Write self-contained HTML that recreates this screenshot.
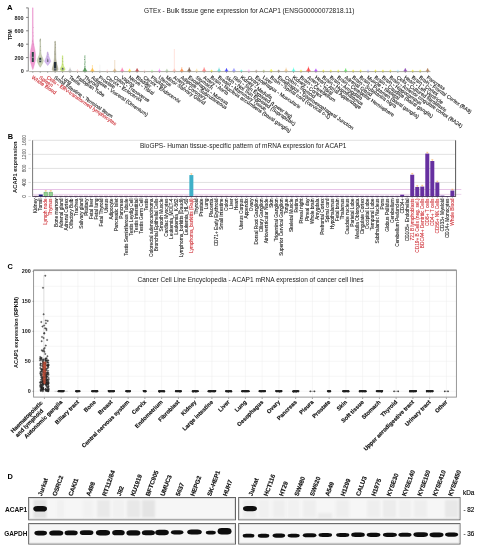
<!DOCTYPE html><html><head><meta charset="utf-8"><title>ACAP1 expression figure</title><style>html,body{margin:0;padding:0;background:#fff;width:479px;height:550px;overflow:hidden}svg{display:block;font-family:"Liberation Sans",Arial,sans-serif;filter:blur(0.3px)}</style></head><body><svg width="479" height="550" viewBox="0 0 479 550" font-family="&quot;Liberation Sans&quot;, Arial, sans-serif"><defs><filter id="b1" x="-20%" y="-60%" width="140%" height="220%"><feGaussianBlur stdDeviation="0.45"/></filter><filter id="b2" x="-20%" y="-20%" width="140%" height="140%"><feGaussianBlur stdDeviation="1.2"/></filter></defs><text x="6.9" y="9.8" font-size="7.8" font-weight="bold" fill="#000" text-anchor="start">A</text>
<text x="144" y="13.3" font-size="6.57" font-weight="normal" fill="#222" text-anchor="start" stroke="none">GTEx - Bulk tissue gene expression for ACAP1 (ENSG00000072818.11)</text>
<line x1="28.3" y1="7.8" x2="28.3" y2="71.3" stroke="#7a7a7a" stroke-width="0.85"/>
<line x1="26.1" y1="7.9" x2="28.3" y2="7.9" stroke="#555" stroke-width="0.75"/>
<line x1="26.1" y1="71" x2="28.3" y2="71" stroke="#555" stroke-width="0.75"/>
<text x="23.7" y="73.4" font-size="5.5" font-weight="bold" fill="#222" text-anchor="end">0</text>
<line x1="26.1" y1="57.6" x2="28.3" y2="57.6" stroke="#555" stroke-width="0.75"/>
<text x="23.7" y="60" font-size="5.5" font-weight="bold" fill="#222" text-anchor="end">200</text>
<line x1="26.1" y1="44.2" x2="28.3" y2="44.2" stroke="#555" stroke-width="0.75"/>
<text x="23.7" y="46.6" font-size="5.5" font-weight="bold" fill="#222" text-anchor="end">40</text>
<line x1="26.1" y1="30.8" x2="28.3" y2="30.8" stroke="#555" stroke-width="0.75"/>
<text x="23.7" y="33.2" font-size="5.5" font-weight="bold" fill="#222" text-anchor="end">600</text>
<line x1="26.1" y1="17.4" x2="28.3" y2="17.4" stroke="#555" stroke-width="0.75"/>
<text x="23.7" y="19.8" font-size="5.5" font-weight="bold" fill="#222" text-anchor="end">800</text>
<text x="11.6" y="34.7" font-size="5" font-weight="bold" fill="#111" text-anchor="middle" transform="rotate(-90 11.6 34.7)">TPM</text>
<line x1="29.3" y1="71.6" x2="430.5" y2="71.6" stroke="#a4a49a" stroke-width="0.9"/>
<line x1="32.8" y1="71.6" x2="32.8" y2="73" stroke="#666" stroke-width="0.5"/>
<line x1="40.25" y1="71.6" x2="40.25" y2="73" stroke="#666" stroke-width="0.5"/>
<line x1="47.7" y1="71.6" x2="47.7" y2="73" stroke="#666" stroke-width="0.5"/>
<line x1="55.15" y1="71.6" x2="55.15" y2="73" stroke="#666" stroke-width="0.5"/>
<line x1="62.6" y1="71.6" x2="62.6" y2="73" stroke="#666" stroke-width="0.5"/>
<line x1="70.05" y1="71.6" x2="70.05" y2="73" stroke="#666" stroke-width="0.5"/>
<line x1="77.5" y1="71.6" x2="77.5" y2="73" stroke="#666" stroke-width="0.5"/>
<line x1="84.95" y1="71.6" x2="84.95" y2="73" stroke="#666" stroke-width="0.5"/>
<line x1="92.4" y1="71.6" x2="92.4" y2="73" stroke="#666" stroke-width="0.5"/>
<line x1="99.85" y1="71.6" x2="99.85" y2="73" stroke="#666" stroke-width="0.5"/>
<line x1="107.3" y1="71.6" x2="107.3" y2="73" stroke="#666" stroke-width="0.5"/>
<line x1="114.75" y1="71.6" x2="114.75" y2="73" stroke="#666" stroke-width="0.5"/>
<line x1="122.2" y1="71.6" x2="122.2" y2="73" stroke="#666" stroke-width="0.5"/>
<line x1="129.65" y1="71.6" x2="129.65" y2="73" stroke="#666" stroke-width="0.5"/>
<line x1="137.1" y1="71.6" x2="137.1" y2="73" stroke="#666" stroke-width="0.5"/>
<line x1="144.55" y1="71.6" x2="144.55" y2="73" stroke="#666" stroke-width="0.5"/>
<line x1="152" y1="71.6" x2="152" y2="73" stroke="#666" stroke-width="0.5"/>
<line x1="159.45" y1="71.6" x2="159.45" y2="73" stroke="#666" stroke-width="0.5"/>
<line x1="166.9" y1="71.6" x2="166.9" y2="73" stroke="#666" stroke-width="0.5"/>
<line x1="174.35" y1="71.6" x2="174.35" y2="73" stroke="#666" stroke-width="0.5"/>
<line x1="181.8" y1="71.6" x2="181.8" y2="73" stroke="#666" stroke-width="0.5"/>
<line x1="189.25" y1="71.6" x2="189.25" y2="73" stroke="#666" stroke-width="0.5"/>
<line x1="196.7" y1="71.6" x2="196.7" y2="73" stroke="#666" stroke-width="0.5"/>
<line x1="204.15" y1="71.6" x2="204.15" y2="73" stroke="#666" stroke-width="0.5"/>
<line x1="211.6" y1="71.6" x2="211.6" y2="73" stroke="#666" stroke-width="0.5"/>
<line x1="219.05" y1="71.6" x2="219.05" y2="73" stroke="#666" stroke-width="0.5"/>
<line x1="226.5" y1="71.6" x2="226.5" y2="73" stroke="#666" stroke-width="0.5"/>
<line x1="233.95" y1="71.6" x2="233.95" y2="73" stroke="#666" stroke-width="0.5"/>
<line x1="241.4" y1="71.6" x2="241.4" y2="73" stroke="#666" stroke-width="0.5"/>
<line x1="248.85" y1="71.6" x2="248.85" y2="73" stroke="#666" stroke-width="0.5"/>
<line x1="256.3" y1="71.6" x2="256.3" y2="73" stroke="#666" stroke-width="0.5"/>
<line x1="263.75" y1="71.6" x2="263.75" y2="73" stroke="#666" stroke-width="0.5"/>
<line x1="271.2" y1="71.6" x2="271.2" y2="73" stroke="#666" stroke-width="0.5"/>
<line x1="278.65" y1="71.6" x2="278.65" y2="73" stroke="#666" stroke-width="0.5"/>
<line x1="286.1" y1="71.6" x2="286.1" y2="73" stroke="#666" stroke-width="0.5"/>
<line x1="293.55" y1="71.6" x2="293.55" y2="73" stroke="#666" stroke-width="0.5"/>
<line x1="301" y1="71.6" x2="301" y2="73" stroke="#666" stroke-width="0.5"/>
<line x1="308.45" y1="71.6" x2="308.45" y2="73" stroke="#666" stroke-width="0.5"/>
<line x1="315.9" y1="71.6" x2="315.9" y2="73" stroke="#666" stroke-width="0.5"/>
<line x1="323.35" y1="71.6" x2="323.35" y2="73" stroke="#666" stroke-width="0.5"/>
<line x1="330.8" y1="71.6" x2="330.8" y2="73" stroke="#666" stroke-width="0.5"/>
<line x1="338.25" y1="71.6" x2="338.25" y2="73" stroke="#666" stroke-width="0.5"/>
<line x1="345.7" y1="71.6" x2="345.7" y2="73" stroke="#666" stroke-width="0.5"/>
<line x1="353.15" y1="71.6" x2="353.15" y2="73" stroke="#666" stroke-width="0.5"/>
<line x1="360.6" y1="71.6" x2="360.6" y2="73" stroke="#666" stroke-width="0.5"/>
<line x1="368.05" y1="71.6" x2="368.05" y2="73" stroke="#666" stroke-width="0.5"/>
<line x1="375.5" y1="71.6" x2="375.5" y2="73" stroke="#666" stroke-width="0.5"/>
<line x1="382.95" y1="71.6" x2="382.95" y2="73" stroke="#666" stroke-width="0.5"/>
<line x1="390.4" y1="71.6" x2="390.4" y2="73" stroke="#666" stroke-width="0.5"/>
<line x1="397.85" y1="71.6" x2="397.85" y2="73" stroke="#666" stroke-width="0.5"/>
<line x1="405.3" y1="71.6" x2="405.3" y2="73" stroke="#666" stroke-width="0.5"/>
<line x1="412.75" y1="71.6" x2="412.75" y2="73" stroke="#666" stroke-width="0.5"/>
<line x1="420.2" y1="71.6" x2="420.2" y2="73" stroke="#666" stroke-width="0.5"/>
<line x1="427.65" y1="71.6" x2="427.65" y2="73" stroke="#666" stroke-width="0.5"/>
<polygon points="32.5,7.8 32.48,20 32.4,38 32.05,43 31.3,47 30.5,51 30,55 29.95,58.5 30.5,62 31.6,66 32.3,68.5 32.7,69.6 32.9,69.6 33.3,68.5 34,66 35.1,62 35.65,58.5 35.6,55 35.1,51 34.3,47 33.55,43 33.2,38 33.12,20 33.1,7.8" fill="#ee9ad0" stroke="#e482c4" stroke-width="0.35"/>
<rect x="31.8" y="52" width="2" height="10" fill="#2a4444"/>
<line x1="31.8" y1="57.3" x2="33.8" y2="57.3" stroke="#e8e8e8" stroke-width="0.6"/>
<polygon points="40,38.8 39.95,45 39.7,52 39.25,55 37.95,58 37.15,60.5 37.85,63 39.15,65.5 40.15,67.2 40.35,67.2 41.35,65.5 42.65,63 43.35,60.5 42.55,58 41.25,55 40.8,52 40.55,45 40.5,38.8" fill="#c9d1b3" stroke="#9aa283" stroke-width="0.35"/>
<rect x="39.25" y="57.75" width="2" height="4.5" fill="#2a4040"/>
<line x1="39.25" y1="60.3" x2="41.25" y2="60.3" stroke="#e8e8e8" stroke-width="0.6"/>
<polygon points="47.4,51.9 46.9,55 46.1,57.5 44.6,61.2 45.3,62.5 46.5,64 47.6,65.5 47.8,65.5 48.9,64 50.1,62.5 50.8,61.2 49.3,57.5 48.5,55 48,51.9" fill="#d2b8ec" stroke="#b898d8" stroke-width="0.35"/>
<rect x="47.1" y="59.5" width="1.2" height="2.5" fill="#3a3a50"/>
<line x1="47.1" y1="61" x2="48.3" y2="61" stroke="#e8e8e8" stroke-width="0.6"/>
<polygon points="54.85,41.2 54.65,50 54.45,58 53.95,62 52.95,66 52.15,69.3 52.75,70.6 54.65,71.1 55.65,71.1 57.55,70.6 58.15,69.3 57.35,66 56.35,62 55.85,58 55.65,50 55.45,41.2" fill="#b7b7a0" stroke="#8a8a6a" stroke-width="0.35"/>
<rect x="53.95" y="62" width="2.4" height="8.4" fill="#25303a"/>
<line x1="53.95" y1="68.9" x2="56.35" y2="68.9" stroke="#e8e8e8" stroke-width="0.6"/>
<polygon points="62.35,55.7 62.25,63 61.7,66 60.4,68.3 60.1,69.8 61.8,71.1 63.4,71.1 65.1,69.8 64.8,68.3 63.5,66 62.95,63 62.85,55.7" fill="#d4ef8a" stroke="#a8d040" stroke-width="0.35"/>
<rect x="61.8" y="67.8" width="1.6" height="2.4" fill="#304040"/>
<line x1="61.8" y1="69.2" x2="63.4" y2="69.2" stroke="#e8e8e8" stroke-width="0.6"/>
<line x1="70.05" y1="67.5" x2="70.05" y2="71.2" stroke="#AAAAAA" stroke-width="0.45" stroke-opacity="0.75"/>
<polygon points="69.9,68.7 69.07,70.08 68.27,70.9 68.63,71.3 71.47,71.3 71.83,70.9 71.03,70.08 70.2,68.7" fill="#AAAAAA" fill-opacity="0.55" stroke="#AAAAAA" stroke-opacity="0.5" stroke-width="0.3"/>
<line x1="77.5" y1="69" x2="77.5" y2="71.2" stroke="#FFCCCC" stroke-width="0.45" stroke-opacity="0.75"/>
<polygon points="77.35,69.7 76.72,70.53 76.08,70.9 76.36,71.3 78.64,71.3 78.92,70.9 78.28,70.53 77.65,69.7" fill="#FFCCCC" fill-opacity="0.55" stroke="#FFCCCC" stroke-opacity="0.5" stroke-width="0.3"/>
<line x1="84.95" y1="55" x2="84.95" y2="71.2" stroke="#006600" stroke-width="0.45" stroke-opacity="0.75"/>
<polygon points="84.8,67.7 83.78,69.62 82.82,70.9 83.25,71.3 86.65,71.3 87.07,70.9 86.12,69.62 85.1,67.7" fill="#006600" fill-opacity="0.55" stroke="#006600" stroke-opacity="0.5" stroke-width="0.3"/>
<circle cx="84.81" cy="57" r="0.45" fill="#0a5a1a" fill-opacity="0.8"/>
<circle cx="84.67" cy="59.5" r="0.45" fill="#0a5a1a" fill-opacity="0.8"/>
<circle cx="85.07" cy="62" r="0.45" fill="#0a5a1a" fill-opacity="0.8"/>
<circle cx="84.61" cy="64" r="0.45" fill="#0a5a1a" fill-opacity="0.8"/>
<circle cx="84.98" cy="66.5" r="0.45" fill="#0a5a1a" fill-opacity="0.8"/>
<circle cx="84.84" cy="68" r="0.45" fill="#0a5a1a" fill-opacity="0.8"/>
<line x1="92.4" y1="65" x2="92.4" y2="71.2" stroke="#FFAA00" stroke-width="0.45" stroke-opacity="0.75"/>
<polygon points="92.25,68.2 91.33,69.85 90.45,70.9 90.84,71.3 93.96,71.3 94.35,70.9 93.47,69.85 92.55,68.2" fill="#FFAA00" fill-opacity="0.55" stroke="#FFAA00" stroke-opacity="0.5" stroke-width="0.3"/>
<line x1="99.85" y1="64.5" x2="99.85" y2="71.2" stroke="#DDDDDD" stroke-width="0.45" stroke-opacity="0.75"/>
<polygon points="99.7,70 99.12,70.66 98.53,70.9 98.79,71.3 100.91,71.3 101.17,70.9 100.58,70.66 100,70" fill="#DDDDDD" fill-opacity="0.55" stroke="#DDDDDD" stroke-opacity="0.5" stroke-width="0.3"/>
<line x1="107.3" y1="69" x2="107.3" y2="71.2" stroke="#FFCCCC" stroke-width="0.45" stroke-opacity="0.75"/>
<polygon points="107.15,70.2 106.61,70.75 106.05,70.9 106.3,71.3 108.3,71.3 108.55,70.9 107.99,70.75 107.45,70.2" fill="#FFCCCC" fill-opacity="0.55" stroke="#FFCCCC" stroke-opacity="0.5" stroke-width="0.3"/>
<line x1="114.75" y1="60" x2="114.75" y2="71.2" stroke="#CC9955" stroke-width="0.45" stroke-opacity="0.75"/>
<polygon points="114.6,68.7 113.77,70.08 112.97,70.9 113.33,71.3 116.17,71.3 116.53,70.9 115.73,70.08 114.9,68.7" fill="#CC9955" fill-opacity="0.55" stroke="#CC9955" stroke-opacity="0.5" stroke-width="0.3"/>
<line x1="122.2" y1="67.5" x2="122.2" y2="71.2" stroke="#FF5599" stroke-width="0.45" stroke-opacity="0.75"/>
<polygon points="122.05,68.4 121.17,69.94 120.32,70.9 120.7,71.3 123.7,71.3 124.08,70.9 123.23,69.94 122.35,68.4" fill="#FF5599" fill-opacity="0.55" stroke="#FF5599" stroke-opacity="0.5" stroke-width="0.3"/>
<line x1="129.65" y1="68.5" x2="129.65" y2="71.2" stroke="#FFD700" stroke-width="0.45" stroke-opacity="0.75"/>
<polygon points="129.5,69.2 128.77,70.3 128.05,70.9 128.37,71.3 130.93,71.3 131.25,70.9 130.53,70.3 129.8,69.2" fill="#FFD700" fill-opacity="0.55" stroke="#FFD700" stroke-opacity="0.5" stroke-width="0.3"/>
<line x1="137.1" y1="68" x2="137.1" y2="71.2" stroke="#AA0000" stroke-width="0.45" stroke-opacity="0.75"/>
<polygon points="136.95,68.8 136.14,70.12 135.36,70.9 135.71,71.3 138.49,71.3 138.84,70.9 138.06,70.12 137.25,68.8" fill="#AA0000" fill-opacity="0.55" stroke="#AA0000" stroke-opacity="0.5" stroke-width="0.3"/>
<line x1="144.55" y1="69.5" x2="144.55" y2="71.2" stroke="#FFCCCC" stroke-width="0.45" stroke-opacity="0.75"/>
<polygon points="144.4,70.2 143.86,70.75 143.3,70.9 143.55,71.3 145.55,71.3 145.8,70.9 145.24,70.75 144.7,70.2" fill="#FFCCCC" fill-opacity="0.55" stroke="#FFCCCC" stroke-opacity="0.5" stroke-width="0.3"/>
<line x1="152" y1="69.5" x2="152" y2="71.2" stroke="#AAFF99" stroke-width="0.45" stroke-opacity="0.75"/>
<polygon points="151.85,70 151.27,70.66 150.68,70.9 150.94,71.3 153.06,71.3 153.32,70.9 152.73,70.66 152.15,70" fill="#AAFF99" fill-opacity="0.55" stroke="#AAFF99" stroke-opacity="0.5" stroke-width="0.3"/>
<line x1="159.45" y1="68.5" x2="159.45" y2="71.2" stroke="#FF66FF" stroke-width="0.45" stroke-opacity="0.75"/>
<polygon points="159.3,69.7 158.67,70.53 158.02,70.9 158.31,71.3 160.59,71.3 160.88,70.9 160.23,70.53 159.6,69.7" fill="#FF66FF" fill-opacity="0.55" stroke="#FF66FF" stroke-opacity="0.5" stroke-width="0.3"/>
<line x1="166.9" y1="68.8" x2="166.9" y2="71.2" stroke="#99BB88" stroke-width="0.45" stroke-opacity="0.75"/>
<polygon points="166.75,69.4 166.06,70.39 165.37,70.9 165.68,71.3 168.12,71.3 168.43,70.9 167.74,70.39 167.05,69.4" fill="#99BB88" fill-opacity="0.55" stroke="#99BB88" stroke-opacity="0.5" stroke-width="0.3"/>
<line x1="174.35" y1="49" x2="174.35" y2="71.2" stroke="#FFAA99" stroke-width="0.45" stroke-opacity="0.75"/>
<polygon points="174.2,68.7 173.37,70.08 172.58,70.9 172.93,71.3 175.77,71.3 176.13,70.9 175.33,70.08 174.5,68.7" fill="#FFAA99" fill-opacity="0.55" stroke="#FFAA99" stroke-opacity="0.5" stroke-width="0.3"/>
<line x1="181.8" y1="67" x2="181.8" y2="71.2" stroke="#FF6600" stroke-width="0.45" stroke-opacity="0.75"/>
<polygon points="181.65,68.7 180.82,70.08 180.03,70.9 180.38,71.3 183.22,71.3 183.58,70.9 182.78,70.08 181.95,68.7" fill="#FF6600" fill-opacity="0.55" stroke="#FF6600" stroke-opacity="0.5" stroke-width="0.3"/>
<line x1="189.25" y1="67" x2="189.25" y2="71.2" stroke="#552200" stroke-width="0.45" stroke-opacity="0.75"/>
<polygon points="189.1,68.2 188.18,69.85 187.3,70.9 187.69,71.3 190.81,71.3 191.2,70.9 190.32,69.85 189.4,68.2" fill="#552200" fill-opacity="0.55" stroke="#552200" stroke-opacity="0.5" stroke-width="0.3"/>
<line x1="196.7" y1="68.5" x2="196.7" y2="71.2" stroke="#FFDD99" stroke-width="0.45" stroke-opacity="0.75"/>
<polygon points="196.55,69.2 195.82,70.3 195.1,70.9 195.42,71.3 197.98,71.3 198.3,70.9 197.58,70.3 196.85,69.2" fill="#FFDD99" fill-opacity="0.55" stroke="#FFDD99" stroke-opacity="0.5" stroke-width="0.3"/>
<line x1="204.15" y1="67" x2="204.15" y2="71.2" stroke="#FF5555" stroke-width="0.45" stroke-opacity="0.75"/>
<polygon points="204,68.2 203.08,69.85 202.2,70.9 202.59,71.3 205.71,71.3 206.1,70.9 205.22,69.85 204.3,68.2" fill="#FF5555" fill-opacity="0.55" stroke="#FF5555" stroke-opacity="0.5" stroke-width="0.3"/>
<line x1="211.6" y1="69.5" x2="211.6" y2="71.2" stroke="#EEEE00" stroke-width="0.45" stroke-opacity="0.75"/>
<polygon points="211.45,70.2 210.91,70.75 210.35,70.9 210.6,71.3 212.6,71.3 212.85,70.9 212.29,70.75 211.75,70.2" fill="#EEEE00" fill-opacity="0.55" stroke="#EEEE00" stroke-opacity="0.5" stroke-width="0.3"/>
<line x1="219.05" y1="67.5" x2="219.05" y2="71.2" stroke="#33CCCC" stroke-width="0.45" stroke-opacity="0.75"/>
<polygon points="218.9,68.7 218.07,70.08 217.28,70.9 217.63,71.3 220.47,71.3 220.83,70.9 220.03,70.08 219.2,68.7" fill="#33CCCC" fill-opacity="0.55" stroke="#33CCCC" stroke-opacity="0.5" stroke-width="0.3"/>
<line x1="226.5" y1="68" x2="226.5" y2="71.2" stroke="#0000FF" stroke-width="0.45" stroke-opacity="0.75"/>
<polygon points="226.35,68.7 225.52,70.08 224.72,70.9 225.08,71.3 227.92,71.3 228.28,70.9 227.48,70.08 226.65,68.7" fill="#0000FF" fill-opacity="0.55" stroke="#0000FF" stroke-opacity="0.5" stroke-width="0.3"/>
<line x1="233.95" y1="68" x2="233.95" y2="71.2" stroke="#7777FF" stroke-width="0.45" stroke-opacity="0.75"/>
<polygon points="233.8,68.7 232.97,70.08 232.17,70.9 232.53,71.3 235.37,71.3 235.72,70.9 234.93,70.08 234.1,68.7" fill="#7777FF" fill-opacity="0.55" stroke="#7777FF" stroke-opacity="0.5" stroke-width="0.3"/>
<line x1="241.4" y1="69.5" x2="241.4" y2="71.2" stroke="#22FFDD" stroke-width="0.45" stroke-opacity="0.75"/>
<polygon points="241.25,70.2 240.71,70.75 240.15,70.9 240.4,71.3 242.4,71.3 242.65,70.9 242.09,70.75 241.55,70.2" fill="#22FFDD" fill-opacity="0.55" stroke="#22FFDD" stroke-opacity="0.5" stroke-width="0.3"/>
<line x1="248.85" y1="69" x2="248.85" y2="71.2" stroke="#FFAAFF" stroke-width="0.45" stroke-opacity="0.75"/>
<polygon points="248.7,69.7 248.07,70.53 247.43,70.9 247.71,71.3 249.99,71.3 250.28,70.9 249.63,70.53 249,69.7" fill="#FFAAFF" fill-opacity="0.55" stroke="#FFAAFF" stroke-opacity="0.5" stroke-width="0.3"/>
<line x1="256.3" y1="69.5" x2="256.3" y2="71.2" stroke="#BB9988" stroke-width="0.45" stroke-opacity="0.75"/>
<polygon points="256.15,70 255.57,70.66 254.98,70.9 255.24,71.3 257.36,71.3 257.62,70.9 257.03,70.66 256.45,70" fill="#BB9988" fill-opacity="0.55" stroke="#BB9988" stroke-opacity="0.5" stroke-width="0.3"/>
<line x1="263.75" y1="69.5" x2="263.75" y2="71.2" stroke="#AABB66" stroke-width="0.45" stroke-opacity="0.75"/>
<polygon points="263.6,70.2 263.06,70.75 262.5,70.9 262.75,71.3 264.75,71.3 265,70.9 264.44,70.75 263.9,70.2" fill="#AABB66" fill-opacity="0.55" stroke="#AABB66" stroke-opacity="0.5" stroke-width="0.3"/>
<line x1="271.2" y1="69" x2="271.2" y2="71.2" stroke="#EEEE00" stroke-width="0.45" stroke-opacity="0.75"/>
<polygon points="271.05,69.4 270.36,70.39 269.67,70.9 269.98,71.3 272.42,71.3 272.73,70.9 272.04,70.39 271.35,69.4" fill="#EEEE00" fill-opacity="0.55" stroke="#EEEE00" stroke-opacity="0.5" stroke-width="0.3"/>
<line x1="278.65" y1="69.5" x2="278.65" y2="71.2" stroke="#8B7355" stroke-width="0.45" stroke-opacity="0.75"/>
<polygon points="278.5,70 277.92,70.66 277.33,70.9 277.59,71.3 279.71,71.3 279.97,70.9 279.38,70.66 278.8,70" fill="#8B7355" fill-opacity="0.55" stroke="#8B7355" stroke-opacity="0.5" stroke-width="0.3"/>
<line x1="286.1" y1="67.5" x2="286.1" y2="71.2" stroke="#EEBB77" stroke-width="0.45" stroke-opacity="0.75"/>
<polygon points="285.95,68.7 285.12,70.08 284.33,70.9 284.68,71.3 287.52,71.3 287.88,70.9 287.08,70.08 286.25,68.7" fill="#EEBB77" fill-opacity="0.55" stroke="#EEBB77" stroke-opacity="0.5" stroke-width="0.3"/>
<line x1="293.55" y1="67.5" x2="293.55" y2="71.2" stroke="#22FFDD" stroke-width="0.45" stroke-opacity="0.75"/>
<polygon points="293.4,68.7 292.57,70.08 291.78,70.9 292.13,71.3 294.97,71.3 295.32,70.9 294.53,70.08 293.7,68.7" fill="#22FFDD" fill-opacity="0.55" stroke="#22FFDD" stroke-opacity="0.5" stroke-width="0.3"/>
<line x1="301" y1="69.5" x2="301" y2="71.2" stroke="#EEEE00" stroke-width="0.45" stroke-opacity="0.75"/>
<polygon points="300.85,70.2 300.31,70.75 299.75,70.9 300,71.3 302,71.3 302.25,70.9 301.69,70.75 301.15,70.2" fill="#EEEE00" fill-opacity="0.55" stroke="#EEEE00" stroke-opacity="0.5" stroke-width="0.3"/>
<line x1="308.45" y1="66.5" x2="308.45" y2="71.2" stroke="#FF0000" stroke-width="0.45" stroke-opacity="0.75"/>
<polygon points="308.3,67.7 307.28,69.62 306.33,70.9 306.75,71.3 310.15,71.3 310.58,70.9 309.62,69.62 308.6,67.7" fill="#FF0000" fill-opacity="0.55" stroke="#FF0000" stroke-opacity="0.5" stroke-width="0.3"/>
<line x1="315.9" y1="68.5" x2="315.9" y2="71.2" stroke="#9900FF" stroke-width="0.45" stroke-opacity="0.75"/>
<polygon points="315.75,69.2 315.02,70.3 314.3,70.9 314.62,71.3 317.18,71.3 317.5,70.9 316.78,70.3 316.05,69.2" fill="#9900FF" fill-opacity="0.55" stroke="#9900FF" stroke-opacity="0.5" stroke-width="0.3"/>
<line x1="323.35" y1="69.5" x2="323.35" y2="71.2" stroke="#EEEE00" stroke-width="0.45" stroke-opacity="0.75"/>
<polygon points="323.2,70.2 322.66,70.75 322.1,70.9 322.35,71.3 324.35,71.3 324.6,70.9 324.04,70.75 323.5,70.2" fill="#EEEE00" fill-opacity="0.55" stroke="#EEEE00" stroke-opacity="0.5" stroke-width="0.3"/>
<line x1="330.8" y1="69.5" x2="330.8" y2="71.2" stroke="#EEEE00" stroke-width="0.45" stroke-opacity="0.75"/>
<polygon points="330.65,70.2 330.11,70.75 329.55,70.9 329.8,71.3 331.8,71.3 332.05,70.9 331.49,70.75 330.95,70.2" fill="#EEEE00" fill-opacity="0.55" stroke="#EEEE00" stroke-opacity="0.5" stroke-width="0.3"/>
<line x1="338.25" y1="69.5" x2="338.25" y2="71.2" stroke="#EEEE00" stroke-width="0.45" stroke-opacity="0.75"/>
<polygon points="338.1,70.2 337.56,70.75 337,70.9 337.25,71.3 339.25,71.3 339.5,70.9 338.94,70.75 338.4,70.2" fill="#EEEE00" fill-opacity="0.55" stroke="#EEEE00" stroke-opacity="0.5" stroke-width="0.3"/>
<line x1="345.7" y1="68" x2="345.7" y2="71.2" stroke="#33DD33" stroke-width="0.45" stroke-opacity="0.75"/>
<polygon points="345.55,69.2 344.82,70.3 344.1,70.9 344.42,71.3 346.98,71.3 347.3,70.9 346.58,70.3 345.85,69.2" fill="#33DD33" fill-opacity="0.55" stroke="#33DD33" stroke-opacity="0.5" stroke-width="0.3"/>
<line x1="353.15" y1="69.5" x2="353.15" y2="71.2" stroke="#EEEE00" stroke-width="0.45" stroke-opacity="0.75"/>
<polygon points="353,70.2 352.46,70.75 351.9,70.9 352.15,71.3 354.15,71.3 354.4,70.9 353.84,70.75 353.3,70.2" fill="#EEEE00" fill-opacity="0.55" stroke="#EEEE00" stroke-opacity="0.5" stroke-width="0.3"/>
<line x1="360.6" y1="69.5" x2="360.6" y2="71.2" stroke="#EEEE00" stroke-width="0.45" stroke-opacity="0.75"/>
<polygon points="360.45,70.2 359.91,70.75 359.35,70.9 359.6,71.3 361.6,71.3 361.85,70.9 361.29,70.75 360.75,70.2" fill="#EEEE00" fill-opacity="0.55" stroke="#EEEE00" stroke-opacity="0.5" stroke-width="0.3"/>
<line x1="368.05" y1="69.5" x2="368.05" y2="71.2" stroke="#AAAAFF" stroke-width="0.45" stroke-opacity="0.75"/>
<polygon points="367.9,70.2 367.36,70.75 366.8,70.9 367.05,71.3 369.05,71.3 369.3,70.9 368.74,70.75 368.2,70.2" fill="#AAAAFF" fill-opacity="0.55" stroke="#AAAAFF" stroke-opacity="0.5" stroke-width="0.3"/>
<line x1="375.5" y1="69.5" x2="375.5" y2="71.2" stroke="#EEEE00" stroke-width="0.45" stroke-opacity="0.75"/>
<polygon points="375.35,70.2 374.81,70.75 374.25,70.9 374.5,71.3 376.5,71.3 376.75,70.9 376.19,70.75 375.65,70.2" fill="#EEEE00" fill-opacity="0.55" stroke="#EEEE00" stroke-opacity="0.5" stroke-width="0.3"/>
<line x1="382.95" y1="69.5" x2="382.95" y2="71.2" stroke="#EEEE00" stroke-width="0.45" stroke-opacity="0.75"/>
<polygon points="382.8,70.2 382.26,70.75 381.7,70.9 381.95,71.3 383.95,71.3 384.2,70.9 383.64,70.75 383.1,70.2" fill="#EEEE00" fill-opacity="0.55" stroke="#EEEE00" stroke-opacity="0.5" stroke-width="0.3"/>
<line x1="390.4" y1="69.5" x2="390.4" y2="71.2" stroke="#EEEE00" stroke-width="0.45" stroke-opacity="0.75"/>
<polygon points="390.25,70.2 389.71,70.75 389.15,70.9 389.4,71.3 391.4,71.3 391.65,70.9 391.09,70.75 390.55,70.2" fill="#EEEE00" fill-opacity="0.55" stroke="#EEEE00" stroke-opacity="0.5" stroke-width="0.3"/>
<line x1="397.85" y1="69.5" x2="397.85" y2="71.2" stroke="#AAEEFF" stroke-width="0.45" stroke-opacity="0.75"/>
<polygon points="397.7,70 397.12,70.66 396.53,70.9 396.79,71.3 398.91,71.3 399.17,70.9 398.58,70.66 398,70" fill="#AAEEFF" fill-opacity="0.55" stroke="#AAEEFF" stroke-opacity="0.5" stroke-width="0.3"/>
<line x1="405.3" y1="68" x2="405.3" y2="71.2" stroke="#660099" stroke-width="0.45" stroke-opacity="0.75"/>
<polygon points="405.15,68.7 404.32,70.08 403.53,70.9 403.88,71.3 406.72,71.3 407.07,70.9 406.28,70.08 405.45,68.7" fill="#660099" fill-opacity="0.55" stroke="#660099" stroke-opacity="0.5" stroke-width="0.3"/>
<line x1="412.75" y1="69.5" x2="412.75" y2="71.2" stroke="#EEEE00" stroke-width="0.45" stroke-opacity="0.75"/>
<polygon points="412.6,70.2 412.06,70.75 411.5,70.9 411.75,71.3 413.75,71.3 414,70.9 413.44,70.75 412.9,70.2" fill="#EEEE00" fill-opacity="0.55" stroke="#EEEE00" stroke-opacity="0.5" stroke-width="0.3"/>
<line x1="420.2" y1="69.5" x2="420.2" y2="71.2" stroke="#EEEE00" stroke-width="0.45" stroke-opacity="0.75"/>
<polygon points="420.05,70.2 419.51,70.75 418.95,70.9 419.2,71.3 421.2,71.3 421.45,70.9 420.89,70.75 420.35,70.2" fill="#EEEE00" fill-opacity="0.55" stroke="#EEEE00" stroke-opacity="0.5" stroke-width="0.3"/>
<line x1="427.65" y1="68" x2="427.65" y2="71.2" stroke="#995522" stroke-width="0.45" stroke-opacity="0.75"/>
<polygon points="427.5,68.7 426.67,70.08 425.88,70.9 426.23,71.3 429.07,71.3 429.43,70.9 428.63,70.08 427.8,68.7" fill="#995522" fill-opacity="0.55" stroke="#995522" stroke-opacity="0.5" stroke-width="0.3"/>
<circle cx="33.3" cy="27.6" r="0.4" fill="#a05080" fill-opacity="0.6"/>
<circle cx="33" cy="32.8" r="0.4" fill="#a05080" fill-opacity="0.6"/>
<circle cx="33.4" cy="35.9" r="0.4" fill="#a05080" fill-opacity="0.6"/>
<circle cx="32.6" cy="41" r="0.4" fill="#a05080" fill-opacity="0.6"/>
<circle cx="33.2" cy="44" r="0.4" fill="#a05080" fill-opacity="0.6"/>
<circle cx="40.26" cy="40.04" r="0.35" fill="#555" fill-opacity="0.6"/>
<circle cx="40.17" cy="39.67" r="0.35" fill="#555" fill-opacity="0.6"/>
<circle cx="39.76" cy="40.26" r="0.35" fill="#555" fill-opacity="0.6"/>
<circle cx="40.64" cy="46.64" r="0.35" fill="#555" fill-opacity="0.6"/>
<circle cx="39.92" cy="41.23" r="0.35" fill="#555" fill-opacity="0.6"/>
<circle cx="40.79" cy="50.29" r="0.35" fill="#555" fill-opacity="0.6"/>
<circle cx="47.58" cy="56.04" r="0.35" fill="#555" fill-opacity="0.6"/>
<circle cx="47.16" cy="58.83" r="0.35" fill="#555" fill-opacity="0.6"/>
<circle cx="47.45" cy="58.01" r="0.35" fill="#555" fill-opacity="0.6"/>
<circle cx="47.24" cy="53.01" r="0.35" fill="#555" fill-opacity="0.6"/>
<circle cx="48.08" cy="54.16" r="0.35" fill="#555" fill-opacity="0.6"/>
<circle cx="55.25" cy="44.61" r="0.35" fill="#555" fill-opacity="0.6"/>
<circle cx="55" cy="53.78" r="0.35" fill="#555" fill-opacity="0.6"/>
<circle cx="54.63" cy="51.95" r="0.35" fill="#555" fill-opacity="0.6"/>
<circle cx="54.8" cy="42.19" r="0.35" fill="#555" fill-opacity="0.6"/>
<circle cx="55.06" cy="54.61" r="0.35" fill="#555" fill-opacity="0.6"/>
<circle cx="55.25" cy="47.28" r="0.35" fill="#555" fill-opacity="0.6"/>
<circle cx="62.36" cy="60.99" r="0.35" fill="#555" fill-opacity="0.6"/>
<circle cx="62.84" cy="64.74" r="0.35" fill="#555" fill-opacity="0.6"/>
<circle cx="62.69" cy="58.69" r="0.35" fill="#555" fill-opacity="0.6"/>
<circle cx="63.05" cy="61.78" r="0.35" fill="#555" fill-opacity="0.6"/>
<text x="31.3" y="78.3" font-size="5.05" font-weight="normal" fill="#d03a40" text-anchor="start" transform="rotate(34.5 31.3 78.3)" stroke="#d03a40" stroke-width="0.14">Whole Blood</text>
<text x="38.75" y="78.3" font-size="5.05" font-weight="normal" fill="#d03a40" text-anchor="start" transform="rotate(34.5 38.75 78.3)" stroke="#d03a40" stroke-width="0.14">Spleen</text>
<text x="46.2" y="78.3" font-size="5.05" font-weight="normal" fill="#d03a40" text-anchor="start" transform="rotate(34.5 46.2 78.3)" stroke="#d03a40" stroke-width="0.14">Cells - EBV-transformed lymphocytes</text>
<text x="53.65" y="78.3" font-size="5.05" font-weight="normal" fill="#2a2a2a" text-anchor="start" transform="rotate(34.5 53.65 78.3)" stroke="#2a2a2a" stroke-width="0.14">Small Intestine - Terminal Ileum</text>
<text x="61.1" y="78.3" font-size="5.05" font-weight="normal" fill="#2a2a2a" text-anchor="start" transform="rotate(34.5 61.1 78.3)" stroke="#2a2a2a" stroke-width="0.14">Lung</text>
<text x="68.55" y="78.3" font-size="5.05" font-weight="normal" fill="#2a2a2a" text-anchor="start" transform="rotate(34.5 68.55 78.3)" stroke="#2a2a2a" stroke-width="0.14">Testis</text>
<text x="76" y="78.3" font-size="5.05" font-weight="normal" fill="#2a2a2a" text-anchor="start" transform="rotate(34.5 76 78.3)" stroke="#2a2a2a" stroke-width="0.14">Fallopian Tube</text>
<text x="83.45" y="78.3" font-size="5.05" font-weight="normal" fill="#2a2a2a" text-anchor="start" transform="rotate(34.5 83.45 78.3)" stroke="#2a2a2a" stroke-width="0.14">Thyroid</text>
<text x="90.9" y="78.3" font-size="5.05" font-weight="normal" fill="#2a2a2a" text-anchor="start" transform="rotate(34.5 90.9 78.3)" stroke="#2a2a2a" stroke-width="0.14">Adipose - Visceral (Omentum)</text>
<text x="98.35" y="78.3" font-size="5.05" font-weight="normal" fill="#2a2a2a" text-anchor="start" transform="rotate(34.5 98.35 78.3)" stroke="#2a2a2a" stroke-width="0.14">Prostate</text>
<text x="105.8" y="78.3" font-size="5.05" font-weight="normal" fill="#2a2a2a" text-anchor="start" transform="rotate(34.5 105.8 78.3)" stroke="#2a2a2a" stroke-width="0.14">Cervix - Ectocervix</text>
<text x="113.25" y="78.3" font-size="5.05" font-weight="normal" fill="#2a2a2a" text-anchor="start" transform="rotate(34.5 113.25 78.3)" stroke="#2a2a2a" stroke-width="0.14">Colon - Transverse</text>
<text x="120.7" y="78.3" font-size="5.05" font-weight="normal" fill="#2a2a2a" text-anchor="start" transform="rotate(34.5 120.7 78.3)" stroke="#2a2a2a" stroke-width="0.14">Vagina</text>
<text x="128.15" y="78.3" font-size="5.05" font-weight="normal" fill="#2a2a2a" text-anchor="start" transform="rotate(34.5 128.15 78.3)" stroke="#2a2a2a" stroke-width="0.14">Nerve - Tibial</text>
<text x="135.6" y="78.3" font-size="5.05" font-weight="normal" fill="#2a2a2a" text-anchor="start" transform="rotate(34.5 135.6 78.3)" stroke="#2a2a2a" stroke-width="0.14">Bladder</text>
<text x="143.05" y="78.3" font-size="5.05" font-weight="normal" fill="#2a2a2a" text-anchor="start" transform="rotate(34.5 143.05 78.3)" stroke="#2a2a2a" stroke-width="0.14">Cervix - Endocervix</text>
<text x="150.5" y="78.3" font-size="5.05" font-weight="normal" fill="#2a2a2a" text-anchor="start" transform="rotate(34.5 150.5 78.3)" stroke="#2a2a2a" stroke-width="0.14">Pituitary</text>
<text x="157.95" y="78.3" font-size="5.05" font-weight="normal" fill="#2a2a2a" text-anchor="start" transform="rotate(34.5 157.95 78.3)" stroke="#2a2a2a" stroke-width="0.14">Uterus</text>
<text x="165.4" y="78.3" font-size="5.05" font-weight="normal" fill="#2a2a2a" text-anchor="start" transform="rotate(34.5 165.4 78.3)" stroke="#2a2a2a" stroke-width="0.14">Minor Salivary Gland</text>
<text x="172.85" y="78.3" font-size="5.05" font-weight="normal" fill="#2a2a2a" text-anchor="start" transform="rotate(34.5 172.85 78.3)" stroke="#2a2a2a" stroke-width="0.14">Artery - Coronary</text>
<text x="180.3" y="78.3" font-size="5.05" font-weight="normal" fill="#2a2a2a" text-anchor="start" transform="rotate(34.5 180.3 78.3)" stroke="#2a2a2a" stroke-width="0.14">Adipose - Subcutaneous</text>
<text x="187.75" y="78.3" font-size="5.05" font-weight="normal" fill="#2a2a2a" text-anchor="start" transform="rotate(34.5 187.75 78.3)" stroke="#2a2a2a" stroke-width="0.14">Esophagus - Mucosa</text>
<text x="195.2" y="78.3" font-size="5.05" font-weight="normal" fill="#2a2a2a" text-anchor="start" transform="rotate(34.5 195.2 78.3)" stroke="#2a2a2a" stroke-width="0.14">Stomach</text>
<text x="202.65" y="78.3" font-size="5.05" font-weight="normal" fill="#2a2a2a" text-anchor="start" transform="rotate(34.5 202.65 78.3)" stroke="#2a2a2a" stroke-width="0.14">Artery - Aorta</text>
<text x="210.1" y="78.3" font-size="5.05" font-weight="normal" fill="#2a2a2a" text-anchor="start" transform="rotate(34.5 210.1 78.3)" stroke="#2a2a2a" stroke-width="0.14">Brain - Nucleus accumbens (basal ganglia)</text>
<text x="217.55" y="78.3" font-size="5.05" font-weight="normal" fill="#2a2a2a" text-anchor="start" transform="rotate(34.5 217.55 78.3)" stroke="#2a2a2a" stroke-width="0.14">Breast - Mammary Tissue</text>
<text x="225" y="78.3" font-size="5.05" font-weight="normal" fill="#2a2a2a" text-anchor="start" transform="rotate(34.5 225 78.3)" stroke="#2a2a2a" stroke-width="0.14">Skin - Not Sun Exposed (Suprapubic)</text>
<text x="232.45" y="78.3" font-size="5.05" font-weight="normal" fill="#2a2a2a" text-anchor="start" transform="rotate(34.5 232.45 78.3)" stroke="#2a2a2a" stroke-width="0.14">Skin - Sun Exposed (Lower leg)</text>
<text x="239.9" y="78.3" font-size="5.05" font-weight="normal" fill="#2a2a2a" text-anchor="start" transform="rotate(34.5 239.9 78.3)" stroke="#2a2a2a" stroke-width="0.14">Kidney - Medulla</text>
<text x="247.35" y="78.3" font-size="5.05" font-weight="normal" fill="#2a2a2a" text-anchor="start" transform="rotate(34.5 247.35 78.3)" stroke="#2a2a2a" stroke-width="0.14">Ovary</text>
<text x="254.8" y="78.3" font-size="5.05" font-weight="normal" fill="#2a2a2a" text-anchor="start" transform="rotate(34.5 254.8 78.3)" stroke="#2a2a2a" stroke-width="0.14">Esophagus - Muscularis</text>
<text x="262.25" y="78.3" font-size="5.05" font-weight="normal" fill="#2a2a2a" text-anchor="start" transform="rotate(34.5 262.25 78.3)" stroke="#2a2a2a" stroke-width="0.14">Liver</text>
<text x="269.7" y="78.3" font-size="5.05" font-weight="normal" fill="#2a2a2a" text-anchor="start" transform="rotate(34.5 269.7 78.3)" stroke="#2a2a2a" stroke-width="0.14">Brain - Spinal cord (cervical c-1)</text>
<text x="277.15" y="78.3" font-size="5.05" font-weight="normal" fill="#2a2a2a" text-anchor="start" transform="rotate(34.5 277.15 78.3)" stroke="#2a2a2a" stroke-width="0.14">Esophagus - Gastroesophageal Junction</text>
<text x="284.6" y="78.3" font-size="5.05" font-weight="normal" fill="#2a2a2a" text-anchor="start" transform="rotate(34.5 284.6 78.3)" stroke="#2a2a2a" stroke-width="0.14">Colon - Sigmoid</text>
<text x="292.05" y="78.3" font-size="5.05" font-weight="normal" fill="#2a2a2a" text-anchor="start" transform="rotate(34.5 292.05 78.3)" stroke="#2a2a2a" stroke-width="0.14">Kidney - Cortex</text>
<text x="299.5" y="78.3" font-size="5.05" font-weight="normal" fill="#2a2a2a" text-anchor="start" transform="rotate(34.5 299.5 78.3)" stroke="#2a2a2a" stroke-width="0.14">Brain - Cerebellum</text>
<text x="306.95" y="78.3" font-size="5.05" font-weight="normal" fill="#2a2a2a" text-anchor="start" transform="rotate(34.5 306.95 78.3)" stroke="#2a2a2a" stroke-width="0.14">Artery - Tibial</text>
<text x="314.4" y="78.3" font-size="5.05" font-weight="normal" fill="#2a2a2a" text-anchor="start" transform="rotate(34.5 314.4 78.3)" stroke="#2a2a2a" stroke-width="0.14">Heart - Atrial Appendage</text>
<text x="321.85" y="78.3" font-size="5.05" font-weight="normal" fill="#2a2a2a" text-anchor="start" transform="rotate(34.5 321.85 78.3)" stroke="#2a2a2a" stroke-width="0.14">Brain - Hypothalamus</text>
<text x="329.3" y="78.3" font-size="5.05" font-weight="normal" fill="#2a2a2a" text-anchor="start" transform="rotate(34.5 329.3 78.3)" stroke="#2a2a2a" stroke-width="0.14">Brain - Amygdala</text>
<text x="336.75" y="78.3" font-size="5.05" font-weight="normal" fill="#2a2a2a" text-anchor="start" transform="rotate(34.5 336.75 78.3)" stroke="#2a2a2a" stroke-width="0.14">Brain - Cerebellar Hemisphere</text>
<text x="344.2" y="78.3" font-size="5.05" font-weight="normal" fill="#2a2a2a" text-anchor="start" transform="rotate(34.5 344.2 78.3)" stroke="#2a2a2a" stroke-width="0.14">Adrenal Gland</text>
<text x="351.65" y="78.3" font-size="5.05" font-weight="normal" fill="#2a2a2a" text-anchor="start" transform="rotate(34.5 351.65 78.3)" stroke="#2a2a2a" stroke-width="0.14">Brain - Substantia nigra</text>
<text x="359.1" y="78.3" font-size="5.05" font-weight="normal" fill="#2a2a2a" text-anchor="start" transform="rotate(34.5 359.1 78.3)" stroke="#2a2a2a" stroke-width="0.14">Brain - Putamen (basal ganglia)</text>
<text x="366.55" y="78.3" font-size="5.05" font-weight="normal" fill="#2a2a2a" text-anchor="start" transform="rotate(34.5 366.55 78.3)" stroke="#2a2a2a" stroke-width="0.14">Muscle - Skeletal</text>
<text x="374" y="78.3" font-size="5.05" font-weight="normal" fill="#2a2a2a" text-anchor="start" transform="rotate(34.5 374 78.3)" stroke="#2a2a2a" stroke-width="0.14">Brain - Caudate (basal ganglia)</text>
<text x="381.45" y="78.3" font-size="5.05" font-weight="normal" fill="#2a2a2a" text-anchor="start" transform="rotate(34.5 381.45 78.3)" stroke="#2a2a2a" stroke-width="0.14">Brain - Hippocampus</text>
<text x="388.9" y="78.3" font-size="5.05" font-weight="normal" fill="#2a2a2a" text-anchor="start" transform="rotate(34.5 388.9 78.3)" stroke="#2a2a2a" stroke-width="0.14">Brain - Anterior cingulate cortex (BA24)</text>
<text x="396.35" y="78.3" font-size="5.05" font-weight="normal" fill="#2a2a2a" text-anchor="start" transform="rotate(34.5 396.35 78.3)" stroke="#2a2a2a" stroke-width="0.14">Cells - Cultured fibroblasts</text>
<text x="403.8" y="78.3" font-size="5.05" font-weight="normal" fill="#2a2a2a" text-anchor="start" transform="rotate(34.5 403.8 78.3)" stroke="#2a2a2a" stroke-width="0.14">Heart - Left Ventricle</text>
<text x="411.25" y="78.3" font-size="5.05" font-weight="normal" fill="#2a2a2a" text-anchor="start" transform="rotate(34.5 411.25 78.3)" stroke="#2a2a2a" stroke-width="0.14">Brain - Cortex</text>
<text x="418.7" y="78.3" font-size="5.05" font-weight="normal" fill="#2a2a2a" text-anchor="start" transform="rotate(34.5 418.7 78.3)" stroke="#2a2a2a" stroke-width="0.14">Brain - Frontal Cortex (BA9)</text>
<text x="426.15" y="78.3" font-size="5.05" font-weight="normal" fill="#2a2a2a" text-anchor="start" transform="rotate(34.5 426.15 78.3)" stroke="#2a2a2a" stroke-width="0.14">Pancreas</text>
<text x="7.7" y="138.7" font-size="7.4" font-weight="bold" fill="#000" text-anchor="start">B</text>
<text x="140" y="148.2" font-size="6.52" font-weight="normal" fill="#222" text-anchor="start" stroke="none">BioGPS- Human tissue-specific pattern of mRNA expression for ACAP1</text>
<line x1="32.6" y1="182.45" x2="455.6" y2="182.45" stroke="#d4d4d4" stroke-width="0.7"/>
<line x1="32.6" y1="168.4" x2="455.6" y2="168.4" stroke="#d4d4d4" stroke-width="0.7"/>
<line x1="32.6" y1="154.35" x2="455.6" y2="154.35" stroke="#d4d4d4" stroke-width="0.7"/>
<line x1="32.6" y1="140.3" x2="455.6" y2="140.3" stroke="#d4d4d4" stroke-width="0.7"/>
<text x="26.3" y="196.5" font-size="4.6" font-weight="normal" fill="#444" text-anchor="middle" transform="rotate(-90 26.3 196.5)" stroke="#777" stroke-width="0.12">0</text>
<line x1="28.4" y1="196.5" x2="30.8" y2="196.5" stroke="#aaa" stroke-width="0.5"/>
<text x="26.3" y="182.45" font-size="4.6" font-weight="normal" fill="#444" text-anchor="middle" transform="rotate(-90 26.3 182.45)" stroke="#777" stroke-width="0.12">400</text>
<line x1="28.4" y1="182.45" x2="30.8" y2="182.45" stroke="#aaa" stroke-width="0.5"/>
<text x="26.3" y="168.4" font-size="4.6" font-weight="normal" fill="#666" text-anchor="middle" transform="rotate(-90 26.3 168.4)" stroke="#777" stroke-width="0.12">800</text>
<line x1="28.4" y1="168.4" x2="30.8" y2="168.4" stroke="#aaa" stroke-width="0.5"/>
<text x="26.3" y="154.35" font-size="4.6" font-weight="normal" fill="#666" text-anchor="middle" transform="rotate(-90 26.3 154.35)" stroke="#777" stroke-width="0.12">1200</text>
<line x1="28.4" y1="154.35" x2="30.8" y2="154.35" stroke="#aaa" stroke-width="0.5"/>
<text x="26.3" y="140.3" font-size="4.6" font-weight="normal" fill="#666" text-anchor="middle" transform="rotate(-90 26.3 140.3)" stroke="#777" stroke-width="0.12">1600</text>
<line x1="28.4" y1="140.3" x2="30.8" y2="140.3" stroke="#aaa" stroke-width="0.5"/>
<text x="17.2" y="167.2" font-size="5.75" font-weight="bold" fill="#111" text-anchor="middle" transform="rotate(-90 17.2 167.2)">ACAP1 expression</text>
<rect x="33.73" y="195.8" width="4" height="0.7" fill="#8a3a6a" fill-opacity="0.8"/>
<line x1="35.73" y1="196.5" x2="35.73" y2="197.8" stroke="#555" stroke-width="0.45"/>
<line x1="40.75" y1="196.5" x2="40.75" y2="197.8" stroke="#555" stroke-width="0.45"/>
<line x1="45.77" y1="196.5" x2="45.77" y2="197.8" stroke="#555" stroke-width="0.45"/>
<line x1="50.79" y1="196.5" x2="50.79" y2="197.8" stroke="#555" stroke-width="0.45"/>
<rect x="53.81" y="195.8" width="4" height="0.7" fill="#8a3a6a" fill-opacity="0.8"/>
<line x1="55.81" y1="196.5" x2="55.81" y2="197.8" stroke="#555" stroke-width="0.45"/>
<rect x="58.83" y="195.8" width="4" height="0.7" fill="#8a3a6a" fill-opacity="0.8"/>
<line x1="60.83" y1="196.5" x2="60.83" y2="197.8" stroke="#555" stroke-width="0.45"/>
<rect x="63.85" y="195.8" width="4" height="0.7" fill="#8a3a6a" fill-opacity="0.8"/>
<line x1="65.85" y1="196.5" x2="65.85" y2="197.8" stroke="#555" stroke-width="0.45"/>
<rect x="68.87" y="195.8" width="4" height="0.7" fill="#8a3a6a" fill-opacity="0.8"/>
<line x1="70.87" y1="196.5" x2="70.87" y2="197.8" stroke="#555" stroke-width="0.45"/>
<rect x="73.89" y="195.8" width="4" height="0.7" fill="#8a3a6a" fill-opacity="0.8"/>
<line x1="75.89" y1="196.5" x2="75.89" y2="197.8" stroke="#555" stroke-width="0.45"/>
<rect x="78.91" y="195.8" width="4" height="0.7" fill="#8a3a6a" fill-opacity="0.8"/>
<line x1="80.91" y1="196.5" x2="80.91" y2="197.8" stroke="#555" stroke-width="0.45"/>
<rect x="83.93" y="195.8" width="4" height="0.7" fill="#8a3a6a" fill-opacity="0.8"/>
<line x1="85.93" y1="196.5" x2="85.93" y2="197.8" stroke="#555" stroke-width="0.45"/>
<rect x="88.95" y="195.8" width="4" height="0.7" fill="#8a3a6a" fill-opacity="0.8"/>
<line x1="90.95" y1="196.5" x2="90.95" y2="197.8" stroke="#555" stroke-width="0.45"/>
<rect x="93.97" y="195.8" width="4" height="0.7" fill="#8a3a6a" fill-opacity="0.8"/>
<line x1="95.97" y1="196.5" x2="95.97" y2="197.8" stroke="#555" stroke-width="0.45"/>
<rect x="98.99" y="195.8" width="4" height="0.7" fill="#8a3a6a" fill-opacity="0.8"/>
<line x1="100.99" y1="196.5" x2="100.99" y2="197.8" stroke="#555" stroke-width="0.45"/>
<rect x="104.01" y="195.8" width="4" height="0.7" fill="#8a3a6a" fill-opacity="0.8"/>
<line x1="106.01" y1="196.5" x2="106.01" y2="197.8" stroke="#555" stroke-width="0.45"/>
<rect x="109.03" y="195.8" width="4" height="0.7" fill="#8a3a6a" fill-opacity="0.8"/>
<line x1="111.03" y1="196.5" x2="111.03" y2="197.8" stroke="#555" stroke-width="0.45"/>
<rect x="114.05" y="195.8" width="4" height="0.7" fill="#8a3a6a" fill-opacity="0.8"/>
<line x1="116.05" y1="196.5" x2="116.05" y2="197.8" stroke="#555" stroke-width="0.45"/>
<rect x="119.07" y="195.8" width="4" height="0.7" fill="#8a3a6a" fill-opacity="0.8"/>
<line x1="121.07" y1="196.5" x2="121.07" y2="197.8" stroke="#555" stroke-width="0.45"/>
<rect x="124.09" y="195.8" width="4" height="0.7" fill="#8a3a6a" fill-opacity="0.8"/>
<line x1="126.09" y1="196.5" x2="126.09" y2="197.8" stroke="#555" stroke-width="0.45"/>
<rect x="129.11" y="195.8" width="4" height="0.7" fill="#8a3a6a" fill-opacity="0.8"/>
<line x1="131.11" y1="196.5" x2="131.11" y2="197.8" stroke="#555" stroke-width="0.45"/>
<rect x="134.13" y="195.8" width="4" height="0.7" fill="#8a3a6a" fill-opacity="0.8"/>
<line x1="136.13" y1="196.5" x2="136.13" y2="197.8" stroke="#555" stroke-width="0.45"/>
<rect x="139.15" y="195.8" width="4" height="0.7" fill="#8a3a6a" fill-opacity="0.8"/>
<line x1="141.15" y1="196.5" x2="141.15" y2="197.8" stroke="#555" stroke-width="0.45"/>
<rect x="144.17" y="195.8" width="4" height="0.7" fill="#8a3a6a" fill-opacity="0.8"/>
<line x1="146.17" y1="196.5" x2="146.17" y2="197.8" stroke="#555" stroke-width="0.45"/>
<rect x="149.19" y="195.8" width="4" height="0.7" fill="#8a3a6a" fill-opacity="0.8"/>
<line x1="151.19" y1="196.5" x2="151.19" y2="197.8" stroke="#555" stroke-width="0.45"/>
<rect x="154.21" y="195.8" width="4" height="0.7" fill="#8a3a6a" fill-opacity="0.8"/>
<line x1="156.21" y1="196.5" x2="156.21" y2="197.8" stroke="#555" stroke-width="0.45"/>
<rect x="159.23" y="195.8" width="4" height="0.7" fill="#8a3a6a" fill-opacity="0.8"/>
<line x1="161.23" y1="196.5" x2="161.23" y2="197.8" stroke="#555" stroke-width="0.45"/>
<rect x="164.25" y="195.8" width="4" height="0.7" fill="#8a3a6a" fill-opacity="0.8"/>
<line x1="166.25" y1="196.5" x2="166.25" y2="197.8" stroke="#555" stroke-width="0.45"/>
<rect x="169.27" y="195.8" width="4" height="0.7" fill="#8a3a6a" fill-opacity="0.8"/>
<line x1="171.27" y1="196.5" x2="171.27" y2="197.8" stroke="#555" stroke-width="0.45"/>
<rect x="174.29" y="195.8" width="4" height="0.7" fill="#8a3a6a" fill-opacity="0.8"/>
<line x1="176.29" y1="196.5" x2="176.29" y2="197.8" stroke="#555" stroke-width="0.45"/>
<rect x="179.31" y="195.8" width="4" height="0.7" fill="#8a3a6a" fill-opacity="0.8"/>
<line x1="181.31" y1="196.5" x2="181.31" y2="197.8" stroke="#555" stroke-width="0.45"/>
<rect x="184.33" y="195.8" width="4" height="0.7" fill="#8a3a6a" fill-opacity="0.8"/>
<line x1="186.33" y1="196.5" x2="186.33" y2="197.8" stroke="#555" stroke-width="0.45"/>
<line x1="191.35" y1="196.5" x2="191.35" y2="197.8" stroke="#555" stroke-width="0.45"/>
<rect x="194.37" y="195.8" width="4" height="0.7" fill="#8a3a6a" fill-opacity="0.8"/>
<line x1="196.37" y1="196.5" x2="196.37" y2="197.8" stroke="#555" stroke-width="0.45"/>
<rect x="199.39" y="195.8" width="4" height="0.7" fill="#8a3a6a" fill-opacity="0.8"/>
<line x1="201.39" y1="196.5" x2="201.39" y2="197.8" stroke="#555" stroke-width="0.45"/>
<rect x="204.41" y="195.8" width="4" height="0.7" fill="#8a3a6a" fill-opacity="0.8"/>
<line x1="206.41" y1="196.5" x2="206.41" y2="197.8" stroke="#555" stroke-width="0.45"/>
<rect x="209.43" y="195.8" width="4" height="0.7" fill="#8a3a6a" fill-opacity="0.8"/>
<line x1="211.43" y1="196.5" x2="211.43" y2="197.8" stroke="#555" stroke-width="0.45"/>
<rect x="214.45" y="195.8" width="4" height="0.7" fill="#8a3a6a" fill-opacity="0.8"/>
<line x1="216.45" y1="196.5" x2="216.45" y2="197.8" stroke="#555" stroke-width="0.45"/>
<rect x="219.47" y="195.8" width="4" height="0.7" fill="#8a3a6a" fill-opacity="0.8"/>
<line x1="221.47" y1="196.5" x2="221.47" y2="197.8" stroke="#555" stroke-width="0.45"/>
<rect x="224.49" y="195.8" width="4" height="0.7" fill="#8a3a6a" fill-opacity="0.8"/>
<line x1="226.49" y1="196.5" x2="226.49" y2="197.8" stroke="#555" stroke-width="0.45"/>
<rect x="229.51" y="195.8" width="4" height="0.7" fill="#8a3a6a" fill-opacity="0.8"/>
<line x1="231.51" y1="196.5" x2="231.51" y2="197.8" stroke="#555" stroke-width="0.45"/>
<rect x="234.53" y="195.8" width="4" height="0.7" fill="#8a3a6a" fill-opacity="0.8"/>
<line x1="236.53" y1="196.5" x2="236.53" y2="197.8" stroke="#555" stroke-width="0.45"/>
<rect x="239.55" y="195.8" width="4" height="0.7" fill="#6a3a8a" fill-opacity="0.8"/>
<line x1="241.55" y1="196.5" x2="241.55" y2="197.8" stroke="#555" stroke-width="0.45"/>
<rect x="244.57" y="195.8" width="4" height="0.7" fill="#6a3a8a" fill-opacity="0.8"/>
<line x1="246.57" y1="196.5" x2="246.57" y2="197.8" stroke="#555" stroke-width="0.45"/>
<rect x="249.59" y="195.8" width="4" height="0.7" fill="#6a3a8a" fill-opacity="0.8"/>
<line x1="251.59" y1="196.5" x2="251.59" y2="197.8" stroke="#555" stroke-width="0.45"/>
<rect x="254.61" y="195.8" width="4" height="0.7" fill="#6a3a8a" fill-opacity="0.8"/>
<line x1="256.61" y1="196.5" x2="256.61" y2="197.8" stroke="#555" stroke-width="0.45"/>
<rect x="259.63" y="195.8" width="4" height="0.7" fill="#6a3a8a" fill-opacity="0.8"/>
<line x1="261.63" y1="196.5" x2="261.63" y2="197.8" stroke="#555" stroke-width="0.45"/>
<rect x="264.65" y="195.8" width="4" height="0.7" fill="#6a3a8a" fill-opacity="0.8"/>
<line x1="266.65" y1="196.5" x2="266.65" y2="197.8" stroke="#555" stroke-width="0.45"/>
<rect x="269.67" y="195.8" width="4" height="0.7" fill="#6a3a8a" fill-opacity="0.8"/>
<line x1="271.67" y1="196.5" x2="271.67" y2="197.8" stroke="#555" stroke-width="0.45"/>
<rect x="274.69" y="195.8" width="4" height="0.7" fill="#6a3a8a" fill-opacity="0.8"/>
<line x1="276.69" y1="196.5" x2="276.69" y2="197.8" stroke="#555" stroke-width="0.45"/>
<rect x="279.71" y="195.8" width="4" height="0.7" fill="#6a3a8a" fill-opacity="0.8"/>
<line x1="281.71" y1="196.5" x2="281.71" y2="197.8" stroke="#555" stroke-width="0.45"/>
<rect x="284.73" y="195.8" width="4" height="0.7" fill="#6a3a8a" fill-opacity="0.8"/>
<line x1="286.73" y1="196.5" x2="286.73" y2="197.8" stroke="#555" stroke-width="0.45"/>
<rect x="289.75" y="195.8" width="4" height="0.7" fill="#6a3a8a" fill-opacity="0.8"/>
<line x1="291.75" y1="196.5" x2="291.75" y2="197.8" stroke="#555" stroke-width="0.45"/>
<rect x="294.77" y="195.8" width="4" height="0.7" fill="#6a3a8a" fill-opacity="0.8"/>
<line x1="296.77" y1="196.5" x2="296.77" y2="197.8" stroke="#555" stroke-width="0.45"/>
<rect x="299.79" y="195.8" width="4" height="0.7" fill="#6a3a8a" fill-opacity="0.8"/>
<line x1="301.79" y1="196.5" x2="301.79" y2="197.8" stroke="#555" stroke-width="0.45"/>
<rect x="304.81" y="195.8" width="4" height="0.7" fill="#6a3a8a" fill-opacity="0.8"/>
<line x1="306.81" y1="196.5" x2="306.81" y2="197.8" stroke="#555" stroke-width="0.45"/>
<rect x="309.83" y="195.8" width="4" height="0.7" fill="#6a3a8a" fill-opacity="0.8"/>
<line x1="311.83" y1="196.5" x2="311.83" y2="197.8" stroke="#555" stroke-width="0.45"/>
<rect x="314.85" y="195.8" width="4" height="0.7" fill="#6a3a8a" fill-opacity="0.8"/>
<line x1="316.85" y1="196.5" x2="316.85" y2="197.8" stroke="#555" stroke-width="0.45"/>
<rect x="319.87" y="195.8" width="4" height="0.7" fill="#6a3a8a" fill-opacity="0.8"/>
<line x1="321.87" y1="196.5" x2="321.87" y2="197.8" stroke="#555" stroke-width="0.45"/>
<rect x="324.89" y="195.8" width="4" height="0.7" fill="#6a3a8a" fill-opacity="0.8"/>
<line x1="326.89" y1="196.5" x2="326.89" y2="197.8" stroke="#555" stroke-width="0.45"/>
<rect x="329.91" y="195.8" width="4" height="0.7" fill="#6a3a8a" fill-opacity="0.8"/>
<line x1="331.91" y1="196.5" x2="331.91" y2="197.8" stroke="#555" stroke-width="0.45"/>
<rect x="334.93" y="195.8" width="4" height="0.7" fill="#6a3a8a" fill-opacity="0.8"/>
<line x1="336.93" y1="196.5" x2="336.93" y2="197.8" stroke="#555" stroke-width="0.45"/>
<rect x="339.95" y="195.8" width="4" height="0.7" fill="#6a3a8a" fill-opacity="0.8"/>
<line x1="341.95" y1="196.5" x2="341.95" y2="197.8" stroke="#555" stroke-width="0.45"/>
<rect x="344.97" y="195.8" width="4" height="0.7" fill="#6a3a8a" fill-opacity="0.8"/>
<line x1="346.97" y1="196.5" x2="346.97" y2="197.8" stroke="#555" stroke-width="0.45"/>
<rect x="349.99" y="195.8" width="4" height="0.7" fill="#6a3a8a" fill-opacity="0.8"/>
<line x1="351.99" y1="196.5" x2="351.99" y2="197.8" stroke="#555" stroke-width="0.45"/>
<rect x="355.01" y="195.8" width="4" height="0.7" fill="#6a3a8a" fill-opacity="0.8"/>
<line x1="357.01" y1="196.5" x2="357.01" y2="197.8" stroke="#555" stroke-width="0.45"/>
<rect x="360.03" y="195.8" width="4" height="0.7" fill="#6a3a8a" fill-opacity="0.8"/>
<line x1="362.03" y1="196.5" x2="362.03" y2="197.8" stroke="#555" stroke-width="0.45"/>
<rect x="365.05" y="195.8" width="4" height="0.7" fill="#6a3a8a" fill-opacity="0.8"/>
<line x1="367.05" y1="196.5" x2="367.05" y2="197.8" stroke="#555" stroke-width="0.45"/>
<rect x="370.07" y="195.8" width="4" height="0.7" fill="#6a3a8a" fill-opacity="0.8"/>
<line x1="372.07" y1="196.5" x2="372.07" y2="197.8" stroke="#555" stroke-width="0.45"/>
<rect x="375.09" y="195.8" width="4" height="0.7" fill="#6a3a8a" fill-opacity="0.8"/>
<line x1="377.09" y1="196.5" x2="377.09" y2="197.8" stroke="#555" stroke-width="0.45"/>
<rect x="380.11" y="195.8" width="4" height="0.7" fill="#6a3a8a" fill-opacity="0.8"/>
<line x1="382.11" y1="196.5" x2="382.11" y2="197.8" stroke="#555" stroke-width="0.45"/>
<rect x="385.13" y="195.8" width="4" height="0.7" fill="#6a3a8a" fill-opacity="0.8"/>
<line x1="387.13" y1="196.5" x2="387.13" y2="197.8" stroke="#555" stroke-width="0.45"/>
<rect x="390.15" y="195.8" width="4" height="0.7" fill="#6a3a8a" fill-opacity="0.8"/>
<line x1="392.15" y1="196.5" x2="392.15" y2="197.8" stroke="#555" stroke-width="0.45"/>
<rect x="395.17" y="195.8" width="4" height="0.7" fill="#6a3a8a" fill-opacity="0.8"/>
<line x1="397.17" y1="196.5" x2="397.17" y2="197.8" stroke="#555" stroke-width="0.45"/>
<line x1="402.19" y1="196.5" x2="402.19" y2="197.8" stroke="#555" stroke-width="0.45"/>
<rect x="405.21" y="195.8" width="4" height="0.7" fill="#6a3a8a" fill-opacity="0.8"/>
<line x1="407.21" y1="196.5" x2="407.21" y2="197.8" stroke="#555" stroke-width="0.45"/>
<line x1="412.23" y1="196.5" x2="412.23" y2="197.8" stroke="#555" stroke-width="0.45"/>
<line x1="417.25" y1="196.5" x2="417.25" y2="197.8" stroke="#555" stroke-width="0.45"/>
<line x1="422.27" y1="196.5" x2="422.27" y2="197.8" stroke="#555" stroke-width="0.45"/>
<line x1="427.29" y1="196.5" x2="427.29" y2="197.8" stroke="#555" stroke-width="0.45"/>
<line x1="432.31" y1="196.5" x2="432.31" y2="197.8" stroke="#555" stroke-width="0.45"/>
<line x1="437.33" y1="196.5" x2="437.33" y2="197.8" stroke="#555" stroke-width="0.45"/>
<line x1="442.35" y1="196.5" x2="442.35" y2="197.8" stroke="#555" stroke-width="0.45"/>
<line x1="447.37" y1="196.5" x2="447.37" y2="197.8" stroke="#555" stroke-width="0.45"/>
<line x1="452.39" y1="196.5" x2="452.39" y2="197.8" stroke="#555" stroke-width="0.45"/>
<line x1="32.6" y1="189.5" x2="461.3" y2="189.5" stroke="#cf86cf" stroke-width="0.5"/>
<line x1="32.6" y1="194.4" x2="461.3" y2="194.4" stroke="#d8a4d8" stroke-width="0.45"/>
<rect x="38.75" y="194.57" width="4" height="1.93" fill="#1c1c80"/>
<rect x="43.97" y="192.13" width="3.6" height="4.37" fill="#92d092" stroke="#5c9e5c" stroke-width="0.45"/>
<line x1="45.77" y1="190.63" x2="45.77" y2="191.93" stroke="#f0a040" stroke-width="0.5"/>
<line x1="44.77" y1="190.63" x2="46.77" y2="190.63" stroke="#f0a040" stroke-width="0.5"/>
<rect x="48.99" y="192.13" width="3.6" height="4.37" fill="#92d092" stroke="#5c9e5c" stroke-width="0.45"/>
<line x1="50.79" y1="190.63" x2="50.79" y2="191.93" stroke="#f0a040" stroke-width="0.5"/>
<line x1="49.79" y1="190.63" x2="51.79" y2="190.63" stroke="#f0a040" stroke-width="0.5"/>
<rect x="189.35" y="175.07" width="4" height="21.43" fill="#3fb0c8"/>
<line x1="191.35" y1="173.77" x2="191.35" y2="175.07" stroke="#f0a040" stroke-width="0.5"/>
<line x1="190.35" y1="173.77" x2="192.35" y2="173.77" stroke="#f0a040" stroke-width="0.5"/>
<rect x="400.19" y="194.74" width="4" height="1.76" fill="#6630a0"/>
<rect x="410.23" y="174.72" width="4" height="21.78" fill="#6630a0"/>
<line x1="412.23" y1="173.42" x2="412.23" y2="174.72" stroke="#f0a040" stroke-width="0.5"/>
<line x1="411.23" y1="173.42" x2="413.23" y2="173.42" stroke="#f0a040" stroke-width="0.5"/>
<rect x="415.25" y="186.95" width="4" height="9.55" fill="#6630a0"/>
<line x1="417.25" y1="185.65" x2="417.25" y2="186.95" stroke="#f0a040" stroke-width="0.5"/>
<line x1="416.25" y1="185.65" x2="418.25" y2="185.65" stroke="#f0a040" stroke-width="0.5"/>
<rect x="420.27" y="186.59" width="4" height="9.91" fill="#6630a0"/>
<line x1="422.27" y1="185.29" x2="422.27" y2="186.59" stroke="#f0a040" stroke-width="0.5"/>
<line x1="421.27" y1="185.29" x2="423.27" y2="185.29" stroke="#f0a040" stroke-width="0.5"/>
<rect x="425.29" y="153.58" width="4" height="42.92" fill="#6630a0"/>
<line x1="427.29" y1="152.28" x2="427.29" y2="153.58" stroke="#f0a040" stroke-width="0.5"/>
<line x1="426.29" y1="152.28" x2="428.29" y2="152.28" stroke="#f0a040" stroke-width="0.5"/>
<rect x="430.31" y="161.02" width="4" height="35.48" fill="#6630a0"/>
<line x1="432.31" y1="159.72" x2="432.31" y2="161.02" stroke="#f0a040" stroke-width="0.5"/>
<line x1="431.31" y1="159.72" x2="433.31" y2="159.72" stroke="#f0a040" stroke-width="0.5"/>
<rect x="435.33" y="182.45" width="4" height="14.05" fill="#6630a0"/>
<line x1="437.33" y1="181.15" x2="437.33" y2="182.45" stroke="#f0a040" stroke-width="0.5"/>
<line x1="436.33" y1="181.15" x2="438.33" y2="181.15" stroke="#f0a040" stroke-width="0.5"/>
<rect x="440.35" y="195.62" width="4" height="0.88" fill="#6630a0"/>
<rect x="445.37" y="196.08" width="4" height="0.42" fill="#6630a0"/>
<rect x="450.39" y="190.53" width="4" height="5.97" fill="#6630a0"/>
<line x1="452.39" y1="189.23" x2="452.39" y2="190.53" stroke="#f0a040" stroke-width="0.5"/>
<line x1="451.39" y1="189.23" x2="453.39" y2="189.23" stroke="#f0a040" stroke-width="0.5"/>
<line x1="32.6" y1="196.5" x2="455.6" y2="196.5" stroke="#3a2a4a" stroke-width="0.8"/>
<line x1="32.6" y1="140.3" x2="32.6" y2="196.8" stroke="#555" stroke-width="0.8"/>
<line x1="455.6" y1="140.3" x2="455.6" y2="196.8" stroke="#444" stroke-width="0.9"/>
<text x="37.43" y="198.5" font-size="4.8" font-weight="normal" fill="#2a2a2a" text-anchor="end" transform="rotate(-90 37.43 198.5)" stroke="#2a2a2a" stroke-width="0.12">Kidney</text>
<text x="42.45" y="198.5" font-size="4.8" font-weight="normal" fill="#2a2a2a" text-anchor="end" transform="rotate(-90 42.45 198.5)" stroke="#2a2a2a" stroke-width="0.12">Tonsil</text>
<text x="47.47" y="198.5" font-size="4.8" font-weight="normal" fill="#d03a40" text-anchor="end" transform="rotate(-90 47.47 198.5)" stroke="#d03a40" stroke-width="0.12">Lymph node</text>
<text x="52.49" y="198.5" font-size="4.8" font-weight="normal" fill="#d03a40" text-anchor="end" transform="rotate(-90 52.49 198.5)" stroke="#d03a40" stroke-width="0.12">Thymus</text>
<text x="57.51" y="198.5" font-size="4.8" font-weight="normal" fill="#2a2a2a" text-anchor="end" transform="rotate(-90 57.51 198.5)" stroke="#2a2a2a" stroke-width="0.12">Bone marrow</text>
<text x="62.53" y="198.5" font-size="4.8" font-weight="normal" fill="#2a2a2a" text-anchor="end" transform="rotate(-90 62.53 198.5)" stroke="#2a2a2a" stroke-width="0.12">Adrenal gland</text>
<text x="67.55" y="198.5" font-size="4.8" font-weight="normal" fill="#2a2a2a" text-anchor="end" transform="rotate(-90 67.55 198.5)" stroke="#2a2a2a" stroke-width="0.12">Adrenal Cortex</text>
<text x="72.57" y="198.5" font-size="4.8" font-weight="normal" fill="#2a2a2a" text-anchor="end" transform="rotate(-90 72.57 198.5)" stroke="#2a2a2a" stroke-width="0.12">Olfactory Bulb</text>
<text x="77.59" y="198.5" font-size="4.8" font-weight="normal" fill="#2a2a2a" text-anchor="end" transform="rotate(-90 77.59 198.5)" stroke="#2a2a2a" stroke-width="0.12">Trachea</text>
<text x="82.61" y="198.5" font-size="4.8" font-weight="normal" fill="#2a2a2a" text-anchor="end" transform="rotate(-90 82.61 198.5)" stroke="#2a2a2a" stroke-width="0.12">Salivary gland</text>
<text x="87.63" y="198.5" font-size="4.8" font-weight="normal" fill="#2a2a2a" text-anchor="end" transform="rotate(-90 87.63 198.5)" stroke="#2a2a2a" stroke-width="0.12">Pituitary</text>
<text x="92.65" y="198.5" font-size="4.8" font-weight="normal" fill="#2a2a2a" text-anchor="end" transform="rotate(-90 92.65 198.5)" stroke="#2a2a2a" stroke-width="0.12">Fetal liver</text>
<text x="97.67" y="198.5" font-size="4.8" font-weight="normal" fill="#2a2a2a" text-anchor="end" transform="rotate(-90 97.67 198.5)" stroke="#2a2a2a" stroke-width="0.12">Fetal lung</text>
<text x="102.69" y="198.5" font-size="4.8" font-weight="normal" fill="#2a2a2a" text-anchor="end" transform="rotate(-90 102.69 198.5)" stroke="#2a2a2a" stroke-width="0.12">Fetal Thyroid</text>
<text x="107.71" y="198.5" font-size="4.8" font-weight="normal" fill="#2a2a2a" text-anchor="end" transform="rotate(-90 107.71 198.5)" stroke="#2a2a2a" stroke-width="0.12">Uterus</text>
<text x="112.73" y="198.5" font-size="4.8" font-weight="normal" fill="#2a2a2a" text-anchor="end" transform="rotate(-90 112.73 198.5)" stroke="#2a2a2a" stroke-width="0.12">Adipocyte</text>
<text x="117.75" y="198.5" font-size="4.8" font-weight="normal" fill="#2a2a2a" text-anchor="end" transform="rotate(-90 117.75 198.5)" stroke="#2a2a2a" stroke-width="0.12">Pancreatic Islet</text>
<text x="122.77" y="198.5" font-size="4.8" font-weight="normal" fill="#2a2a2a" text-anchor="end" transform="rotate(-90 122.77 198.5)" stroke="#2a2a2a" stroke-width="0.12">Pancreas</text>
<text x="127.79" y="198.5" font-size="4.8" font-weight="normal" fill="#2a2a2a" text-anchor="end" transform="rotate(-90 127.79 198.5)" stroke="#2a2a2a" stroke-width="0.12">Testis Seminiferous Tubule</text>
<text x="132.81" y="198.5" font-size="4.8" font-weight="normal" fill="#2a2a2a" text-anchor="end" transform="rotate(-90 132.81 198.5)" stroke="#2a2a2a" stroke-width="0.12">Testis Leydig Cell</text>
<text x="137.83" y="198.5" font-size="4.8" font-weight="normal" fill="#2a2a2a" text-anchor="end" transform="rotate(-90 137.83 198.5)" stroke="#2a2a2a" stroke-width="0.12">Testis Interstitial</text>
<text x="142.85" y="198.5" font-size="4.8" font-weight="normal" fill="#2a2a2a" text-anchor="end" transform="rotate(-90 142.85 198.5)" stroke="#2a2a2a" stroke-width="0.12">Testis Germ Cell</text>
<text x="147.87" y="198.5" font-size="4.8" font-weight="normal" fill="#2a2a2a" text-anchor="end" transform="rotate(-90 147.87 198.5)" stroke="#2a2a2a" stroke-width="0.12">Testis</text>
<text x="152.89" y="198.5" font-size="4.8" font-weight="normal" fill="#2a2a2a" text-anchor="end" transform="rotate(-90 152.89 198.5)" stroke="#2a2a2a" stroke-width="0.12">Colorectal adenocarcinoma</text>
<text x="157.91" y="198.5" font-size="4.8" font-weight="normal" fill="#2a2a2a" text-anchor="end" transform="rotate(-90 157.91 198.5)" stroke="#2a2a2a" stroke-width="0.12">Bronchial Epithelial Cells</text>
<text x="162.93" y="198.5" font-size="4.8" font-weight="normal" fill="#2a2a2a" text-anchor="end" transform="rotate(-90 162.93 198.5)" stroke="#2a2a2a" stroke-width="0.12">Smooth Muscle</text>
<text x="167.95" y="198.5" font-size="4.8" font-weight="normal" fill="#2a2a2a" text-anchor="end" transform="rotate(-90 167.95 198.5)" stroke="#2a2a2a" stroke-width="0.12">Cardiac Myocytes</text>
<text x="172.97" y="198.5" font-size="4.8" font-weight="normal" fill="#2a2a2a" text-anchor="end" transform="rotate(-90 172.97 198.5)" stroke="#2a2a2a" stroke-width="0.12">Leukemia_MOLT-4</text>
<text x="177.99" y="198.5" font-size="4.8" font-weight="normal" fill="#2a2a2a" text-anchor="end" transform="rotate(-90 177.99 198.5)" stroke="#2a2a2a" stroke-width="0.12">Leukemia_K-562</text>
<text x="183.01" y="198.5" font-size="4.8" font-weight="normal" fill="#2a2a2a" text-anchor="end" transform="rotate(-90 183.01 198.5)" stroke="#2a2a2a" stroke-width="0.12">Lymphoma_burkitts (Daudi)</text>
<text x="188.03" y="198.5" font-size="4.8" font-weight="normal" fill="#2a2a2a" text-anchor="end" transform="rotate(-90 188.03 198.5)" stroke="#2a2a2a" stroke-width="0.12">Leukemia_HL-60</text>
<text x="193.05" y="198.5" font-size="4.8" font-weight="normal" fill="#d03a40" text-anchor="end" transform="rotate(-90 193.05 198.5)" stroke="#d03a40" stroke-width="0.12">Lymphoma_burkitts (Raji)</text>
<text x="198.07" y="198.5" font-size="4.8" font-weight="normal" fill="#2a2a2a" text-anchor="end" transform="rotate(-90 198.07 198.5)" stroke="#2a2a2a" stroke-width="0.12">Thyroid</text>
<text x="203.09" y="198.5" font-size="4.8" font-weight="normal" fill="#2a2a2a" text-anchor="end" transform="rotate(-90 203.09 198.5)" stroke="#2a2a2a" stroke-width="0.12">Prostate</text>
<text x="208.11" y="198.5" font-size="4.8" font-weight="normal" fill="#2a2a2a" text-anchor="end" transform="rotate(-90 208.11 198.5)" stroke="#2a2a2a" stroke-width="0.12">Lung</text>
<text x="213.13" y="198.5" font-size="4.8" font-weight="normal" fill="#2a2a2a" text-anchor="end" transform="rotate(-90 213.13 198.5)" stroke="#2a2a2a" stroke-width="0.12">Placenta</text>
<text x="218.15" y="198.5" font-size="4.8" font-weight="normal" fill="#2a2a2a" text-anchor="end" transform="rotate(-90 218.15 198.5)" stroke="#2a2a2a" stroke-width="0.12">CD71+ Early Erythroid</text>
<text x="223.17" y="198.5" font-size="4.8" font-weight="normal" fill="#2a2a2a" text-anchor="end" transform="rotate(-90 223.17 198.5)" stroke="#2a2a2a" stroke-width="0.12">Small intestine</text>
<text x="228.19" y="198.5" font-size="4.8" font-weight="normal" fill="#2a2a2a" text-anchor="end" transform="rotate(-90 228.19 198.5)" stroke="#2a2a2a" stroke-width="0.12">Colon</text>
<text x="233.21" y="198.5" font-size="4.8" font-weight="normal" fill="#2a2a2a" text-anchor="end" transform="rotate(-90 233.21 198.5)" stroke="#2a2a2a" stroke-width="0.12">Liver</text>
<text x="238.23" y="198.5" font-size="4.8" font-weight="normal" fill="#2a2a2a" text-anchor="end" transform="rotate(-90 238.23 198.5)" stroke="#2a2a2a" stroke-width="0.12">Heart</text>
<text x="243.25" y="198.5" font-size="4.8" font-weight="normal" fill="#2a2a2a" text-anchor="end" transform="rotate(-90 243.25 198.5)" stroke="#2a2a2a" stroke-width="0.12">Uterus Corpus</text>
<text x="248.27" y="198.5" font-size="4.8" font-weight="normal" fill="#2a2a2a" text-anchor="end" transform="rotate(-90 248.27 198.5)" stroke="#2a2a2a" stroke-width="0.12">Appendix</text>
<text x="253.29" y="198.5" font-size="4.8" font-weight="normal" fill="#2a2a2a" text-anchor="end" transform="rotate(-90 253.29 198.5)" stroke="#2a2a2a" stroke-width="0.12">Ovary</text>
<text x="258.31" y="198.5" font-size="4.8" font-weight="normal" fill="#2a2a2a" text-anchor="end" transform="rotate(-90 258.31 198.5)" stroke="#2a2a2a" stroke-width="0.12">Dorsal Root Ganglion</text>
<text x="263.33" y="198.5" font-size="4.8" font-weight="normal" fill="#2a2a2a" text-anchor="end" transform="rotate(-90 263.33 198.5)" stroke="#2a2a2a" stroke-width="0.12">Ciliary Ganglion</text>
<text x="268.35" y="198.5" font-size="4.8" font-weight="normal" fill="#2a2a2a" text-anchor="end" transform="rotate(-90 268.35 198.5)" stroke="#2a2a2a" stroke-width="0.12">Atrioventricular Node</text>
<text x="273.37" y="198.5" font-size="4.8" font-weight="normal" fill="#2a2a2a" text-anchor="end" transform="rotate(-90 273.37 198.5)" stroke="#2a2a2a" stroke-width="0.12">Skin</text>
<text x="278.39" y="198.5" font-size="4.8" font-weight="normal" fill="#2a2a2a" text-anchor="end" transform="rotate(-90 278.39 198.5)" stroke="#2a2a2a" stroke-width="0.12">Trigeminal Ganglion</text>
<text x="283.41" y="198.5" font-size="4.8" font-weight="normal" fill="#2a2a2a" text-anchor="end" transform="rotate(-90 283.41 198.5)" stroke="#2a2a2a" stroke-width="0.12">Superior Cervical Ganglion</text>
<text x="288.43" y="198.5" font-size="4.8" font-weight="normal" fill="#2a2a2a" text-anchor="end" transform="rotate(-90 288.43 198.5)" stroke="#2a2a2a" stroke-width="0.12">Tongue</text>
<text x="293.45" y="198.5" font-size="4.8" font-weight="normal" fill="#2a2a2a" text-anchor="end" transform="rotate(-90 293.45 198.5)" stroke="#2a2a2a" stroke-width="0.12">Skeletal Muscle</text>
<text x="298.47" y="198.5" font-size="4.8" font-weight="normal" fill="#2a2a2a" text-anchor="end" transform="rotate(-90 298.47 198.5)" stroke="#2a2a2a" stroke-width="0.12">Retina</text>
<text x="303.49" y="198.5" font-size="4.8" font-weight="normal" fill="#2a2a2a" text-anchor="end" transform="rotate(-90 303.49 198.5)" stroke="#2a2a2a" stroke-width="0.12">Pineal night</text>
<text x="308.51" y="198.5" font-size="4.8" font-weight="normal" fill="#2a2a2a" text-anchor="end" transform="rotate(-90 308.51 198.5)" stroke="#2a2a2a" stroke-width="0.12">Pineal day</text>
<text x="313.53" y="198.5" font-size="4.8" font-weight="normal" fill="#2a2a2a" text-anchor="end" transform="rotate(-90 313.53 198.5)" stroke="#2a2a2a" stroke-width="0.12">Whole brain</text>
<text x="318.55" y="198.5" font-size="4.8" font-weight="normal" fill="#2a2a2a" text-anchor="end" transform="rotate(-90 318.55 198.5)" stroke="#2a2a2a" stroke-width="0.12">Amygdala</text>
<text x="323.57" y="198.5" font-size="4.8" font-weight="normal" fill="#2a2a2a" text-anchor="end" transform="rotate(-90 323.57 198.5)" stroke="#2a2a2a" stroke-width="0.12">Prefrontal Cortex</text>
<text x="328.59" y="198.5" font-size="4.8" font-weight="normal" fill="#2a2a2a" text-anchor="end" transform="rotate(-90 328.59 198.5)" stroke="#2a2a2a" stroke-width="0.12">Spinal cord</text>
<text x="333.61" y="198.5" font-size="4.8" font-weight="normal" fill="#2a2a2a" text-anchor="end" transform="rotate(-90 333.61 198.5)" stroke="#2a2a2a" stroke-width="0.12">Hypothalamus</text>
<text x="338.63" y="198.5" font-size="4.8" font-weight="normal" fill="#2a2a2a" text-anchor="end" transform="rotate(-90 338.63 198.5)" stroke="#2a2a2a" stroke-width="0.12">Fetal brain</text>
<text x="343.65" y="198.5" font-size="4.8" font-weight="normal" fill="#2a2a2a" text-anchor="end" transform="rotate(-90 343.65 198.5)" stroke="#2a2a2a" stroke-width="0.12">Thalamus</text>
<text x="348.67" y="198.5" font-size="4.8" font-weight="normal" fill="#2a2a2a" text-anchor="end" transform="rotate(-90 348.67 198.5)" stroke="#2a2a2a" stroke-width="0.12">Caudate nucleus</text>
<text x="353.69" y="198.5" font-size="4.8" font-weight="normal" fill="#2a2a2a" text-anchor="end" transform="rotate(-90 353.69 198.5)" stroke="#2a2a2a" stroke-width="0.12">Parietal Lobe</text>
<text x="358.71" y="198.5" font-size="4.8" font-weight="normal" fill="#2a2a2a" text-anchor="end" transform="rotate(-90 358.71 198.5)" stroke="#2a2a2a" stroke-width="0.12">Medulla Oblongata</text>
<text x="363.73" y="198.5" font-size="4.8" font-weight="normal" fill="#2a2a2a" text-anchor="end" transform="rotate(-90 363.73 198.5)" stroke="#2a2a2a" stroke-width="0.12">Cingulate Cortex</text>
<text x="368.75" y="198.5" font-size="4.8" font-weight="normal" fill="#2a2a2a" text-anchor="end" transform="rotate(-90 368.75 198.5)" stroke="#2a2a2a" stroke-width="0.12">Occipital Lobe</text>
<text x="373.77" y="198.5" font-size="4.8" font-weight="normal" fill="#2a2a2a" text-anchor="end" transform="rotate(-90 373.77 198.5)" stroke="#2a2a2a" stroke-width="0.12">Temporal Lobe</text>
<text x="378.79" y="198.5" font-size="4.8" font-weight="normal" fill="#2a2a2a" text-anchor="end" transform="rotate(-90 378.79 198.5)" stroke="#2a2a2a" stroke-width="0.12">Subthalamic Nucleus</text>
<text x="383.81" y="198.5" font-size="4.8" font-weight="normal" fill="#2a2a2a" text-anchor="end" transform="rotate(-90 383.81 198.5)" stroke="#2a2a2a" stroke-width="0.12">Pons</text>
<text x="388.83" y="198.5" font-size="4.8" font-weight="normal" fill="#2a2a2a" text-anchor="end" transform="rotate(-90 388.83 198.5)" stroke="#2a2a2a" stroke-width="0.12">Globus Pallidus</text>
<text x="393.85" y="198.5" font-size="4.8" font-weight="normal" fill="#2a2a2a" text-anchor="end" transform="rotate(-90 393.85 198.5)" stroke="#2a2a2a" stroke-width="0.12">Cerebellum</text>
<text x="398.87" y="198.5" font-size="4.8" font-weight="normal" fill="#2a2a2a" text-anchor="end" transform="rotate(-90 398.87 198.5)" stroke="#2a2a2a" stroke-width="0.12">Cerebellum Peduncles</text>
<text x="403.89" y="198.5" font-size="4.8" font-weight="normal" fill="#2a2a2a" text-anchor="end" transform="rotate(-90 403.89 198.5)" stroke="#2a2a2a" stroke-width="0.12">CD34+</text>
<text x="408.91" y="198.5" font-size="4.8" font-weight="normal" fill="#2a2a2a" text-anchor="end" transform="rotate(-90 408.91 198.5)" stroke="#2a2a2a" stroke-width="0.12">CD105+ Endothelial</text>
<text x="413.93" y="198.5" font-size="4.8" font-weight="normal" fill="#d03a40" text-anchor="end" transform="rotate(-90 413.93 198.5)" stroke="#d03a40" stroke-width="0.12">721 B lymphoblasts</text>
<text x="418.95" y="198.5" font-size="4.8" font-weight="normal" fill="#d03a40" text-anchor="end" transform="rotate(-90 418.95 198.5)" stroke="#d03a40" stroke-width="0.12">CD19+ B Cells (neg. sel.)</text>
<text x="423.97" y="198.5" font-size="4.8" font-weight="normal" fill="#d03a40" text-anchor="end" transform="rotate(-90 423.97 198.5)" stroke="#d03a40" stroke-width="0.12">BDCA4+ Dentritic Cells</text>
<text x="428.99" y="198.5" font-size="4.8" font-weight="normal" fill="#d03a40" text-anchor="end" transform="rotate(-90 428.99 198.5)" stroke="#d03a40" stroke-width="0.12">CD8+ T cells</text>
<text x="434.01" y="198.5" font-size="4.8" font-weight="normal" fill="#d03a40" text-anchor="end" transform="rotate(-90 434.01 198.5)" stroke="#d03a40" stroke-width="0.12">CD4+ T cells</text>
<text x="439.03" y="198.5" font-size="4.8" font-weight="normal" fill="#d03a40" text-anchor="end" transform="rotate(-90 439.03 198.5)" stroke="#d03a40" stroke-width="0.12">CD56+ NK Cells</text>
<text x="444.05" y="198.5" font-size="4.8" font-weight="normal" fill="#2a2a2a" text-anchor="end" transform="rotate(-90 444.05 198.5)" stroke="#2a2a2a" stroke-width="0.12">CD33+ Myeloid</text>
<text x="449.07" y="198.5" font-size="4.8" font-weight="normal" fill="#2a2a2a" text-anchor="end" transform="rotate(-90 449.07 198.5)" stroke="#2a2a2a" stroke-width="0.12">CD14+ Monocytes</text>
<text x="454.09" y="198.5" font-size="4.8" font-weight="normal" fill="#d03a40" text-anchor="end" transform="rotate(-90 454.09 198.5)" stroke="#d03a40" stroke-width="0.12">Whole Blood</text>
<text x="7.5" y="269.4" font-size="7.4" font-weight="bold" fill="#000" text-anchor="start">C</text>
<line x1="33.6" y1="391.3" x2="456.4" y2="391.3" stroke="#ececec" stroke-width="0.5"/>
<line x1="33.6" y1="376.3" x2="456.4" y2="376.3" stroke="#ececec" stroke-width="0.5"/>
<line x1="33.6" y1="361.3" x2="456.4" y2="361.3" stroke="#ececec" stroke-width="0.5"/>
<line x1="33.6" y1="346.3" x2="456.4" y2="346.3" stroke="#ececec" stroke-width="0.5"/>
<line x1="33.6" y1="331.3" x2="456.4" y2="331.3" stroke="#ececec" stroke-width="0.5"/>
<line x1="33.6" y1="316.3" x2="456.4" y2="316.3" stroke="#ececec" stroke-width="0.5"/>
<line x1="33.6" y1="301.3" x2="456.4" y2="301.3" stroke="#ececec" stroke-width="0.5"/>
<line x1="33.6" y1="286.3" x2="456.4" y2="286.3" stroke="#ececec" stroke-width="0.5"/>
<line x1="33.6" y1="271.3" x2="456.4" y2="271.3" stroke="#ececec" stroke-width="0.5"/>
<line x1="44.4" y1="270.2" x2="44.4" y2="397.1" stroke="#ececec" stroke-width="0.5"/>
<line x1="61.15" y1="270.2" x2="61.15" y2="397.1" stroke="#ececec" stroke-width="0.5"/>
<line x1="77.9" y1="270.2" x2="77.9" y2="397.1" stroke="#ececec" stroke-width="0.5"/>
<line x1="94.65" y1="270.2" x2="94.65" y2="397.1" stroke="#ececec" stroke-width="0.5"/>
<line x1="111.4" y1="270.2" x2="111.4" y2="397.1" stroke="#ececec" stroke-width="0.5"/>
<line x1="128.15" y1="270.2" x2="128.15" y2="397.1" stroke="#ececec" stroke-width="0.5"/>
<line x1="144.9" y1="270.2" x2="144.9" y2="397.1" stroke="#ececec" stroke-width="0.5"/>
<line x1="161.65" y1="270.2" x2="161.65" y2="397.1" stroke="#ececec" stroke-width="0.5"/>
<line x1="178.4" y1="270.2" x2="178.4" y2="397.1" stroke="#ececec" stroke-width="0.5"/>
<line x1="195.15" y1="270.2" x2="195.15" y2="397.1" stroke="#ececec" stroke-width="0.5"/>
<line x1="211.9" y1="270.2" x2="211.9" y2="397.1" stroke="#ececec" stroke-width="0.5"/>
<line x1="228.65" y1="270.2" x2="228.65" y2="397.1" stroke="#ececec" stroke-width="0.5"/>
<line x1="245.4" y1="270.2" x2="245.4" y2="397.1" stroke="#ececec" stroke-width="0.5"/>
<line x1="262.15" y1="270.2" x2="262.15" y2="397.1" stroke="#ececec" stroke-width="0.5"/>
<line x1="278.9" y1="270.2" x2="278.9" y2="397.1" stroke="#ececec" stroke-width="0.5"/>
<line x1="295.65" y1="270.2" x2="295.65" y2="397.1" stroke="#ececec" stroke-width="0.5"/>
<line x1="312.4" y1="270.2" x2="312.4" y2="397.1" stroke="#ececec" stroke-width="0.5"/>
<line x1="329.15" y1="270.2" x2="329.15" y2="397.1" stroke="#ececec" stroke-width="0.5"/>
<line x1="345.9" y1="270.2" x2="345.9" y2="397.1" stroke="#ececec" stroke-width="0.5"/>
<line x1="362.65" y1="270.2" x2="362.65" y2="397.1" stroke="#ececec" stroke-width="0.5"/>
<line x1="379.4" y1="270.2" x2="379.4" y2="397.1" stroke="#ececec" stroke-width="0.5"/>
<line x1="396.15" y1="270.2" x2="396.15" y2="397.1" stroke="#ececec" stroke-width="0.5"/>
<line x1="412.9" y1="270.2" x2="412.9" y2="397.1" stroke="#ececec" stroke-width="0.5"/>
<line x1="429.65" y1="270.2" x2="429.65" y2="397.1" stroke="#ececec" stroke-width="0.5"/>
<line x1="446.4" y1="270.2" x2="446.4" y2="397.1" stroke="#ececec" stroke-width="0.5"/>
<rect x="33.6" y="270.2" width="422.8" height="126.9" fill="none" stroke="#8c8c8c" stroke-width="0.9"/>
<line x1="33.6" y1="270.2" x2="456.4" y2="270.2" stroke="#9a9a9a" stroke-width="1.4"/>
<text x="137.5" y="281.9" font-size="6.55" font-weight="normal" fill="#222" text-anchor="start" stroke="none">Cancer Cell Line Encyclopedia - ACAP1 mRNA expression of cancer cell lines</text>
<text x="30.8" y="393.25" font-size="5.45" font-weight="bold" fill="#222" text-anchor="end">0</text>
<line x1="32.4" y1="391.3" x2="33.6" y2="391.3" stroke="#555" stroke-width="0.5"/>
<text x="30.8" y="363.25" font-size="5.45" font-weight="bold" fill="#222" text-anchor="end">50</text>
<line x1="32.4" y1="361.3" x2="33.6" y2="361.3" stroke="#555" stroke-width="0.5"/>
<text x="30.8" y="333.25" font-size="5.45" font-weight="bold" fill="#222" text-anchor="end">100</text>
<line x1="32.4" y1="331.3" x2="33.6" y2="331.3" stroke="#555" stroke-width="0.5"/>
<text x="30.8" y="303.25" font-size="5.45" font-weight="bold" fill="#222" text-anchor="end">150</text>
<line x1="32.4" y1="301.3" x2="33.6" y2="301.3" stroke="#555" stroke-width="0.5"/>
<text x="30.8" y="273.25" font-size="5.45" font-weight="bold" fill="#222" text-anchor="end">200</text>
<line x1="32.4" y1="271.3" x2="33.6" y2="271.3" stroke="#555" stroke-width="0.5"/>
<text x="17.5" y="332.5" font-size="5.55" font-weight="bold" fill="#111" text-anchor="middle" transform="rotate(-90 17.5 332.5)">ACAP1 expression (RPKM)</text>
<line x1="43.7" y1="275.3" x2="43.7" y2="392" stroke="#c8c8c8" stroke-width="0.5"/>
<rect x="42.4" y="361.5" width="4" height="22.8" fill="#c0503a"/>
<circle cx="43.19" cy="381.28" r="0.75" fill="#444" fill-opacity="0.8" stroke="#111" stroke-width="0.25"/>
<circle cx="40.33" cy="364.95" r="0.75" fill="#444" fill-opacity="0.8" stroke="#111" stroke-width="0.25"/>
<circle cx="40.92" cy="357.82" r="0.75" fill="#444" fill-opacity="0.8" stroke="#111" stroke-width="0.25"/>
<circle cx="46.39" cy="360.83" r="0.75" fill="#444" fill-opacity="0.8" stroke="#111" stroke-width="0.25"/>
<circle cx="45.44" cy="374.02" r="0.75" fill="#444" fill-opacity="0.8" stroke="#111" stroke-width="0.25"/>
<circle cx="43.39" cy="381.91" r="0.75" fill="#444" fill-opacity="0.8" stroke="#111" stroke-width="0.25"/>
<circle cx="46.2" cy="368.78" r="0.75" fill="#444" fill-opacity="0.8" stroke="#111" stroke-width="0.25"/>
<circle cx="40.31" cy="368.03" r="0.75" fill="#444" fill-opacity="0.8" stroke="#111" stroke-width="0.25"/>
<circle cx="45.41" cy="370.04" r="0.75" fill="#444" fill-opacity="0.8" stroke="#111" stroke-width="0.25"/>
<circle cx="42.21" cy="389.75" r="0.75" fill="#444" fill-opacity="0.8" stroke="#111" stroke-width="0.25"/>
<circle cx="42.03" cy="385.34" r="0.75" fill="#444" fill-opacity="0.8" stroke="#111" stroke-width="0.25"/>
<circle cx="48.22" cy="360.56" r="0.75" fill="#444" fill-opacity="0.8" stroke="#111" stroke-width="0.25"/>
<circle cx="47.59" cy="376.85" r="0.75" fill="#444" fill-opacity="0.8" stroke="#111" stroke-width="0.25"/>
<circle cx="42.98" cy="383.27" r="0.75" fill="#444" fill-opacity="0.8" stroke="#111" stroke-width="0.25"/>
<circle cx="48.11" cy="383.18" r="0.75" fill="#444" fill-opacity="0.8" stroke="#111" stroke-width="0.25"/>
<circle cx="42.13" cy="381.49" r="0.75" fill="#444" fill-opacity="0.8" stroke="#111" stroke-width="0.25"/>
<circle cx="41.18" cy="371.59" r="0.75" fill="#444" fill-opacity="0.8" stroke="#111" stroke-width="0.25"/>
<circle cx="42" cy="369.81" r="0.75" fill="#444" fill-opacity="0.8" stroke="#111" stroke-width="0.25"/>
<circle cx="46.59" cy="379.88" r="0.75" fill="#444" fill-opacity="0.8" stroke="#111" stroke-width="0.25"/>
<circle cx="45.42" cy="374.54" r="0.75" fill="#444" fill-opacity="0.8" stroke="#111" stroke-width="0.25"/>
<circle cx="43.22" cy="384.04" r="0.75" fill="#444" fill-opacity="0.8" stroke="#111" stroke-width="0.25"/>
<circle cx="41.72" cy="387.74" r="0.75" fill="#444" fill-opacity="0.8" stroke="#111" stroke-width="0.25"/>
<circle cx="40.54" cy="383.94" r="0.75" fill="#444" fill-opacity="0.8" stroke="#111" stroke-width="0.25"/>
<circle cx="48.54" cy="386.13" r="0.75" fill="#444" fill-opacity="0.8" stroke="#111" stroke-width="0.25"/>
<circle cx="40.63" cy="374.8" r="0.75" fill="#444" fill-opacity="0.8" stroke="#111" stroke-width="0.25"/>
<circle cx="46.29" cy="385.71" r="0.75" fill="#444" fill-opacity="0.8" stroke="#111" stroke-width="0.25"/>
<circle cx="46.88" cy="365.21" r="0.75" fill="#444" fill-opacity="0.8" stroke="#111" stroke-width="0.25"/>
<circle cx="40.27" cy="373.33" r="0.75" fill="#444" fill-opacity="0.8" stroke="#111" stroke-width="0.25"/>
<circle cx="40.95" cy="386.2" r="0.75" fill="#444" fill-opacity="0.8" stroke="#111" stroke-width="0.25"/>
<circle cx="41.16" cy="368.93" r="0.75" fill="#444" fill-opacity="0.8" stroke="#111" stroke-width="0.25"/>
<circle cx="42.36" cy="378.54" r="0.75" fill="#444" fill-opacity="0.8" stroke="#111" stroke-width="0.25"/>
<circle cx="47.43" cy="372.45" r="0.75" fill="#444" fill-opacity="0.8" stroke="#111" stroke-width="0.25"/>
<circle cx="40.78" cy="363.86" r="0.75" fill="#444" fill-opacity="0.8" stroke="#111" stroke-width="0.25"/>
<circle cx="42.9" cy="382.42" r="0.75" fill="#444" fill-opacity="0.8" stroke="#111" stroke-width="0.25"/>
<circle cx="40.83" cy="365.86" r="0.75" fill="#444" fill-opacity="0.8" stroke="#111" stroke-width="0.25"/>
<circle cx="46.77" cy="384.56" r="0.75" fill="#444" fill-opacity="0.8" stroke="#111" stroke-width="0.25"/>
<circle cx="45.48" cy="379.44" r="0.75" fill="#444" fill-opacity="0.8" stroke="#111" stroke-width="0.25"/>
<circle cx="45.92" cy="374.94" r="0.75" fill="#444" fill-opacity="0.8" stroke="#111" stroke-width="0.25"/>
<circle cx="41.92" cy="359.97" r="0.75" fill="#444" fill-opacity="0.8" stroke="#111" stroke-width="0.25"/>
<circle cx="40.68" cy="363.47" r="0.75" fill="#444" fill-opacity="0.8" stroke="#111" stroke-width="0.25"/>
<circle cx="41.93" cy="377.78" r="0.75" fill="#444" fill-opacity="0.8" stroke="#111" stroke-width="0.25"/>
<circle cx="45.5" cy="363.84" r="0.75" fill="#444" fill-opacity="0.8" stroke="#111" stroke-width="0.25"/>
<circle cx="46.6" cy="382.64" r="0.75" fill="#444" fill-opacity="0.8" stroke="#111" stroke-width="0.25"/>
<circle cx="40.12" cy="382.6" r="0.75" fill="#444" fill-opacity="0.8" stroke="#111" stroke-width="0.25"/>
<circle cx="48.02" cy="370.74" r="0.75" fill="#444" fill-opacity="0.8" stroke="#111" stroke-width="0.25"/>
<circle cx="47.5" cy="362.54" r="0.75" fill="#444" fill-opacity="0.8" stroke="#111" stroke-width="0.25"/>
<circle cx="43.53" cy="372.21" r="0.75" fill="#444" fill-opacity="0.8" stroke="#111" stroke-width="0.25"/>
<circle cx="41.76" cy="382.58" r="0.75" fill="#444" fill-opacity="0.8" stroke="#111" stroke-width="0.25"/>
<circle cx="40.71" cy="386.09" r="0.75" fill="#444" fill-opacity="0.8" stroke="#111" stroke-width="0.25"/>
<circle cx="46.95" cy="382.54" r="0.75" fill="#444" fill-opacity="0.8" stroke="#111" stroke-width="0.25"/>
<circle cx="48.12" cy="387.39" r="0.75" fill="#444" fill-opacity="0.8" stroke="#111" stroke-width="0.25"/>
<circle cx="47.52" cy="365.55" r="0.75" fill="#444" fill-opacity="0.8" stroke="#111" stroke-width="0.25"/>
<circle cx="41.74" cy="385.1" r="0.75" fill="#444" fill-opacity="0.8" stroke="#111" stroke-width="0.25"/>
<circle cx="47.92" cy="390.65" r="0.75" fill="#444" fill-opacity="0.8" stroke="#111" stroke-width="0.25"/>
<circle cx="43" cy="364.29" r="0.75" fill="#444" fill-opacity="0.8" stroke="#111" stroke-width="0.25"/>
<circle cx="42.46" cy="366.06" r="0.75" fill="#444" fill-opacity="0.8" stroke="#111" stroke-width="0.25"/>
<circle cx="40.51" cy="371.97" r="0.75" fill="#444" fill-opacity="0.8" stroke="#111" stroke-width="0.25"/>
<circle cx="40.9" cy="384.64" r="0.75" fill="#444" fill-opacity="0.8" stroke="#111" stroke-width="0.25"/>
<circle cx="42.05" cy="371.75" r="0.75" fill="#444" fill-opacity="0.8" stroke="#111" stroke-width="0.25"/>
<circle cx="41.18" cy="373.71" r="0.75" fill="#444" fill-opacity="0.8" stroke="#111" stroke-width="0.25"/>
<circle cx="46.98" cy="372.74" r="0.75" fill="#444" fill-opacity="0.8" stroke="#111" stroke-width="0.25"/>
<circle cx="48.43" cy="373.09" r="0.75" fill="#444" fill-opacity="0.8" stroke="#111" stroke-width="0.25"/>
<circle cx="45.68" cy="388.87" r="0.75" fill="#444" fill-opacity="0.8" stroke="#111" stroke-width="0.25"/>
<circle cx="41.25" cy="375.91" r="0.75" fill="#444" fill-opacity="0.8" stroke="#111" stroke-width="0.25"/>
<circle cx="47.94" cy="383.9" r="0.75" fill="#444" fill-opacity="0.8" stroke="#111" stroke-width="0.25"/>
<circle cx="45.7" cy="389.45" r="0.75" fill="#444" fill-opacity="0.8" stroke="#111" stroke-width="0.25"/>
<circle cx="40.99" cy="379.69" r="0.75" fill="#444" fill-opacity="0.8" stroke="#111" stroke-width="0.25"/>
<circle cx="40.14" cy="360.5" r="0.75" fill="#444" fill-opacity="0.8" stroke="#111" stroke-width="0.25"/>
<circle cx="48.68" cy="389.36" r="0.75" fill="#444" fill-opacity="0.8" stroke="#111" stroke-width="0.25"/>
<circle cx="46.31" cy="376.64" r="0.75" fill="#444" fill-opacity="0.8" stroke="#111" stroke-width="0.25"/>
<circle cx="46.74" cy="390.62" r="0.75" fill="#444" fill-opacity="0.8" stroke="#111" stroke-width="0.25"/>
<circle cx="46.99" cy="379.76" r="0.75" fill="#444" fill-opacity="0.8" stroke="#111" stroke-width="0.25"/>
<circle cx="40.2" cy="357.02" r="0.75" fill="#444" fill-opacity="0.8" stroke="#111" stroke-width="0.25"/>
<circle cx="40.43" cy="382.06" r="0.75" fill="#444" fill-opacity="0.8" stroke="#111" stroke-width="0.25"/>
<circle cx="48.17" cy="365" r="0.75" fill="#444" fill-opacity="0.8" stroke="#111" stroke-width="0.25"/>
<circle cx="45.72" cy="358.38" r="0.75" fill="#444" fill-opacity="0.8" stroke="#111" stroke-width="0.25"/>
<circle cx="45.51" cy="384.45" r="0.75" fill="#444" fill-opacity="0.8" stroke="#111" stroke-width="0.25"/>
<circle cx="48.33" cy="367.35" r="0.75" fill="#444" fill-opacity="0.8" stroke="#111" stroke-width="0.25"/>
<circle cx="40.79" cy="390.71" r="0.75" fill="#444" fill-opacity="0.8" stroke="#111" stroke-width="0.25"/>
<circle cx="42.67" cy="361.5" r="0.75" fill="#444" fill-opacity="0.8" stroke="#111" stroke-width="0.25"/>
<circle cx="48.44" cy="390.9" r="0.75" fill="#444" fill-opacity="0.8" stroke="#111" stroke-width="0.25"/>
<circle cx="40.32" cy="386.8" r="0.75" fill="#444" fill-opacity="0.8" stroke="#111" stroke-width="0.25"/>
<circle cx="42.89" cy="388.16" r="0.75" fill="#444" fill-opacity="0.8" stroke="#111" stroke-width="0.25"/>
<circle cx="42.59" cy="380.69" r="0.75" fill="#444" fill-opacity="0.8" stroke="#111" stroke-width="0.25"/>
<circle cx="48.01" cy="385.11" r="0.75" fill="#444" fill-opacity="0.8" stroke="#111" stroke-width="0.25"/>
<circle cx="41.03" cy="390.86" r="0.75" fill="#444" fill-opacity="0.8" stroke="#111" stroke-width="0.25"/>
<circle cx="46.06" cy="384.71" r="0.75" fill="#444" fill-opacity="0.8" stroke="#111" stroke-width="0.25"/>
<circle cx="47.5" cy="368.39" r="0.75" fill="#444" fill-opacity="0.8" stroke="#111" stroke-width="0.25"/>
<circle cx="47.61" cy="360.37" r="0.75" fill="#444" fill-opacity="0.8" stroke="#111" stroke-width="0.25"/>
<circle cx="42.18" cy="387.19" r="0.75" fill="#444" fill-opacity="0.8" stroke="#111" stroke-width="0.25"/>
<circle cx="43.55" cy="389.41" r="0.75" fill="#444" fill-opacity="0.8" stroke="#111" stroke-width="0.25"/>
<circle cx="45.77" cy="360.68" r="0.75" fill="#444" fill-opacity="0.8" stroke="#111" stroke-width="0.25"/>
<circle cx="47.3" cy="362.02" r="0.75" fill="#444" fill-opacity="0.8" stroke="#111" stroke-width="0.25"/>
<circle cx="43.05" cy="389.73" r="0.75" fill="#444" fill-opacity="0.8" stroke="#111" stroke-width="0.25"/>
<circle cx="48.6" cy="382.14" r="0.75" fill="#444" fill-opacity="0.8" stroke="#111" stroke-width="0.25"/>
<circle cx="45.96" cy="382.79" r="0.75" fill="#444" fill-opacity="0.8" stroke="#111" stroke-width="0.25"/>
<circle cx="41.94" cy="379.63" r="0.75" fill="#444" fill-opacity="0.8" stroke="#111" stroke-width="0.25"/>
<circle cx="43.28" cy="384.31" r="0.75" fill="#444" fill-opacity="0.8" stroke="#111" stroke-width="0.25"/>
<circle cx="42.22" cy="389.57" r="0.75" fill="#444" fill-opacity="0.8" stroke="#111" stroke-width="0.25"/>
<circle cx="41.55" cy="369.39" r="0.75" fill="#444" fill-opacity="0.8" stroke="#111" stroke-width="0.25"/>
<circle cx="47.88" cy="365.18" r="0.75" fill="#444" fill-opacity="0.8" stroke="#111" stroke-width="0.25"/>
<circle cx="47.73" cy="374.1" r="0.75" fill="#444" fill-opacity="0.8" stroke="#111" stroke-width="0.25"/>
<circle cx="47.77" cy="389.78" r="0.75" fill="#444" fill-opacity="0.8" stroke="#111" stroke-width="0.25"/>
<circle cx="40.71" cy="389.63" r="0.75" fill="#444" fill-opacity="0.8" stroke="#111" stroke-width="0.25"/>
<circle cx="43.3" cy="360.23" r="0.75" fill="#444" fill-opacity="0.8" stroke="#111" stroke-width="0.25"/>
<circle cx="42.28" cy="369.13" r="0.75" fill="#444" fill-opacity="0.8" stroke="#111" stroke-width="0.25"/>
<circle cx="41.41" cy="389.53" r="0.75" fill="#444" fill-opacity="0.8" stroke="#111" stroke-width="0.25"/>
<circle cx="42" cy="374.27" r="0.75" fill="#444" fill-opacity="0.8" stroke="#111" stroke-width="0.25"/>
<circle cx="41.29" cy="358.85" r="0.75" fill="#444" fill-opacity="0.8" stroke="#111" stroke-width="0.25"/>
<circle cx="48.03" cy="365.66" r="0.75" fill="#444" fill-opacity="0.8" stroke="#111" stroke-width="0.25"/>
<circle cx="42.79" cy="388.48" r="0.75" fill="#444" fill-opacity="0.8" stroke="#111" stroke-width="0.25"/>
<circle cx="45.47" cy="375.28" r="0.75" fill="#444" fill-opacity="0.8" stroke="#111" stroke-width="0.25"/>
<circle cx="41.44" cy="387.85" r="0.75" fill="#444" fill-opacity="0.8" stroke="#111" stroke-width="0.25"/>
<circle cx="42.44" cy="388.6" r="0.75" fill="#444" fill-opacity="0.8" stroke="#111" stroke-width="0.25"/>
<circle cx="43.56" cy="367.19" r="0.75" fill="#444" fill-opacity="0.8" stroke="#111" stroke-width="0.25"/>
<circle cx="41.18" cy="381.95" r="0.75" fill="#444" fill-opacity="0.8" stroke="#111" stroke-width="0.25"/>
<circle cx="46.83" cy="381.18" r="0.75" fill="#444" fill-opacity="0.8" stroke="#111" stroke-width="0.25"/>
<circle cx="42.51" cy="387.18" r="0.75" fill="#444" fill-opacity="0.8" stroke="#111" stroke-width="0.25"/>
<circle cx="46.81" cy="374.84" r="0.75" fill="#444" fill-opacity="0.8" stroke="#111" stroke-width="0.25"/>
<circle cx="48.68" cy="379.68" r="0.75" fill="#444" fill-opacity="0.8" stroke="#111" stroke-width="0.25"/>
<circle cx="43.34" cy="359.4" r="0.75" fill="#444" fill-opacity="0.8" stroke="#111" stroke-width="0.25"/>
<circle cx="48.53" cy="365.29" r="0.75" fill="#444" fill-opacity="0.8" stroke="#111" stroke-width="0.25"/>
<circle cx="48.3" cy="362.76" r="0.75" fill="#444" fill-opacity="0.8" stroke="#111" stroke-width="0.25"/>
<circle cx="46.58" cy="383.25" r="0.75" fill="#444" fill-opacity="0.8" stroke="#111" stroke-width="0.25"/>
<circle cx="46.62" cy="358.24" r="0.75" fill="#444" fill-opacity="0.8" stroke="#111" stroke-width="0.25"/>
<circle cx="46.31" cy="376.82" r="0.75" fill="#444" fill-opacity="0.8" stroke="#111" stroke-width="0.25"/>
<circle cx="48.14" cy="391.28" r="0.75" fill="#444" fill-opacity="0.8" stroke="#111" stroke-width="0.25"/>
<circle cx="40.44" cy="359.06" r="0.75" fill="#444" fill-opacity="0.8" stroke="#111" stroke-width="0.25"/>
<circle cx="46.57" cy="378.35" r="0.75" fill="#444" fill-opacity="0.8" stroke="#111" stroke-width="0.25"/>
<circle cx="47.84" cy="390.38" r="0.75" fill="#444" fill-opacity="0.8" stroke="#111" stroke-width="0.25"/>
<circle cx="40.68" cy="387.93" r="0.75" fill="#444" fill-opacity="0.8" stroke="#111" stroke-width="0.25"/>
<circle cx="40.2" cy="358.74" r="0.75" fill="#444" fill-opacity="0.8" stroke="#111" stroke-width="0.25"/>
<circle cx="47.95" cy="380.32" r="0.75" fill="#444" fill-opacity="0.8" stroke="#111" stroke-width="0.25"/>
<circle cx="48.4" cy="390.29" r="0.75" fill="#444" fill-opacity="0.8" stroke="#111" stroke-width="0.25"/>
<circle cx="43.43" cy="384.71" r="0.75" fill="#444" fill-opacity="0.8" stroke="#111" stroke-width="0.25"/>
<circle cx="41.34" cy="375.61" r="0.75" fill="#444" fill-opacity="0.8" stroke="#111" stroke-width="0.25"/>
<circle cx="43" cy="389.6" r="0.75" fill="#444" fill-opacity="0.8" stroke="#111" stroke-width="0.25"/>
<circle cx="47.79" cy="381.5" r="0.75" fill="#444" fill-opacity="0.8" stroke="#111" stroke-width="0.25"/>
<circle cx="42.55" cy="388.18" r="0.75" fill="#444" fill-opacity="0.8" stroke="#111" stroke-width="0.25"/>
<circle cx="41.35" cy="377.58" r="0.75" fill="#444" fill-opacity="0.8" stroke="#111" stroke-width="0.25"/>
<circle cx="47.13" cy="373.88" r="0.75" fill="#444" fill-opacity="0.8" stroke="#111" stroke-width="0.25"/>
<circle cx="46.7" cy="379.72" r="0.75" fill="#444" fill-opacity="0.8" stroke="#111" stroke-width="0.25"/>
<circle cx="42.4" cy="382.81" r="0.75" fill="#444" fill-opacity="0.8" stroke="#111" stroke-width="0.25"/>
<circle cx="48.03" cy="382.98" r="0.75" fill="#444" fill-opacity="0.8" stroke="#111" stroke-width="0.25"/>
<circle cx="46.54" cy="390.6" r="0.75" fill="#444" fill-opacity="0.8" stroke="#111" stroke-width="0.25"/>
<circle cx="46.38" cy="383.99" r="0.75" fill="#444" fill-opacity="0.8" stroke="#111" stroke-width="0.25"/>
<circle cx="45.64" cy="381.64" r="0.75" fill="#444" fill-opacity="0.8" stroke="#111" stroke-width="0.25"/>
<circle cx="43.28" cy="369.39" r="0.75" fill="#444" fill-opacity="0.8" stroke="#111" stroke-width="0.25"/>
<circle cx="46.71" cy="386.69" r="0.75" fill="#444" fill-opacity="0.8" stroke="#111" stroke-width="0.25"/>
<circle cx="43.15" cy="362.96" r="0.75" fill="#444" fill-opacity="0.8" stroke="#111" stroke-width="0.25"/>
<circle cx="48.59" cy="364.72" r="0.75" fill="#444" fill-opacity="0.8" stroke="#111" stroke-width="0.25"/>
<circle cx="48.6" cy="388.75" r="0.75" fill="#444" fill-opacity="0.8" stroke="#111" stroke-width="0.25"/>
<circle cx="43.07" cy="387.51" r="0.75" fill="#444" fill-opacity="0.8" stroke="#111" stroke-width="0.25"/>
<circle cx="45.5" cy="389.99" r="0.75" fill="#444" fill-opacity="0.8" stroke="#111" stroke-width="0.25"/>
<circle cx="42.79" cy="391.28" r="0.75" fill="#444" fill-opacity="0.8" stroke="#111" stroke-width="0.25"/>
<circle cx="48.57" cy="383.55" r="0.75" fill="#444" fill-opacity="0.8" stroke="#111" stroke-width="0.25"/>
<circle cx="47.65" cy="372.92" r="0.75" fill="#444" fill-opacity="0.8" stroke="#111" stroke-width="0.25"/>
<circle cx="42.24" cy="388.85" r="0.75" fill="#444" fill-opacity="0.8" stroke="#111" stroke-width="0.25"/>
<circle cx="41.72" cy="370.38" r="0.75" fill="#444" fill-opacity="0.8" stroke="#111" stroke-width="0.25"/>
<circle cx="47.46" cy="387.96" r="0.75" fill="#444" fill-opacity="0.8" stroke="#111" stroke-width="0.25"/>
<circle cx="41.69" cy="385.6" r="0.75" fill="#444" fill-opacity="0.8" stroke="#111" stroke-width="0.25"/>
<circle cx="45.39" cy="376.97" r="0.75" fill="#444" fill-opacity="0.8" stroke="#111" stroke-width="0.25"/>
<circle cx="45.48" cy="360.51" r="0.75" fill="#444" fill-opacity="0.8" stroke="#111" stroke-width="0.25"/>
<circle cx="45.99" cy="376.53" r="0.75" fill="#444" fill-opacity="0.8" stroke="#111" stroke-width="0.25"/>
<circle cx="46.47" cy="379.54" r="0.75" fill="#444" fill-opacity="0.8" stroke="#111" stroke-width="0.25"/>
<circle cx="47.79" cy="391.06" r="0.75" fill="#444" fill-opacity="0.8" stroke="#111" stroke-width="0.25"/>
<circle cx="42.51" cy="384.16" r="0.75" fill="#444" fill-opacity="0.8" stroke="#111" stroke-width="0.25"/>
<circle cx="42.67" cy="388.53" r="0.75" fill="#444" fill-opacity="0.8" stroke="#111" stroke-width="0.25"/>
<circle cx="47.34" cy="389.99" r="0.75" fill="#444" fill-opacity="0.8" stroke="#111" stroke-width="0.25"/>
<circle cx="40.28" cy="385.48" r="0.75" fill="#444" fill-opacity="0.8" stroke="#111" stroke-width="0.25"/>
<circle cx="43.52" cy="377.61" r="0.75" fill="#444" fill-opacity="0.8" stroke="#111" stroke-width="0.25"/>
<circle cx="42.96" cy="376.84" r="0.75" fill="#444" fill-opacity="0.8" stroke="#111" stroke-width="0.25"/>
<circle cx="47.76" cy="366.52" r="0.75" fill="#444" fill-opacity="0.8" stroke="#111" stroke-width="0.25"/>
<circle cx="45.87" cy="380.12" r="0.75" fill="#444" fill-opacity="0.8" stroke="#111" stroke-width="0.25"/>
<circle cx="45.31" cy="373.04" r="0.75" fill="#444" fill-opacity="0.8" stroke="#111" stroke-width="0.25"/>
<circle cx="48.65" cy="378.12" r="0.75" fill="#444" fill-opacity="0.8" stroke="#111" stroke-width="0.25"/>
<circle cx="42.62" cy="387.51" r="0.75" fill="#444" fill-opacity="0.8" stroke="#111" stroke-width="0.25"/>
<circle cx="41.64" cy="358.05" r="0.75" fill="#444" fill-opacity="0.8" stroke="#111" stroke-width="0.25"/>
<circle cx="48.08" cy="386.74" r="0.75" fill="#444" fill-opacity="0.8" stroke="#111" stroke-width="0.25"/>
<circle cx="45.89" cy="389.59" r="0.75" fill="#444" fill-opacity="0.8" stroke="#111" stroke-width="0.25"/>
<circle cx="46.47" cy="375.77" r="0.75" fill="#444" fill-opacity="0.8" stroke="#111" stroke-width="0.25"/>
<circle cx="46.07" cy="390.94" r="0.75" fill="#444" fill-opacity="0.8" stroke="#111" stroke-width="0.25"/>
<circle cx="45.32" cy="377.21" r="0.75" fill="#444" fill-opacity="0.8" stroke="#111" stroke-width="0.25"/>
<circle cx="45.88" cy="359.28" r="0.75" fill="#444" fill-opacity="0.8" stroke="#111" stroke-width="0.25"/>
<circle cx="46.15" cy="370.22" r="0.75" fill="#444" fill-opacity="0.8" stroke="#111" stroke-width="0.25"/>
<circle cx="47.81" cy="383.9" r="0.75" fill="#444" fill-opacity="0.8" stroke="#111" stroke-width="0.25"/>
<circle cx="45.21" cy="359.14" r="0.75" fill="#444" fill-opacity="0.8" stroke="#111" stroke-width="0.25"/>
<circle cx="43.52" cy="380.3" r="0.75" fill="#444" fill-opacity="0.8" stroke="#111" stroke-width="0.25"/>
<circle cx="48.54" cy="374.76" r="0.75" fill="#444" fill-opacity="0.8" stroke="#111" stroke-width="0.25"/>
<circle cx="48.05" cy="382.56" r="0.75" fill="#444" fill-opacity="0.8" stroke="#111" stroke-width="0.25"/>
<circle cx="44.38" cy="351.72" r="0.75" fill="#444" fill-opacity="0.8" stroke="#111" stroke-width="0.25"/>
<circle cx="47.42" cy="356.19" r="0.75" fill="#444" fill-opacity="0.8" stroke="#111" stroke-width="0.25"/>
<circle cx="45.74" cy="345.58" r="0.75" fill="#444" fill-opacity="0.8" stroke="#111" stroke-width="0.25"/>
<circle cx="42.55" cy="351.05" r="0.75" fill="#444" fill-opacity="0.8" stroke="#111" stroke-width="0.25"/>
<circle cx="44.13" cy="325.5" r="0.75" fill="#444" fill-opacity="0.8" stroke="#111" stroke-width="0.25"/>
<circle cx="45.07" cy="328.28" r="0.75" fill="#444" fill-opacity="0.8" stroke="#111" stroke-width="0.25"/>
<circle cx="43.64" cy="338.07" r="0.75" fill="#444" fill-opacity="0.8" stroke="#111" stroke-width="0.25"/>
<circle cx="43.75" cy="350.74" r="0.75" fill="#444" fill-opacity="0.8" stroke="#111" stroke-width="0.25"/>
<circle cx="44.27" cy="333.12" r="0.75" fill="#444" fill-opacity="0.8" stroke="#111" stroke-width="0.25"/>
<circle cx="42.02" cy="336.89" r="0.75" fill="#444" fill-opacity="0.8" stroke="#111" stroke-width="0.25"/>
<circle cx="41.64" cy="341.14" r="0.75" fill="#444" fill-opacity="0.8" stroke="#111" stroke-width="0.25"/>
<circle cx="45.27" cy="353.9" r="0.75" fill="#444" fill-opacity="0.8" stroke="#111" stroke-width="0.25"/>
<circle cx="43.85" cy="349" r="0.75" fill="#444" fill-opacity="0.8" stroke="#111" stroke-width="0.25"/>
<circle cx="47.7" cy="320.92" r="0.75" fill="#444" fill-opacity="0.8" stroke="#111" stroke-width="0.25"/>
<circle cx="41.83" cy="350.27" r="0.75" fill="#444" fill-opacity="0.8" stroke="#111" stroke-width="0.25"/>
<circle cx="47.14" cy="339.91" r="0.75" fill="#444" fill-opacity="0.8" stroke="#111" stroke-width="0.25"/>
<circle cx="44.67" cy="348.04" r="0.75" fill="#444" fill-opacity="0.8" stroke="#111" stroke-width="0.25"/>
<circle cx="46.22" cy="328.64" r="0.75" fill="#444" fill-opacity="0.8" stroke="#111" stroke-width="0.25"/>
<circle cx="45.3" cy="275.7" r="0.75" fill="#444" fill-opacity="0.8" stroke="#111" stroke-width="0.25"/>
<circle cx="43" cy="287.8" r="0.75" fill="#444" fill-opacity="0.8" stroke="#111" stroke-width="0.25"/>
<circle cx="43.6" cy="314.3" r="0.75" fill="#444" fill-opacity="0.8" stroke="#111" stroke-width="0.25"/>
<circle cx="41.3" cy="322" r="0.75" fill="#444" fill-opacity="0.8" stroke="#111" stroke-width="0.25"/>
<circle cx="45.9" cy="320.5" r="0.75" fill="#444" fill-opacity="0.8" stroke="#111" stroke-width="0.25"/>
<circle cx="45.9" cy="323.3" r="0.75" fill="#444" fill-opacity="0.8" stroke="#111" stroke-width="0.25"/>
<circle cx="42.5" cy="326.5" r="0.75" fill="#444" fill-opacity="0.8" stroke="#111" stroke-width="0.25"/>
<circle cx="46.5" cy="330" r="0.75" fill="#444" fill-opacity="0.8" stroke="#111" stroke-width="0.25"/>
<circle cx="44.2" cy="333.5" r="0.75" fill="#444" fill-opacity="0.8" stroke="#111" stroke-width="0.25"/>
<rect x="42.9" y="362.5" width="3" height="21" fill="#c0503a" fill-opacity="0.6"/>
<line x1="44.4" y1="397.6" x2="44.4" y2="399" stroke="#444" stroke-width="0.5"/>
<line x1="61.15" y1="397.6" x2="61.15" y2="399" stroke="#444" stroke-width="0.5"/>
<line x1="77.9" y1="397.6" x2="77.9" y2="399" stroke="#444" stroke-width="0.5"/>
<line x1="94.65" y1="397.6" x2="94.65" y2="399" stroke="#444" stroke-width="0.5"/>
<line x1="111.4" y1="397.6" x2="111.4" y2="399" stroke="#444" stroke-width="0.5"/>
<line x1="128.15" y1="397.6" x2="128.15" y2="399" stroke="#444" stroke-width="0.5"/>
<line x1="144.9" y1="397.6" x2="144.9" y2="399" stroke="#444" stroke-width="0.5"/>
<line x1="161.65" y1="397.6" x2="161.65" y2="399" stroke="#444" stroke-width="0.5"/>
<line x1="178.4" y1="397.6" x2="178.4" y2="399" stroke="#444" stroke-width="0.5"/>
<line x1="195.15" y1="397.6" x2="195.15" y2="399" stroke="#444" stroke-width="0.5"/>
<line x1="211.9" y1="397.6" x2="211.9" y2="399" stroke="#444" stroke-width="0.5"/>
<line x1="228.65" y1="397.6" x2="228.65" y2="399" stroke="#444" stroke-width="0.5"/>
<line x1="245.4" y1="397.6" x2="245.4" y2="399" stroke="#444" stroke-width="0.5"/>
<line x1="262.15" y1="397.6" x2="262.15" y2="399" stroke="#444" stroke-width="0.5"/>
<line x1="278.9" y1="397.6" x2="278.9" y2="399" stroke="#444" stroke-width="0.5"/>
<line x1="295.65" y1="397.6" x2="295.65" y2="399" stroke="#444" stroke-width="0.5"/>
<line x1="312.4" y1="397.6" x2="312.4" y2="399" stroke="#444" stroke-width="0.5"/>
<line x1="329.15" y1="397.6" x2="329.15" y2="399" stroke="#444" stroke-width="0.5"/>
<line x1="345.9" y1="397.6" x2="345.9" y2="399" stroke="#444" stroke-width="0.5"/>
<line x1="362.65" y1="397.6" x2="362.65" y2="399" stroke="#444" stroke-width="0.5"/>
<line x1="379.4" y1="397.6" x2="379.4" y2="399" stroke="#444" stroke-width="0.5"/>
<line x1="396.15" y1="397.6" x2="396.15" y2="399" stroke="#444" stroke-width="0.5"/>
<line x1="412.9" y1="397.6" x2="412.9" y2="399" stroke="#444" stroke-width="0.5"/>
<line x1="429.65" y1="397.6" x2="429.65" y2="399" stroke="#444" stroke-width="0.5"/>
<line x1="446.4" y1="397.6" x2="446.4" y2="399" stroke="#444" stroke-width="0.5"/>
<line x1="54.5" y1="391.3" x2="67.8" y2="391.3" stroke="#999" stroke-width="0.4"/>
<rect x="57.8" y="390.2" width="6.7" height="2" rx="0.9" fill="#111"/>
<circle cx="62.86" cy="390.92" r="0.7" fill="#222" fill-opacity="0.8"/>
<circle cx="59.8" cy="390.89" r="0.7" fill="#222" fill-opacity="0.8"/>
<circle cx="59.65" cy="390.89" r="0.7" fill="#222" fill-opacity="0.8"/>
<circle cx="60.78" cy="390.8" r="0.7" fill="#222" fill-opacity="0.8"/>
<circle cx="59.54" cy="390.91" r="0.7" fill="#222" fill-opacity="0.8"/>
<circle cx="63.64" cy="390.81" r="0.7" fill="#222" fill-opacity="0.8"/>
<circle cx="58.5" cy="390.88" r="0.7" fill="#222" fill-opacity="0.8"/>
<circle cx="59.6" cy="391.18" r="0.7" fill="#222" fill-opacity="0.8"/>
<circle cx="62.06" cy="390.71" r="0.7" fill="#222" fill-opacity="0.8"/>
<circle cx="60.93" cy="390.64" r="0.7" fill="#222" fill-opacity="0.8"/>
<circle cx="58.13" cy="391.57" r="0.7" fill="#222" fill-opacity="0.8"/>
<circle cx="59.51" cy="391.09" r="0.7" fill="#222" fill-opacity="0.8"/>
<circle cx="60.38" cy="391.56" r="0.7" fill="#222" fill-opacity="0.8"/>
<circle cx="59.52" cy="390.66" r="0.7" fill="#222" fill-opacity="0.8"/>
<circle cx="61.76" cy="391.51" r="0.7" fill="#222" fill-opacity="0.8"/>
<circle cx="59.28" cy="390.68" r="0.7" fill="#222" fill-opacity="0.8"/>
<circle cx="61.23" cy="390.8" r="0.7" fill="#222" fill-opacity="0.8"/>
<circle cx="61.78" cy="391.45" r="0.7" fill="#222" fill-opacity="0.8"/>
<circle cx="62.16" cy="390.61" r="0.7" fill="#222" fill-opacity="0.8"/>
<circle cx="61.99" cy="391.38" r="0.7" fill="#222" fill-opacity="0.8"/>
<circle cx="60.23" cy="390.64" r="0.7" fill="#222" fill-opacity="0.8"/>
<circle cx="60.17" cy="390.65" r="0.7" fill="#222" fill-opacity="0.8"/>
<circle cx="64.2" cy="390.64" r="0.7" fill="#222" fill-opacity="0.8"/>
<circle cx="62.57" cy="391.61" r="0.7" fill="#222" fill-opacity="0.8"/>
<circle cx="63.07" cy="391.5" r="0.7" fill="#222" fill-opacity="0.8"/>
<circle cx="60.59" cy="391.01" r="0.7" fill="#222" fill-opacity="0.8"/>
<circle cx="61.89" cy="390.69" r="0.7" fill="#222" fill-opacity="0.8"/>
<circle cx="58.29" cy="391.15" r="0.7" fill="#222" fill-opacity="0.8"/>
<circle cx="61.05" cy="391.05" r="0.7" fill="#222" fill-opacity="0.8"/>
<rect x="75.5" y="390.2" width="4.8" height="2" rx="0.9" fill="#111"/>
<circle cx="79.14" cy="391.33" r="0.7" fill="#222" fill-opacity="0.8"/>
<circle cx="76.45" cy="391.19" r="0.7" fill="#222" fill-opacity="0.8"/>
<circle cx="78.54" cy="391.04" r="0.7" fill="#222" fill-opacity="0.8"/>
<circle cx="76.94" cy="391.69" r="0.7" fill="#222" fill-opacity="0.8"/>
<circle cx="78.6" cy="391.06" r="0.7" fill="#222" fill-opacity="0.8"/>
<circle cx="76.02" cy="391.42" r="0.7" fill="#222" fill-opacity="0.8"/>
<circle cx="79.51" cy="391.06" r="0.7" fill="#222" fill-opacity="0.8"/>
<circle cx="75.88" cy="391.44" r="0.7" fill="#222" fill-opacity="0.8"/>
<circle cx="79.17" cy="391.31" r="0.7" fill="#222" fill-opacity="0.8"/>
<circle cx="77.44" cy="391.05" r="0.7" fill="#222" fill-opacity="0.8"/>
<circle cx="79.76" cy="391.08" r="0.7" fill="#222" fill-opacity="0.8"/>
<circle cx="76.46" cy="390.72" r="0.7" fill="#222" fill-opacity="0.8"/>
<circle cx="76.18" cy="391.24" r="0.7" fill="#222" fill-opacity="0.8"/>
<circle cx="77.33" cy="391.45" r="0.7" fill="#222" fill-opacity="0.8"/>
<circle cx="76.35" cy="390.66" r="0.7" fill="#222" fill-opacity="0.8"/>
<circle cx="76.4" cy="391.49" r="0.7" fill="#222" fill-opacity="0.8"/>
<circle cx="77.47" cy="391.23" r="0.7" fill="#222" fill-opacity="0.8"/>
<circle cx="79.69" cy="391.41" r="0.7" fill="#222" fill-opacity="0.8"/>
<circle cx="76.52" cy="390.98" r="0.7" fill="#222" fill-opacity="0.8"/>
<circle cx="76.48" cy="390.79" r="0.7" fill="#222" fill-opacity="0.8"/>
<circle cx="76.08" cy="391.02" r="0.7" fill="#222" fill-opacity="0.8"/>
<rect x="91.15" y="390.2" width="7" height="2" rx="0.9" fill="#111"/>
<circle cx="96.27" cy="391.47" r="0.7" fill="#222" fill-opacity="0.8"/>
<circle cx="96.6" cy="390.93" r="0.7" fill="#222" fill-opacity="0.8"/>
<circle cx="96.81" cy="390.65" r="0.7" fill="#222" fill-opacity="0.8"/>
<circle cx="97.29" cy="390.95" r="0.7" fill="#222" fill-opacity="0.8"/>
<circle cx="95.34" cy="391.3" r="0.7" fill="#222" fill-opacity="0.8"/>
<circle cx="92" cy="391.38" r="0.7" fill="#222" fill-opacity="0.8"/>
<circle cx="95.85" cy="391.58" r="0.7" fill="#222" fill-opacity="0.8"/>
<circle cx="95.55" cy="391.54" r="0.7" fill="#222" fill-opacity="0.8"/>
<circle cx="95.42" cy="391.28" r="0.7" fill="#222" fill-opacity="0.8"/>
<circle cx="92.71" cy="391.12" r="0.7" fill="#222" fill-opacity="0.8"/>
<circle cx="95.07" cy="390.65" r="0.7" fill="#222" fill-opacity="0.8"/>
<circle cx="97.46" cy="390.77" r="0.7" fill="#222" fill-opacity="0.8"/>
<circle cx="93.75" cy="390.76" r="0.7" fill="#222" fill-opacity="0.8"/>
<circle cx="97.66" cy="391.5" r="0.7" fill="#222" fill-opacity="0.8"/>
<circle cx="92.68" cy="391.57" r="0.7" fill="#222" fill-opacity="0.8"/>
<circle cx="96.84" cy="391.34" r="0.7" fill="#222" fill-opacity="0.8"/>
<circle cx="95.72" cy="390.96" r="0.7" fill="#222" fill-opacity="0.8"/>
<circle cx="93.94" cy="391.1" r="0.7" fill="#222" fill-opacity="0.8"/>
<circle cx="96.88" cy="391.46" r="0.7" fill="#222" fill-opacity="0.8"/>
<circle cx="95.6" cy="390.94" r="0.7" fill="#222" fill-opacity="0.8"/>
<circle cx="93.05" cy="391.03" r="0.7" fill="#222" fill-opacity="0.8"/>
<circle cx="93.8" cy="391.15" r="0.7" fill="#222" fill-opacity="0.8"/>
<circle cx="92.59" cy="390.6" r="0.7" fill="#222" fill-opacity="0.8"/>
<circle cx="97.76" cy="391.11" r="0.7" fill="#222" fill-opacity="0.8"/>
<circle cx="94.31" cy="391.28" r="0.7" fill="#222" fill-opacity="0.8"/>
<circle cx="96.69" cy="391.52" r="0.7" fill="#222" fill-opacity="0.8"/>
<circle cx="96.64" cy="391.04" r="0.7" fill="#222" fill-opacity="0.8"/>
<circle cx="91.88" cy="390.99" r="0.7" fill="#222" fill-opacity="0.8"/>
<circle cx="93.79" cy="391.48" r="0.7" fill="#222" fill-opacity="0.8"/>
<circle cx="94.68" cy="391.32" r="0.7" fill="#222" fill-opacity="0.8"/>
<rect x="107.9" y="390.2" width="7" height="2" rx="0.9" fill="#111"/>
<circle cx="108.46" cy="390.74" r="0.7" fill="#222" fill-opacity="0.8"/>
<circle cx="114.1" cy="390.95" r="0.7" fill="#222" fill-opacity="0.8"/>
<circle cx="112.81" cy="390.69" r="0.7" fill="#222" fill-opacity="0.8"/>
<circle cx="113.01" cy="391.58" r="0.7" fill="#222" fill-opacity="0.8"/>
<circle cx="112.38" cy="391.46" r="0.7" fill="#222" fill-opacity="0.8"/>
<circle cx="108.37" cy="390.67" r="0.7" fill="#222" fill-opacity="0.8"/>
<circle cx="112.13" cy="391.36" r="0.7" fill="#222" fill-opacity="0.8"/>
<circle cx="108.9" cy="390.74" r="0.7" fill="#222" fill-opacity="0.8"/>
<circle cx="113.87" cy="390.92" r="0.7" fill="#222" fill-opacity="0.8"/>
<circle cx="113.39" cy="391.47" r="0.7" fill="#222" fill-opacity="0.8"/>
<circle cx="112.59" cy="391.39" r="0.7" fill="#222" fill-opacity="0.8"/>
<circle cx="109.62" cy="391.52" r="0.7" fill="#222" fill-opacity="0.8"/>
<circle cx="112.11" cy="390.88" r="0.7" fill="#222" fill-opacity="0.8"/>
<circle cx="110.27" cy="391.27" r="0.7" fill="#222" fill-opacity="0.8"/>
<circle cx="113.99" cy="391.1" r="0.7" fill="#222" fill-opacity="0.8"/>
<circle cx="109.83" cy="391.66" r="0.7" fill="#222" fill-opacity="0.8"/>
<circle cx="111.27" cy="391.25" r="0.7" fill="#222" fill-opacity="0.8"/>
<circle cx="112.14" cy="390.86" r="0.7" fill="#222" fill-opacity="0.8"/>
<circle cx="110.58" cy="390.82" r="0.7" fill="#222" fill-opacity="0.8"/>
<circle cx="110.78" cy="391.3" r="0.7" fill="#222" fill-opacity="0.8"/>
<circle cx="109.98" cy="390.96" r="0.7" fill="#222" fill-opacity="0.8"/>
<circle cx="110.61" cy="391.47" r="0.7" fill="#222" fill-opacity="0.8"/>
<circle cx="109.89" cy="391.45" r="0.7" fill="#222" fill-opacity="0.8"/>
<circle cx="108.51" cy="391.54" r="0.7" fill="#222" fill-opacity="0.8"/>
<circle cx="114.38" cy="391.1" r="0.7" fill="#222" fill-opacity="0.8"/>
<circle cx="111.54" cy="391.36" r="0.7" fill="#222" fill-opacity="0.8"/>
<circle cx="113.94" cy="390.88" r="0.7" fill="#222" fill-opacity="0.8"/>
<circle cx="111.63" cy="391.54" r="0.7" fill="#222" fill-opacity="0.8"/>
<circle cx="112.92" cy="391.01" r="0.7" fill="#222" fill-opacity="0.8"/>
<circle cx="110.6" cy="391.01" r="0.7" fill="#222" fill-opacity="0.8"/>
<rect x="125.45" y="390.2" width="5.4" height="2" rx="0.9" fill="#111"/>
<circle cx="126.45" cy="390.96" r="0.7" fill="#222" fill-opacity="0.8"/>
<circle cx="126.14" cy="390.85" r="0.7" fill="#222" fill-opacity="0.8"/>
<circle cx="128.7" cy="391.65" r="0.7" fill="#222" fill-opacity="0.8"/>
<circle cx="127.17" cy="391.17" r="0.7" fill="#222" fill-opacity="0.8"/>
<circle cx="127.24" cy="391.66" r="0.7" fill="#222" fill-opacity="0.8"/>
<circle cx="129.93" cy="391.62" r="0.7" fill="#222" fill-opacity="0.8"/>
<circle cx="130.05" cy="391.41" r="0.7" fill="#222" fill-opacity="0.8"/>
<circle cx="129.34" cy="390.84" r="0.7" fill="#222" fill-opacity="0.8"/>
<circle cx="127.15" cy="391.29" r="0.7" fill="#222" fill-opacity="0.8"/>
<circle cx="127.75" cy="391" r="0.7" fill="#222" fill-opacity="0.8"/>
<circle cx="125.98" cy="391.14" r="0.7" fill="#222" fill-opacity="0.8"/>
<circle cx="128.69" cy="390.65" r="0.7" fill="#222" fill-opacity="0.8"/>
<circle cx="126.01" cy="391.22" r="0.7" fill="#222" fill-opacity="0.8"/>
<circle cx="127.21" cy="391.18" r="0.7" fill="#222" fill-opacity="0.8"/>
<circle cx="128.31" cy="391.05" r="0.7" fill="#222" fill-opacity="0.8"/>
<circle cx="127.2" cy="390.75" r="0.7" fill="#222" fill-opacity="0.8"/>
<circle cx="127.51" cy="391.51" r="0.7" fill="#222" fill-opacity="0.8"/>
<circle cx="126.51" cy="390.62" r="0.7" fill="#222" fill-opacity="0.8"/>
<circle cx="129.6" cy="391.38" r="0.7" fill="#222" fill-opacity="0.8"/>
<circle cx="127.91" cy="390.67" r="0.7" fill="#222" fill-opacity="0.8"/>
<circle cx="126.44" cy="391.33" r="0.7" fill="#222" fill-opacity="0.8"/>
<circle cx="127.04" cy="391.49" r="0.7" fill="#222" fill-opacity="0.8"/>
<circle cx="130.39" cy="390.66" r="0.7" fill="#222" fill-opacity="0.8"/>
<circle cx="129.69" cy="391.58" r="0.7" fill="#222" fill-opacity="0.8"/>
<rect x="143" y="390.2" width="3.8" height="2" rx="0.9" fill="#111"/>
<circle cx="145.2" cy="391.24" r="0.7" fill="#222" fill-opacity="0.8"/>
<circle cx="145.23" cy="391.17" r="0.7" fill="#222" fill-opacity="0.8"/>
<circle cx="144.88" cy="390.78" r="0.7" fill="#222" fill-opacity="0.8"/>
<circle cx="143.3" cy="390.67" r="0.7" fill="#222" fill-opacity="0.8"/>
<circle cx="143.38" cy="390.8" r="0.7" fill="#222" fill-opacity="0.8"/>
<circle cx="143.81" cy="391.6" r="0.7" fill="#222" fill-opacity="0.8"/>
<circle cx="143.64" cy="391.27" r="0.7" fill="#222" fill-opacity="0.8"/>
<circle cx="145.4" cy="390.82" r="0.7" fill="#222" fill-opacity="0.8"/>
<circle cx="144.62" cy="391.17" r="0.7" fill="#222" fill-opacity="0.8"/>
<circle cx="145.36" cy="391.31" r="0.7" fill="#222" fill-opacity="0.8"/>
<circle cx="144.63" cy="391.27" r="0.7" fill="#222" fill-opacity="0.8"/>
<circle cx="144.93" cy="390.67" r="0.7" fill="#222" fill-opacity="0.8"/>
<circle cx="145.3" cy="391.69" r="0.7" fill="#222" fill-opacity="0.8"/>
<circle cx="145.62" cy="391.13" r="0.7" fill="#222" fill-opacity="0.8"/>
<circle cx="145.02" cy="391.01" r="0.7" fill="#222" fill-opacity="0.8"/>
<circle cx="144.7" cy="391.6" r="0.7" fill="#222" fill-opacity="0.8"/>
<circle cx="143.56" cy="391.32" r="0.7" fill="#222" fill-opacity="0.8"/>
<rect x="158.3" y="390.2" width="6.7" height="2" rx="0.9" fill="#111"/>
<circle cx="159.67" cy="391.7" r="0.7" fill="#222" fill-opacity="0.8"/>
<circle cx="160.19" cy="391.31" r="0.7" fill="#222" fill-opacity="0.8"/>
<circle cx="159.35" cy="391.58" r="0.7" fill="#222" fill-opacity="0.8"/>
<circle cx="164.24" cy="391.64" r="0.7" fill="#222" fill-opacity="0.8"/>
<circle cx="160.21" cy="390.66" r="0.7" fill="#222" fill-opacity="0.8"/>
<circle cx="162.48" cy="391.35" r="0.7" fill="#222" fill-opacity="0.8"/>
<circle cx="162.78" cy="391.61" r="0.7" fill="#222" fill-opacity="0.8"/>
<circle cx="164.53" cy="390.93" r="0.7" fill="#222" fill-opacity="0.8"/>
<circle cx="164.26" cy="391.58" r="0.7" fill="#222" fill-opacity="0.8"/>
<circle cx="159.12" cy="391.16" r="0.7" fill="#222" fill-opacity="0.8"/>
<circle cx="159.64" cy="391.6" r="0.7" fill="#222" fill-opacity="0.8"/>
<circle cx="163.73" cy="390.82" r="0.7" fill="#222" fill-opacity="0.8"/>
<circle cx="159.57" cy="391.61" r="0.7" fill="#222" fill-opacity="0.8"/>
<circle cx="159.77" cy="391.03" r="0.7" fill="#222" fill-opacity="0.8"/>
<circle cx="162.27" cy="391.02" r="0.7" fill="#222" fill-opacity="0.8"/>
<circle cx="163.8" cy="391.61" r="0.7" fill="#222" fill-opacity="0.8"/>
<circle cx="164.59" cy="391.53" r="0.7" fill="#222" fill-opacity="0.8"/>
<circle cx="161.87" cy="391.12" r="0.7" fill="#222" fill-opacity="0.8"/>
<circle cx="161.84" cy="390.61" r="0.7" fill="#222" fill-opacity="0.8"/>
<circle cx="158.76" cy="391.65" r="0.7" fill="#222" fill-opacity="0.8"/>
<circle cx="160.03" cy="391.57" r="0.7" fill="#222" fill-opacity="0.8"/>
<circle cx="163.41" cy="391.03" r="0.7" fill="#222" fill-opacity="0.8"/>
<circle cx="162.17" cy="391.22" r="0.7" fill="#222" fill-opacity="0.8"/>
<circle cx="159.65" cy="390.64" r="0.7" fill="#222" fill-opacity="0.8"/>
<circle cx="159.28" cy="391.28" r="0.7" fill="#222" fill-opacity="0.8"/>
<circle cx="159.59" cy="391.68" r="0.7" fill="#222" fill-opacity="0.8"/>
<circle cx="162.87" cy="390.63" r="0.7" fill="#222" fill-opacity="0.8"/>
<circle cx="159.44" cy="391.31" r="0.7" fill="#222" fill-opacity="0.8"/>
<circle cx="158.86" cy="390.67" r="0.7" fill="#222" fill-opacity="0.8"/>
<rect x="175.05" y="390.2" width="6.7" height="2" rx="0.9" fill="#111"/>
<circle cx="175.63" cy="391.54" r="0.7" fill="#222" fill-opacity="0.8"/>
<circle cx="180" cy="390.82" r="0.7" fill="#222" fill-opacity="0.8"/>
<circle cx="181.17" cy="391.19" r="0.7" fill="#222" fill-opacity="0.8"/>
<circle cx="179.4" cy="391.57" r="0.7" fill="#222" fill-opacity="0.8"/>
<circle cx="179.96" cy="391.38" r="0.7" fill="#222" fill-opacity="0.8"/>
<circle cx="177.69" cy="390.87" r="0.7" fill="#222" fill-opacity="0.8"/>
<circle cx="176.59" cy="390.64" r="0.7" fill="#222" fill-opacity="0.8"/>
<circle cx="181.14" cy="391.6" r="0.7" fill="#222" fill-opacity="0.8"/>
<circle cx="179.95" cy="390.7" r="0.7" fill="#222" fill-opacity="0.8"/>
<circle cx="179.93" cy="391.3" r="0.7" fill="#222" fill-opacity="0.8"/>
<circle cx="178.26" cy="390.75" r="0.7" fill="#222" fill-opacity="0.8"/>
<circle cx="180.18" cy="391.31" r="0.7" fill="#222" fill-opacity="0.8"/>
<circle cx="177.15" cy="390.97" r="0.7" fill="#222" fill-opacity="0.8"/>
<circle cx="176.94" cy="390.99" r="0.7" fill="#222" fill-opacity="0.8"/>
<circle cx="181.02" cy="390.65" r="0.7" fill="#222" fill-opacity="0.8"/>
<circle cx="179.99" cy="391.6" r="0.7" fill="#222" fill-opacity="0.8"/>
<circle cx="180.04" cy="391.26" r="0.7" fill="#222" fill-opacity="0.8"/>
<circle cx="178.25" cy="390.92" r="0.7" fill="#222" fill-opacity="0.8"/>
<circle cx="179.9" cy="391.47" r="0.7" fill="#222" fill-opacity="0.8"/>
<circle cx="175.54" cy="391.17" r="0.7" fill="#222" fill-opacity="0.8"/>
<circle cx="175.95" cy="391.12" r="0.7" fill="#222" fill-opacity="0.8"/>
<circle cx="175.64" cy="391.22" r="0.7" fill="#222" fill-opacity="0.8"/>
<circle cx="179.71" cy="391.51" r="0.7" fill="#222" fill-opacity="0.8"/>
<circle cx="178.85" cy="390.92" r="0.7" fill="#222" fill-opacity="0.8"/>
<circle cx="178.01" cy="391.18" r="0.7" fill="#222" fill-opacity="0.8"/>
<circle cx="177.11" cy="391.43" r="0.7" fill="#222" fill-opacity="0.8"/>
<circle cx="175.68" cy="390.98" r="0.7" fill="#222" fill-opacity="0.8"/>
<circle cx="175.93" cy="391.36" r="0.7" fill="#222" fill-opacity="0.8"/>
<circle cx="180.38" cy="391.66" r="0.7" fill="#222" fill-opacity="0.8"/>
<rect x="191.8" y="390.2" width="6.7" height="2" rx="0.9" fill="#111"/>
<circle cx="195.71" cy="391.65" r="0.7" fill="#222" fill-opacity="0.8"/>
<circle cx="195.24" cy="391.24" r="0.7" fill="#222" fill-opacity="0.8"/>
<circle cx="193.07" cy="391.5" r="0.7" fill="#222" fill-opacity="0.8"/>
<circle cx="197.82" cy="390.85" r="0.7" fill="#222" fill-opacity="0.8"/>
<circle cx="193.11" cy="391.63" r="0.7" fill="#222" fill-opacity="0.8"/>
<circle cx="196.78" cy="391.14" r="0.7" fill="#222" fill-opacity="0.8"/>
<circle cx="198.15" cy="391.22" r="0.7" fill="#222" fill-opacity="0.8"/>
<circle cx="192.74" cy="390.96" r="0.7" fill="#222" fill-opacity="0.8"/>
<circle cx="192.68" cy="391.62" r="0.7" fill="#222" fill-opacity="0.8"/>
<circle cx="197.54" cy="391.42" r="0.7" fill="#222" fill-opacity="0.8"/>
<circle cx="194.67" cy="391.31" r="0.7" fill="#222" fill-opacity="0.8"/>
<circle cx="194.37" cy="390.93" r="0.7" fill="#222" fill-opacity="0.8"/>
<circle cx="194.71" cy="391.2" r="0.7" fill="#222" fill-opacity="0.8"/>
<circle cx="193.14" cy="391.68" r="0.7" fill="#222" fill-opacity="0.8"/>
<circle cx="195.95" cy="391.64" r="0.7" fill="#222" fill-opacity="0.8"/>
<circle cx="192.87" cy="391.25" r="0.7" fill="#222" fill-opacity="0.8"/>
<circle cx="196.3" cy="391.27" r="0.7" fill="#222" fill-opacity="0.8"/>
<circle cx="192.31" cy="391.24" r="0.7" fill="#222" fill-opacity="0.8"/>
<circle cx="195.28" cy="391.55" r="0.7" fill="#222" fill-opacity="0.8"/>
<circle cx="194.85" cy="391.21" r="0.7" fill="#222" fill-opacity="0.8"/>
<circle cx="194.07" cy="391.11" r="0.7" fill="#222" fill-opacity="0.8"/>
<circle cx="196.3" cy="390.88" r="0.7" fill="#222" fill-opacity="0.8"/>
<circle cx="193.51" cy="390.97" r="0.7" fill="#222" fill-opacity="0.8"/>
<circle cx="196.02" cy="391.37" r="0.7" fill="#222" fill-opacity="0.8"/>
<circle cx="195.2" cy="390.89" r="0.7" fill="#222" fill-opacity="0.8"/>
<circle cx="196.7" cy="391.51" r="0.7" fill="#222" fill-opacity="0.8"/>
<circle cx="195.87" cy="391.4" r="0.7" fill="#222" fill-opacity="0.8"/>
<circle cx="198.05" cy="391.4" r="0.7" fill="#222" fill-opacity="0.8"/>
<circle cx="195.78" cy="390.98" r="0.7" fill="#222" fill-opacity="0.8"/>
<rect x="207.8" y="390.2" width="8.2" height="2" rx="0.9" fill="#111"/>
<circle cx="209.9" cy="391.65" r="0.7" fill="#222" fill-opacity="0.8"/>
<circle cx="210.07" cy="391.65" r="0.7" fill="#222" fill-opacity="0.8"/>
<circle cx="215.66" cy="390.78" r="0.7" fill="#222" fill-opacity="0.8"/>
<circle cx="213.1" cy="390.81" r="0.7" fill="#222" fill-opacity="0.8"/>
<circle cx="209.25" cy="390.76" r="0.7" fill="#222" fill-opacity="0.8"/>
<circle cx="210.4" cy="390.93" r="0.7" fill="#222" fill-opacity="0.8"/>
<circle cx="210.18" cy="390.72" r="0.7" fill="#222" fill-opacity="0.8"/>
<circle cx="215.03" cy="390.91" r="0.7" fill="#222" fill-opacity="0.8"/>
<circle cx="214.83" cy="391.11" r="0.7" fill="#222" fill-opacity="0.8"/>
<circle cx="208.2" cy="391.54" r="0.7" fill="#222" fill-opacity="0.8"/>
<circle cx="211.42" cy="390.84" r="0.7" fill="#222" fill-opacity="0.8"/>
<circle cx="215.55" cy="390.93" r="0.7" fill="#222" fill-opacity="0.8"/>
<circle cx="208.27" cy="390.88" r="0.7" fill="#222" fill-opacity="0.8"/>
<circle cx="213.71" cy="390.61" r="0.7" fill="#222" fill-opacity="0.8"/>
<circle cx="209.94" cy="391.54" r="0.7" fill="#222" fill-opacity="0.8"/>
<circle cx="213.43" cy="391.25" r="0.7" fill="#222" fill-opacity="0.8"/>
<circle cx="213.02" cy="391.53" r="0.7" fill="#222" fill-opacity="0.8"/>
<circle cx="213.18" cy="391.32" r="0.7" fill="#222" fill-opacity="0.8"/>
<circle cx="214.77" cy="391.31" r="0.7" fill="#222" fill-opacity="0.8"/>
<circle cx="212.54" cy="390.85" r="0.7" fill="#222" fill-opacity="0.8"/>
<circle cx="209.48" cy="390.74" r="0.7" fill="#222" fill-opacity="0.8"/>
<circle cx="211.39" cy="390.89" r="0.7" fill="#222" fill-opacity="0.8"/>
<circle cx="213.42" cy="391.58" r="0.7" fill="#222" fill-opacity="0.8"/>
<circle cx="209.94" cy="391.04" r="0.7" fill="#222" fill-opacity="0.8"/>
<circle cx="213.52" cy="390.77" r="0.7" fill="#222" fill-opacity="0.8"/>
<circle cx="214.56" cy="391.13" r="0.7" fill="#222" fill-opacity="0.8"/>
<circle cx="208.25" cy="391.54" r="0.7" fill="#222" fill-opacity="0.8"/>
<circle cx="212.04" cy="391.33" r="0.7" fill="#222" fill-opacity="0.8"/>
<circle cx="214.73" cy="391.58" r="0.7" fill="#222" fill-opacity="0.8"/>
<circle cx="210.59" cy="390.61" r="0.7" fill="#222" fill-opacity="0.8"/>
<circle cx="214.42" cy="391.6" r="0.7" fill="#222" fill-opacity="0.8"/>
<circle cx="208.91" cy="390.88" r="0.7" fill="#222" fill-opacity="0.8"/>
<circle cx="209.76" cy="391.39" r="0.7" fill="#222" fill-opacity="0.8"/>
<circle cx="215.33" cy="390.82" r="0.7" fill="#222" fill-opacity="0.8"/>
<circle cx="210.75" cy="391.53" r="0.7" fill="#222" fill-opacity="0.8"/>
<rect x="225.25" y="390.2" width="6.8" height="2" rx="0.9" fill="#111"/>
<circle cx="228.38" cy="390.83" r="0.7" fill="#222" fill-opacity="0.8"/>
<circle cx="228.5" cy="390.62" r="0.7" fill="#222" fill-opacity="0.8"/>
<circle cx="230.46" cy="391.01" r="0.7" fill="#222" fill-opacity="0.8"/>
<circle cx="227.68" cy="391.42" r="0.7" fill="#222" fill-opacity="0.8"/>
<circle cx="228.38" cy="391.69" r="0.7" fill="#222" fill-opacity="0.8"/>
<circle cx="226.69" cy="391.17" r="0.7" fill="#222" fill-opacity="0.8"/>
<circle cx="231.33" cy="391.4" r="0.7" fill="#222" fill-opacity="0.8"/>
<circle cx="229.36" cy="391.3" r="0.7" fill="#222" fill-opacity="0.8"/>
<circle cx="227.12" cy="391.02" r="0.7" fill="#222" fill-opacity="0.8"/>
<circle cx="225.93" cy="390.68" r="0.7" fill="#222" fill-opacity="0.8"/>
<circle cx="231.23" cy="391.29" r="0.7" fill="#222" fill-opacity="0.8"/>
<circle cx="229.73" cy="391.24" r="0.7" fill="#222" fill-opacity="0.8"/>
<circle cx="226.23" cy="390.93" r="0.7" fill="#222" fill-opacity="0.8"/>
<circle cx="228.03" cy="391.65" r="0.7" fill="#222" fill-opacity="0.8"/>
<circle cx="231.57" cy="391.69" r="0.7" fill="#222" fill-opacity="0.8"/>
<circle cx="231.51" cy="391.11" r="0.7" fill="#222" fill-opacity="0.8"/>
<circle cx="226.57" cy="391.62" r="0.7" fill="#222" fill-opacity="0.8"/>
<circle cx="225.98" cy="391.48" r="0.7" fill="#222" fill-opacity="0.8"/>
<circle cx="226.75" cy="391.31" r="0.7" fill="#222" fill-opacity="0.8"/>
<circle cx="230.02" cy="391.5" r="0.7" fill="#222" fill-opacity="0.8"/>
<circle cx="226.46" cy="391.33" r="0.7" fill="#222" fill-opacity="0.8"/>
<circle cx="230.7" cy="391.47" r="0.7" fill="#222" fill-opacity="0.8"/>
<circle cx="228.11" cy="391.7" r="0.7" fill="#222" fill-opacity="0.8"/>
<circle cx="230.26" cy="391.31" r="0.7" fill="#222" fill-opacity="0.8"/>
<circle cx="230.39" cy="391.12" r="0.7" fill="#222" fill-opacity="0.8"/>
<circle cx="230.41" cy="390.85" r="0.7" fill="#222" fill-opacity="0.8"/>
<circle cx="229.92" cy="391.36" r="0.7" fill="#222" fill-opacity="0.8"/>
<circle cx="231.64" cy="391.35" r="0.7" fill="#222" fill-opacity="0.8"/>
<circle cx="228.54" cy="391.49" r="0.7" fill="#222" fill-opacity="0.8"/>
<rect x="241.2" y="390.2" width="8.4" height="2" rx="0.9" fill="#111"/>
<circle cx="247.73" cy="390.99" r="0.7" fill="#222" fill-opacity="0.8"/>
<circle cx="246.6" cy="390.95" r="0.7" fill="#222" fill-opacity="0.8"/>
<circle cx="245.28" cy="391.29" r="0.7" fill="#222" fill-opacity="0.8"/>
<circle cx="242.17" cy="391.59" r="0.7" fill="#222" fill-opacity="0.8"/>
<circle cx="242.69" cy="390.93" r="0.7" fill="#222" fill-opacity="0.8"/>
<circle cx="244.5" cy="390.69" r="0.7" fill="#222" fill-opacity="0.8"/>
<circle cx="245.9" cy="390.96" r="0.7" fill="#222" fill-opacity="0.8"/>
<circle cx="248.85" cy="391.18" r="0.7" fill="#222" fill-opacity="0.8"/>
<circle cx="244.19" cy="391.24" r="0.7" fill="#222" fill-opacity="0.8"/>
<circle cx="246.63" cy="390.83" r="0.7" fill="#222" fill-opacity="0.8"/>
<circle cx="242.06" cy="390.92" r="0.7" fill="#222" fill-opacity="0.8"/>
<circle cx="246.24" cy="391.24" r="0.7" fill="#222" fill-opacity="0.8"/>
<circle cx="248.16" cy="390.8" r="0.7" fill="#222" fill-opacity="0.8"/>
<circle cx="245.03" cy="391.46" r="0.7" fill="#222" fill-opacity="0.8"/>
<circle cx="243.13" cy="391.04" r="0.7" fill="#222" fill-opacity="0.8"/>
<circle cx="245.67" cy="391.27" r="0.7" fill="#222" fill-opacity="0.8"/>
<circle cx="246.87" cy="391.67" r="0.7" fill="#222" fill-opacity="0.8"/>
<circle cx="242.21" cy="391.59" r="0.7" fill="#222" fill-opacity="0.8"/>
<circle cx="245.78" cy="391.3" r="0.7" fill="#222" fill-opacity="0.8"/>
<circle cx="243.82" cy="391.14" r="0.7" fill="#222" fill-opacity="0.8"/>
<circle cx="243.16" cy="390.69" r="0.7" fill="#222" fill-opacity="0.8"/>
<circle cx="248.05" cy="391.34" r="0.7" fill="#222" fill-opacity="0.8"/>
<circle cx="242.41" cy="390.73" r="0.7" fill="#222" fill-opacity="0.8"/>
<circle cx="244.77" cy="391.51" r="0.7" fill="#222" fill-opacity="0.8"/>
<circle cx="245.19" cy="391.21" r="0.7" fill="#222" fill-opacity="0.8"/>
<circle cx="245.28" cy="391.6" r="0.7" fill="#222" fill-opacity="0.8"/>
<circle cx="246.96" cy="390.87" r="0.7" fill="#222" fill-opacity="0.8"/>
<circle cx="242.78" cy="391.26" r="0.7" fill="#222" fill-opacity="0.8"/>
<circle cx="247.23" cy="390.78" r="0.7" fill="#222" fill-opacity="0.8"/>
<circle cx="244" cy="391.37" r="0.7" fill="#222" fill-opacity="0.8"/>
<circle cx="245.38" cy="390.93" r="0.7" fill="#222" fill-opacity="0.8"/>
<circle cx="245.13" cy="391.07" r="0.7" fill="#222" fill-opacity="0.8"/>
<circle cx="249.3" cy="391.34" r="0.7" fill="#222" fill-opacity="0.8"/>
<circle cx="242.91" cy="391" r="0.7" fill="#222" fill-opacity="0.8"/>
<circle cx="246.54" cy="390.62" r="0.7" fill="#222" fill-opacity="0.8"/>
<circle cx="241.86" cy="391.41" r="0.7" fill="#222" fill-opacity="0.8"/>
<rect x="258.7" y="390.2" width="6.9" height="2" rx="0.9" fill="#111"/>
<circle cx="265.29" cy="391.49" r="0.7" fill="#222" fill-opacity="0.8"/>
<circle cx="259.59" cy="391.13" r="0.7" fill="#222" fill-opacity="0.8"/>
<circle cx="263.77" cy="390.76" r="0.7" fill="#222" fill-opacity="0.8"/>
<circle cx="260.34" cy="391.06" r="0.7" fill="#222" fill-opacity="0.8"/>
<circle cx="259.8" cy="390.7" r="0.7" fill="#222" fill-opacity="0.8"/>
<circle cx="263.15" cy="390.98" r="0.7" fill="#222" fill-opacity="0.8"/>
<circle cx="263.9" cy="391.21" r="0.7" fill="#222" fill-opacity="0.8"/>
<circle cx="264.75" cy="390.91" r="0.7" fill="#222" fill-opacity="0.8"/>
<circle cx="261.15" cy="390.88" r="0.7" fill="#222" fill-opacity="0.8"/>
<circle cx="259.33" cy="390.92" r="0.7" fill="#222" fill-opacity="0.8"/>
<circle cx="261.24" cy="391.14" r="0.7" fill="#222" fill-opacity="0.8"/>
<circle cx="261.1" cy="391.68" r="0.7" fill="#222" fill-opacity="0.8"/>
<circle cx="264.5" cy="390.98" r="0.7" fill="#222" fill-opacity="0.8"/>
<circle cx="260.28" cy="391.14" r="0.7" fill="#222" fill-opacity="0.8"/>
<circle cx="259.74" cy="390.81" r="0.7" fill="#222" fill-opacity="0.8"/>
<circle cx="263.49" cy="390.74" r="0.7" fill="#222" fill-opacity="0.8"/>
<circle cx="265.13" cy="390.7" r="0.7" fill="#222" fill-opacity="0.8"/>
<circle cx="265.28" cy="391.04" r="0.7" fill="#222" fill-opacity="0.8"/>
<circle cx="262.49" cy="391.05" r="0.7" fill="#222" fill-opacity="0.8"/>
<circle cx="262.62" cy="391.04" r="0.7" fill="#222" fill-opacity="0.8"/>
<circle cx="259.68" cy="390.65" r="0.7" fill="#222" fill-opacity="0.8"/>
<circle cx="264.18" cy="391.12" r="0.7" fill="#222" fill-opacity="0.8"/>
<circle cx="263.83" cy="390.67" r="0.7" fill="#222" fill-opacity="0.8"/>
<circle cx="262.16" cy="391.2" r="0.7" fill="#222" fill-opacity="0.8"/>
<circle cx="261.37" cy="390.76" r="0.7" fill="#222" fill-opacity="0.8"/>
<circle cx="263.24" cy="391.36" r="0.7" fill="#222" fill-opacity="0.8"/>
<circle cx="264.52" cy="390.69" r="0.7" fill="#222" fill-opacity="0.8"/>
<circle cx="259.25" cy="391.3" r="0.7" fill="#222" fill-opacity="0.8"/>
<circle cx="262.94" cy="390.79" r="0.7" fill="#222" fill-opacity="0.8"/>
<circle cx="263.18" cy="391.56" r="0.7" fill="#222" fill-opacity="0.8"/>
<rect x="275.45" y="390.2" width="6.9" height="2" rx="0.9" fill="#111"/>
<circle cx="278.41" cy="390.71" r="0.7" fill="#222" fill-opacity="0.8"/>
<circle cx="281.61" cy="390.61" r="0.7" fill="#222" fill-opacity="0.8"/>
<circle cx="281.24" cy="390.75" r="0.7" fill="#222" fill-opacity="0.8"/>
<circle cx="277.7" cy="391.38" r="0.7" fill="#222" fill-opacity="0.8"/>
<circle cx="281.18" cy="390.8" r="0.7" fill="#222" fill-opacity="0.8"/>
<circle cx="275.97" cy="390.62" r="0.7" fill="#222" fill-opacity="0.8"/>
<circle cx="279.32" cy="391.24" r="0.7" fill="#222" fill-opacity="0.8"/>
<circle cx="281.51" cy="391.15" r="0.7" fill="#222" fill-opacity="0.8"/>
<circle cx="279.04" cy="391.51" r="0.7" fill="#222" fill-opacity="0.8"/>
<circle cx="280.62" cy="391.06" r="0.7" fill="#222" fill-opacity="0.8"/>
<circle cx="280.13" cy="391.05" r="0.7" fill="#222" fill-opacity="0.8"/>
<circle cx="276.17" cy="391.35" r="0.7" fill="#222" fill-opacity="0.8"/>
<circle cx="279.49" cy="391.69" r="0.7" fill="#222" fill-opacity="0.8"/>
<circle cx="279.9" cy="390.77" r="0.7" fill="#222" fill-opacity="0.8"/>
<circle cx="280.6" cy="391.2" r="0.7" fill="#222" fill-opacity="0.8"/>
<circle cx="276.27" cy="391.12" r="0.7" fill="#222" fill-opacity="0.8"/>
<circle cx="281.39" cy="391.29" r="0.7" fill="#222" fill-opacity="0.8"/>
<circle cx="278.44" cy="390.61" r="0.7" fill="#222" fill-opacity="0.8"/>
<circle cx="279.97" cy="391.69" r="0.7" fill="#222" fill-opacity="0.8"/>
<circle cx="281.16" cy="390.84" r="0.7" fill="#222" fill-opacity="0.8"/>
<circle cx="276.51" cy="391.12" r="0.7" fill="#222" fill-opacity="0.8"/>
<circle cx="277.49" cy="391.23" r="0.7" fill="#222" fill-opacity="0.8"/>
<circle cx="278.59" cy="391.42" r="0.7" fill="#222" fill-opacity="0.8"/>
<circle cx="281.56" cy="391" r="0.7" fill="#222" fill-opacity="0.8"/>
<circle cx="280.46" cy="391.36" r="0.7" fill="#222" fill-opacity="0.8"/>
<circle cx="276.66" cy="391.44" r="0.7" fill="#222" fill-opacity="0.8"/>
<circle cx="277.6" cy="391.21" r="0.7" fill="#222" fill-opacity="0.8"/>
<circle cx="278.89" cy="391.34" r="0.7" fill="#222" fill-opacity="0.8"/>
<circle cx="281.36" cy="391.6" r="0.7" fill="#222" fill-opacity="0.8"/>
<circle cx="276.08" cy="390.64" r="0.7" fill="#222" fill-opacity="0.8"/>
<rect x="292.2" y="390.2" width="6.9" height="2" rx="0.9" fill="#111"/>
<circle cx="292.88" cy="391.57" r="0.7" fill="#222" fill-opacity="0.8"/>
<circle cx="296.83" cy="391.28" r="0.7" fill="#222" fill-opacity="0.8"/>
<circle cx="294.95" cy="390.94" r="0.7" fill="#222" fill-opacity="0.8"/>
<circle cx="296.28" cy="391.65" r="0.7" fill="#222" fill-opacity="0.8"/>
<circle cx="297.76" cy="391.27" r="0.7" fill="#222" fill-opacity="0.8"/>
<circle cx="294.49" cy="391.64" r="0.7" fill="#222" fill-opacity="0.8"/>
<circle cx="297.08" cy="391.12" r="0.7" fill="#222" fill-opacity="0.8"/>
<circle cx="293.55" cy="391.66" r="0.7" fill="#222" fill-opacity="0.8"/>
<circle cx="293.24" cy="391.65" r="0.7" fill="#222" fill-opacity="0.8"/>
<circle cx="293.53" cy="391.48" r="0.7" fill="#222" fill-opacity="0.8"/>
<circle cx="295.5" cy="391.46" r="0.7" fill="#222" fill-opacity="0.8"/>
<circle cx="295.35" cy="390.9" r="0.7" fill="#222" fill-opacity="0.8"/>
<circle cx="297.26" cy="390.97" r="0.7" fill="#222" fill-opacity="0.8"/>
<circle cx="294.26" cy="391.28" r="0.7" fill="#222" fill-opacity="0.8"/>
<circle cx="296.6" cy="391.48" r="0.7" fill="#222" fill-opacity="0.8"/>
<circle cx="296.28" cy="391.56" r="0.7" fill="#222" fill-opacity="0.8"/>
<circle cx="297.07" cy="390.62" r="0.7" fill="#222" fill-opacity="0.8"/>
<circle cx="293.45" cy="391.52" r="0.7" fill="#222" fill-opacity="0.8"/>
<circle cx="296.18" cy="391.67" r="0.7" fill="#222" fill-opacity="0.8"/>
<circle cx="294.05" cy="391.03" r="0.7" fill="#222" fill-opacity="0.8"/>
<circle cx="294.87" cy="391.45" r="0.7" fill="#222" fill-opacity="0.8"/>
<circle cx="293.98" cy="391.1" r="0.7" fill="#222" fill-opacity="0.8"/>
<circle cx="296.84" cy="390.95" r="0.7" fill="#222" fill-opacity="0.8"/>
<circle cx="294.19" cy="390.77" r="0.7" fill="#222" fill-opacity="0.8"/>
<circle cx="298.3" cy="391.44" r="0.7" fill="#222" fill-opacity="0.8"/>
<circle cx="297.43" cy="390.92" r="0.7" fill="#222" fill-opacity="0.8"/>
<circle cx="293.39" cy="391.58" r="0.7" fill="#222" fill-opacity="0.8"/>
<circle cx="298.75" cy="390.76" r="0.7" fill="#222" fill-opacity="0.8"/>
<circle cx="298.64" cy="391.48" r="0.7" fill="#222" fill-opacity="0.8"/>
<circle cx="295.95" cy="391.45" r="0.7" fill="#222" fill-opacity="0.8"/>
<circle cx="310.35" cy="391.3" r="0.9" fill="#333"/>
<circle cx="314.45" cy="391.3" r="0.9" fill="#333"/>
<line x1="310.15" y1="391.3" x2="314.65" y2="391.3" stroke="#777" stroke-width="0.6"/>
<rect x="327.15" y="390.2" width="4" height="2" rx="0.9" fill="#111"/>
<circle cx="329.15" cy="391.19" r="0.7" fill="#222" fill-opacity="0.8"/>
<circle cx="329.29" cy="391.13" r="0.7" fill="#222" fill-opacity="0.8"/>
<circle cx="328.75" cy="391.47" r="0.7" fill="#222" fill-opacity="0.8"/>
<circle cx="329.91" cy="391.68" r="0.7" fill="#222" fill-opacity="0.8"/>
<circle cx="328.5" cy="390.66" r="0.7" fill="#222" fill-opacity="0.8"/>
<circle cx="328.79" cy="391.38" r="0.7" fill="#222" fill-opacity="0.8"/>
<circle cx="330.6" cy="391.25" r="0.7" fill="#222" fill-opacity="0.8"/>
<circle cx="327.48" cy="391.02" r="0.7" fill="#222" fill-opacity="0.8"/>
<circle cx="329.29" cy="391.19" r="0.7" fill="#222" fill-opacity="0.8"/>
<circle cx="328.66" cy="390.67" r="0.7" fill="#222" fill-opacity="0.8"/>
<circle cx="328.8" cy="391.17" r="0.7" fill="#222" fill-opacity="0.8"/>
<circle cx="328.33" cy="391.52" r="0.7" fill="#222" fill-opacity="0.8"/>
<circle cx="328.54" cy="391.16" r="0.7" fill="#222" fill-opacity="0.8"/>
<circle cx="328.14" cy="390.83" r="0.7" fill="#222" fill-opacity="0.8"/>
<circle cx="327.76" cy="391.49" r="0.7" fill="#222" fill-opacity="0.8"/>
<circle cx="328.44" cy="391.24" r="0.7" fill="#222" fill-opacity="0.8"/>
<circle cx="328.67" cy="391.46" r="0.7" fill="#222" fill-opacity="0.8"/>
<circle cx="330.36" cy="390.87" r="0.7" fill="#222" fill-opacity="0.8"/>
<rect x="342.45" y="390.2" width="6.9" height="2" rx="0.9" fill="#111"/>
<circle cx="348.56" cy="391.14" r="0.7" fill="#222" fill-opacity="0.8"/>
<circle cx="348.21" cy="391.01" r="0.7" fill="#222" fill-opacity="0.8"/>
<circle cx="345.67" cy="390.69" r="0.7" fill="#222" fill-opacity="0.8"/>
<circle cx="344.74" cy="390.63" r="0.7" fill="#222" fill-opacity="0.8"/>
<circle cx="344.52" cy="391.27" r="0.7" fill="#222" fill-opacity="0.8"/>
<circle cx="343.34" cy="390.83" r="0.7" fill="#222" fill-opacity="0.8"/>
<circle cx="348.24" cy="391.22" r="0.7" fill="#222" fill-opacity="0.8"/>
<circle cx="346.45" cy="390.83" r="0.7" fill="#222" fill-opacity="0.8"/>
<circle cx="348.58" cy="390.91" r="0.7" fill="#222" fill-opacity="0.8"/>
<circle cx="343.36" cy="391.09" r="0.7" fill="#222" fill-opacity="0.8"/>
<circle cx="346.49" cy="391.27" r="0.7" fill="#222" fill-opacity="0.8"/>
<circle cx="343.57" cy="391.53" r="0.7" fill="#222" fill-opacity="0.8"/>
<circle cx="344.88" cy="391.69" r="0.7" fill="#222" fill-opacity="0.8"/>
<circle cx="345.13" cy="390.63" r="0.7" fill="#222" fill-opacity="0.8"/>
<circle cx="342.97" cy="391.01" r="0.7" fill="#222" fill-opacity="0.8"/>
<circle cx="347.2" cy="391.14" r="0.7" fill="#222" fill-opacity="0.8"/>
<circle cx="348.08" cy="391.58" r="0.7" fill="#222" fill-opacity="0.8"/>
<circle cx="348.19" cy="391.3" r="0.7" fill="#222" fill-opacity="0.8"/>
<circle cx="348.56" cy="391.38" r="0.7" fill="#222" fill-opacity="0.8"/>
<circle cx="343.32" cy="390.95" r="0.7" fill="#222" fill-opacity="0.8"/>
<circle cx="344.22" cy="390.7" r="0.7" fill="#222" fill-opacity="0.8"/>
<circle cx="348.55" cy="391.16" r="0.7" fill="#222" fill-opacity="0.8"/>
<circle cx="343.9" cy="391.53" r="0.7" fill="#222" fill-opacity="0.8"/>
<circle cx="345.09" cy="390.86" r="0.7" fill="#222" fill-opacity="0.8"/>
<circle cx="347.29" cy="390.79" r="0.7" fill="#222" fill-opacity="0.8"/>
<circle cx="348.68" cy="391.64" r="0.7" fill="#222" fill-opacity="0.8"/>
<circle cx="343.12" cy="391.21" r="0.7" fill="#222" fill-opacity="0.8"/>
<circle cx="342.93" cy="391.61" r="0.7" fill="#222" fill-opacity="0.8"/>
<circle cx="344.37" cy="391.16" r="0.7" fill="#222" fill-opacity="0.8"/>
<circle cx="347.41" cy="391.44" r="0.7" fill="#222" fill-opacity="0.8"/>
<rect x="358.7" y="390.2" width="7.9" height="2" rx="0.9" fill="#111"/>
<circle cx="362.53" cy="390.71" r="0.7" fill="#222" fill-opacity="0.8"/>
<circle cx="361.32" cy="390.61" r="0.7" fill="#222" fill-opacity="0.8"/>
<circle cx="360.45" cy="391.42" r="0.7" fill="#222" fill-opacity="0.8"/>
<circle cx="363.31" cy="391.09" r="0.7" fill="#222" fill-opacity="0.8"/>
<circle cx="363.76" cy="391.12" r="0.7" fill="#222" fill-opacity="0.8"/>
<circle cx="361.71" cy="391.03" r="0.7" fill="#222" fill-opacity="0.8"/>
<circle cx="361.74" cy="391.02" r="0.7" fill="#222" fill-opacity="0.8"/>
<circle cx="362.22" cy="391.49" r="0.7" fill="#222" fill-opacity="0.8"/>
<circle cx="365.67" cy="391.58" r="0.7" fill="#222" fill-opacity="0.8"/>
<circle cx="362.42" cy="391.6" r="0.7" fill="#222" fill-opacity="0.8"/>
<circle cx="364.83" cy="390.77" r="0.7" fill="#222" fill-opacity="0.8"/>
<circle cx="365.08" cy="390.69" r="0.7" fill="#222" fill-opacity="0.8"/>
<circle cx="363.52" cy="391.01" r="0.7" fill="#222" fill-opacity="0.8"/>
<circle cx="364.47" cy="391.46" r="0.7" fill="#222" fill-opacity="0.8"/>
<circle cx="365.99" cy="391.62" r="0.7" fill="#222" fill-opacity="0.8"/>
<circle cx="361.81" cy="390.62" r="0.7" fill="#222" fill-opacity="0.8"/>
<circle cx="359.55" cy="391.67" r="0.7" fill="#222" fill-opacity="0.8"/>
<circle cx="361.35" cy="390.86" r="0.7" fill="#222" fill-opacity="0.8"/>
<circle cx="359.84" cy="391" r="0.7" fill="#222" fill-opacity="0.8"/>
<circle cx="361.42" cy="391.41" r="0.7" fill="#222" fill-opacity="0.8"/>
<circle cx="360.32" cy="391.1" r="0.7" fill="#222" fill-opacity="0.8"/>
<circle cx="365.49" cy="391.08" r="0.7" fill="#222" fill-opacity="0.8"/>
<circle cx="360.09" cy="391.06" r="0.7" fill="#222" fill-opacity="0.8"/>
<circle cx="360.8" cy="390.63" r="0.7" fill="#222" fill-opacity="0.8"/>
<circle cx="363.17" cy="390.93" r="0.7" fill="#222" fill-opacity="0.8"/>
<circle cx="364.87" cy="390.89" r="0.7" fill="#222" fill-opacity="0.8"/>
<circle cx="359.8" cy="391.1" r="0.7" fill="#222" fill-opacity="0.8"/>
<circle cx="362.52" cy="390.77" r="0.7" fill="#222" fill-opacity="0.8"/>
<circle cx="362.75" cy="391.29" r="0.7" fill="#222" fill-opacity="0.8"/>
<circle cx="364.75" cy="391.62" r="0.7" fill="#222" fill-opacity="0.8"/>
<circle cx="363.09" cy="391.52" r="0.7" fill="#222" fill-opacity="0.8"/>
<circle cx="359.87" cy="391.43" r="0.7" fill="#222" fill-opacity="0.8"/>
<circle cx="366.09" cy="391.08" r="0.7" fill="#222" fill-opacity="0.8"/>
<circle cx="360.91" cy="390.86" r="0.7" fill="#222" fill-opacity="0.8"/>
<rect x="375.85" y="390.2" width="7.1" height="2" rx="0.9" fill="#111"/>
<circle cx="377.7" cy="391.03" r="0.7" fill="#222" fill-opacity="0.8"/>
<circle cx="378.85" cy="390.78" r="0.7" fill="#222" fill-opacity="0.8"/>
<circle cx="381.56" cy="391.68" r="0.7" fill="#222" fill-opacity="0.8"/>
<circle cx="377.09" cy="391.3" r="0.7" fill="#222" fill-opacity="0.8"/>
<circle cx="379.02" cy="391.16" r="0.7" fill="#222" fill-opacity="0.8"/>
<circle cx="379.47" cy="391.09" r="0.7" fill="#222" fill-opacity="0.8"/>
<circle cx="381.28" cy="391.64" r="0.7" fill="#222" fill-opacity="0.8"/>
<circle cx="378.01" cy="391" r="0.7" fill="#222" fill-opacity="0.8"/>
<circle cx="376.41" cy="391.05" r="0.7" fill="#222" fill-opacity="0.8"/>
<circle cx="377.95" cy="390.8" r="0.7" fill="#222" fill-opacity="0.8"/>
<circle cx="381.63" cy="391.17" r="0.7" fill="#222" fill-opacity="0.8"/>
<circle cx="377.65" cy="390.79" r="0.7" fill="#222" fill-opacity="0.8"/>
<circle cx="380.05" cy="391.51" r="0.7" fill="#222" fill-opacity="0.8"/>
<circle cx="381.93" cy="391.4" r="0.7" fill="#222" fill-opacity="0.8"/>
<circle cx="381.1" cy="390.79" r="0.7" fill="#222" fill-opacity="0.8"/>
<circle cx="377.04" cy="391.34" r="0.7" fill="#222" fill-opacity="0.8"/>
<circle cx="380.23" cy="390.81" r="0.7" fill="#222" fill-opacity="0.8"/>
<circle cx="378.15" cy="390.61" r="0.7" fill="#222" fill-opacity="0.8"/>
<circle cx="380.65" cy="391.17" r="0.7" fill="#222" fill-opacity="0.8"/>
<circle cx="381.62" cy="391.61" r="0.7" fill="#222" fill-opacity="0.8"/>
<circle cx="379.52" cy="390.98" r="0.7" fill="#222" fill-opacity="0.8"/>
<circle cx="377.98" cy="391.3" r="0.7" fill="#222" fill-opacity="0.8"/>
<circle cx="382.3" cy="390.7" r="0.7" fill="#222" fill-opacity="0.8"/>
<circle cx="378.81" cy="391.44" r="0.7" fill="#222" fill-opacity="0.8"/>
<circle cx="377.02" cy="391.33" r="0.7" fill="#222" fill-opacity="0.8"/>
<circle cx="377.76" cy="391.22" r="0.7" fill="#222" fill-opacity="0.8"/>
<circle cx="382.56" cy="390.64" r="0.7" fill="#222" fill-opacity="0.8"/>
<circle cx="380.71" cy="391.23" r="0.7" fill="#222" fill-opacity="0.8"/>
<circle cx="381.73" cy="390.99" r="0.7" fill="#222" fill-opacity="0.8"/>
<circle cx="382.21" cy="391.67" r="0.7" fill="#222" fill-opacity="0.8"/>
<circle cx="394.1" cy="391.3" r="0.9" fill="#333"/>
<circle cx="398.2" cy="391.3" r="0.9" fill="#333"/>
<line x1="393.9" y1="391.3" x2="398.4" y2="391.3" stroke="#777" stroke-width="0.6"/>
<rect x="409" y="390.2" width="7.8" height="2" rx="0.9" fill="#111"/>
<circle cx="409.81" cy="390.99" r="0.7" fill="#222" fill-opacity="0.8"/>
<circle cx="411.06" cy="391.51" r="0.7" fill="#222" fill-opacity="0.8"/>
<circle cx="415.87" cy="391.46" r="0.7" fill="#222" fill-opacity="0.8"/>
<circle cx="415.55" cy="391.23" r="0.7" fill="#222" fill-opacity="0.8"/>
<circle cx="415.77" cy="390.92" r="0.7" fill="#222" fill-opacity="0.8"/>
<circle cx="410.08" cy="391.4" r="0.7" fill="#222" fill-opacity="0.8"/>
<circle cx="412.51" cy="390.63" r="0.7" fill="#222" fill-opacity="0.8"/>
<circle cx="415.09" cy="390.75" r="0.7" fill="#222" fill-opacity="0.8"/>
<circle cx="411.05" cy="390.7" r="0.7" fill="#222" fill-opacity="0.8"/>
<circle cx="413.76" cy="390.78" r="0.7" fill="#222" fill-opacity="0.8"/>
<circle cx="411.55" cy="391.21" r="0.7" fill="#222" fill-opacity="0.8"/>
<circle cx="416.18" cy="390.62" r="0.7" fill="#222" fill-opacity="0.8"/>
<circle cx="415.97" cy="391.41" r="0.7" fill="#222" fill-opacity="0.8"/>
<circle cx="411.18" cy="391.52" r="0.7" fill="#222" fill-opacity="0.8"/>
<circle cx="413.89" cy="391.11" r="0.7" fill="#222" fill-opacity="0.8"/>
<circle cx="411.02" cy="391.09" r="0.7" fill="#222" fill-opacity="0.8"/>
<circle cx="411.83" cy="390.7" r="0.7" fill="#222" fill-opacity="0.8"/>
<circle cx="410.59" cy="390.9" r="0.7" fill="#222" fill-opacity="0.8"/>
<circle cx="412.65" cy="391.24" r="0.7" fill="#222" fill-opacity="0.8"/>
<circle cx="414.78" cy="390.72" r="0.7" fill="#222" fill-opacity="0.8"/>
<circle cx="410.18" cy="391.57" r="0.7" fill="#222" fill-opacity="0.8"/>
<circle cx="413.2" cy="390.85" r="0.7" fill="#222" fill-opacity="0.8"/>
<circle cx="410.93" cy="391.34" r="0.7" fill="#222" fill-opacity="0.8"/>
<circle cx="412.63" cy="391.04" r="0.7" fill="#222" fill-opacity="0.8"/>
<circle cx="416.13" cy="390.62" r="0.7" fill="#222" fill-opacity="0.8"/>
<circle cx="413.87" cy="391.36" r="0.7" fill="#222" fill-opacity="0.8"/>
<circle cx="413.6" cy="391.26" r="0.7" fill="#222" fill-opacity="0.8"/>
<circle cx="409.56" cy="391.67" r="0.7" fill="#222" fill-opacity="0.8"/>
<circle cx="409.67" cy="391" r="0.7" fill="#222" fill-opacity="0.8"/>
<circle cx="412.19" cy="391.52" r="0.7" fill="#222" fill-opacity="0.8"/>
<circle cx="414.45" cy="391.53" r="0.7" fill="#222" fill-opacity="0.8"/>
<circle cx="413.36" cy="391.68" r="0.7" fill="#222" fill-opacity="0.8"/>
<circle cx="411.61" cy="391.04" r="0.7" fill="#222" fill-opacity="0.8"/>
<rect x="425.95" y="390.2" width="7.4" height="2" rx="0.9" fill="#111"/>
<circle cx="430.07" cy="390.96" r="0.7" fill="#222" fill-opacity="0.8"/>
<circle cx="427.25" cy="391.35" r="0.7" fill="#222" fill-opacity="0.8"/>
<circle cx="428.65" cy="391.56" r="0.7" fill="#222" fill-opacity="0.8"/>
<circle cx="430.76" cy="390.61" r="0.7" fill="#222" fill-opacity="0.8"/>
<circle cx="426.99" cy="390.81" r="0.7" fill="#222" fill-opacity="0.8"/>
<circle cx="428.46" cy="390.82" r="0.7" fill="#222" fill-opacity="0.8"/>
<circle cx="430.8" cy="390.85" r="0.7" fill="#222" fill-opacity="0.8"/>
<circle cx="429.11" cy="391.04" r="0.7" fill="#222" fill-opacity="0.8"/>
<circle cx="433.03" cy="391.1" r="0.7" fill="#222" fill-opacity="0.8"/>
<circle cx="426.57" cy="391.68" r="0.7" fill="#222" fill-opacity="0.8"/>
<circle cx="432.87" cy="390.64" r="0.7" fill="#222" fill-opacity="0.8"/>
<circle cx="432.14" cy="391.28" r="0.7" fill="#222" fill-opacity="0.8"/>
<circle cx="432.49" cy="391.29" r="0.7" fill="#222" fill-opacity="0.8"/>
<circle cx="430.52" cy="391.49" r="0.7" fill="#222" fill-opacity="0.8"/>
<circle cx="426.49" cy="390.71" r="0.7" fill="#222" fill-opacity="0.8"/>
<circle cx="427.08" cy="390.62" r="0.7" fill="#222" fill-opacity="0.8"/>
<circle cx="427.86" cy="390.64" r="0.7" fill="#222" fill-opacity="0.8"/>
<circle cx="427.02" cy="390.98" r="0.7" fill="#222" fill-opacity="0.8"/>
<circle cx="427.39" cy="390.67" r="0.7" fill="#222" fill-opacity="0.8"/>
<circle cx="432.77" cy="391.61" r="0.7" fill="#222" fill-opacity="0.8"/>
<circle cx="432.38" cy="390.69" r="0.7" fill="#222" fill-opacity="0.8"/>
<circle cx="430.26" cy="391.63" r="0.7" fill="#222" fill-opacity="0.8"/>
<circle cx="429.24" cy="391.16" r="0.7" fill="#222" fill-opacity="0.8"/>
<circle cx="432.27" cy="391.61" r="0.7" fill="#222" fill-opacity="0.8"/>
<circle cx="430.18" cy="390.9" r="0.7" fill="#222" fill-opacity="0.8"/>
<circle cx="431.25" cy="391.41" r="0.7" fill="#222" fill-opacity="0.8"/>
<circle cx="428.2" cy="391.1" r="0.7" fill="#222" fill-opacity="0.8"/>
<circle cx="430.97" cy="390.84" r="0.7" fill="#222" fill-opacity="0.8"/>
<circle cx="428.88" cy="391.2" r="0.7" fill="#222" fill-opacity="0.8"/>
<circle cx="428.74" cy="391.58" r="0.7" fill="#222" fill-opacity="0.8"/>
<circle cx="428.32" cy="391.13" r="0.7" fill="#222" fill-opacity="0.8"/>
<circle cx="431.82" cy="390.63" r="0.7" fill="#222" fill-opacity="0.8"/>
<circle cx="444.8" cy="391.3" r="0.9" fill="#333"/>
<circle cx="448" cy="391.3" r="0.9" fill="#333"/>
<line x1="444.6" y1="391.3" x2="448.2" y2="391.3" stroke="#777" stroke-width="0.6"/>
<text x="43" y="403.2" font-size="5.7" font-weight="bold" fill="#111" text-anchor="end" transform="rotate(-45 43 403.2)" stroke="#111" stroke-width="0.18">Haematopoietic</text>
<text x="43.6" y="411.3" font-size="5.7" font-weight="bold" fill="#111" text-anchor="end" transform="rotate(-45 43.6 411.3)" stroke="#111" stroke-width="0.18">and lymphoid</text>
<text x="62.65" y="402.5" font-size="5.7" font-weight="bold" fill="#111" text-anchor="end" transform="rotate(-45 62.65 402.5)" stroke="#111" stroke-width="0.18">Autonomic ganglia</text>
<text x="79.4" y="402.5" font-size="5.7" font-weight="bold" fill="#111" text-anchor="end" transform="rotate(-45 79.4 402.5)" stroke="#111" stroke-width="0.18">Biliary tract</text>
<text x="96.15" y="402.5" font-size="5.7" font-weight="bold" fill="#111" text-anchor="end" transform="rotate(-45 96.15 402.5)" stroke="#111" stroke-width="0.18">Bone</text>
<text x="112.9" y="402.5" font-size="5.7" font-weight="bold" fill="#111" text-anchor="end" transform="rotate(-45 112.9 402.5)" stroke="#111" stroke-width="0.18">Breast</text>
<text x="129.65" y="402.5" font-size="5.7" font-weight="bold" fill="#111" text-anchor="end" transform="rotate(-45 129.65 402.5)" stroke="#111" stroke-width="0.18">Central nervous system</text>
<text x="146.4" y="402.5" font-size="5.7" font-weight="bold" fill="#111" text-anchor="end" transform="rotate(-45 146.4 402.5)" stroke="#111" stroke-width="0.18">Cervix</text>
<text x="163.15" y="402.5" font-size="5.7" font-weight="bold" fill="#111" text-anchor="end" transform="rotate(-45 163.15 402.5)" stroke="#111" stroke-width="0.18">Endometrium</text>
<text x="179.9" y="402.5" font-size="5.7" font-weight="bold" fill="#111" text-anchor="end" transform="rotate(-45 179.9 402.5)" stroke="#111" stroke-width="0.18">Fibroblast</text>
<text x="196.65" y="402.5" font-size="5.7" font-weight="bold" fill="#111" text-anchor="end" transform="rotate(-45 196.65 402.5)" stroke="#111" stroke-width="0.18">Kidney</text>
<text x="213.4" y="402.5" font-size="5.7" font-weight="bold" fill="#111" text-anchor="end" transform="rotate(-45 213.4 402.5)" stroke="#111" stroke-width="0.18">Large intestine</text>
<text x="230.15" y="402.5" font-size="5.7" font-weight="bold" fill="#111" text-anchor="end" transform="rotate(-45 230.15 402.5)" stroke="#111" stroke-width="0.18">Liver</text>
<text x="246.9" y="402.5" font-size="5.7" font-weight="bold" fill="#111" text-anchor="end" transform="rotate(-45 246.9 402.5)" stroke="#111" stroke-width="0.18">Lung</text>
<text x="263.65" y="402.5" font-size="5.7" font-weight="bold" fill="#111" text-anchor="end" transform="rotate(-45 263.65 402.5)" stroke="#111" stroke-width="0.18">Oesophagus</text>
<text x="280.4" y="402.5" font-size="5.7" font-weight="bold" fill="#111" text-anchor="end" transform="rotate(-45 280.4 402.5)" stroke="#111" stroke-width="0.18">Ovary</text>
<text x="297.15" y="402.5" font-size="5.7" font-weight="bold" fill="#111" text-anchor="end" transform="rotate(-45 297.15 402.5)" stroke="#111" stroke-width="0.18">Pancreas</text>
<text x="313.9" y="402.5" font-size="5.7" font-weight="bold" fill="#111" text-anchor="end" transform="rotate(-45 313.9 402.5)" stroke="#111" stroke-width="0.18">Pleura</text>
<text x="330.65" y="402.5" font-size="5.7" font-weight="bold" fill="#111" text-anchor="end" transform="rotate(-45 330.65 402.5)" stroke="#111" stroke-width="0.18">Prostate</text>
<text x="347.4" y="402.5" font-size="5.7" font-weight="bold" fill="#111" text-anchor="end" transform="rotate(-45 347.4 402.5)" stroke="#111" stroke-width="0.18">Skin</text>
<text x="364.15" y="402.5" font-size="5.7" font-weight="bold" fill="#111" text-anchor="end" transform="rotate(-45 364.15 402.5)" stroke="#111" stroke-width="0.18">Soft tissue</text>
<text x="380.9" y="402.5" font-size="5.7" font-weight="bold" fill="#111" text-anchor="end" transform="rotate(-45 380.9 402.5)" stroke="#111" stroke-width="0.18">Stomach</text>
<text x="397.65" y="402.5" font-size="5.7" font-weight="bold" fill="#111" text-anchor="end" transform="rotate(-45 397.65 402.5)" stroke="#111" stroke-width="0.18">Thyroid</text>
<text x="414.4" y="402.5" font-size="5.7" font-weight="bold" fill="#111" text-anchor="end" transform="rotate(-45 414.4 402.5)" stroke="#111" stroke-width="0.18">Upper aerodigestive tract</text>
<text x="431.15" y="402.5" font-size="5.7" font-weight="bold" fill="#111" text-anchor="end" transform="rotate(-45 431.15 402.5)" stroke="#111" stroke-width="0.18">Urinary tract</text>
<text x="447.9" y="402.5" font-size="5.7" font-weight="bold" fill="#111" text-anchor="end" transform="rotate(-45 447.9 402.5)" stroke="#111" stroke-width="0.18">Other</text>
<text x="7.5" y="478.9" font-size="7.4" font-weight="bold" fill="#000" text-anchor="start">D</text>
<rect x="28.7" y="497.5" width="206.8" height="22.3" fill="#f6f6f6" stroke="#5e5e5e" stroke-width="1.0"/>
<rect x="29.6" y="498.4" width="205" height="20.5" fill="none" stroke="#dcdcdc" stroke-width="0.9"/>
<rect x="28.7" y="523.6" width="206.8" height="20.4" fill="#f6f6f6" stroke="#5e5e5e" stroke-width="1.0"/>
<rect x="29.6" y="524.5" width="205" height="18.6" fill="none" stroke="#dcdcdc" stroke-width="0.9"/>
<rect x="238.7" y="497.5" width="221.3" height="22.3" fill="#f6f6f6" stroke="#5e5e5e" stroke-width="1.0"/>
<rect x="239.6" y="498.4" width="219.5" height="20.5" fill="none" stroke="#dcdcdc" stroke-width="0.9"/>
<rect x="238.7" y="523.6" width="221.3" height="20.4" fill="#f6f6f6" stroke="#5e5e5e" stroke-width="1.0"/>
<rect x="239.6" y="524.5" width="219.5" height="18.6" fill="none" stroke="#dcdcdc" stroke-width="0.9"/>
<rect x="33.5" y="499.5" width="13" height="18.5" fill="#9a9a9a" fill-opacity="0.22" filter="url(#b2)"/>
<rect x="97" y="500" width="13" height="17.5" fill="#9a9a9a" fill-opacity="0.14" filter="url(#b2)"/>
<rect x="127" y="500" width="13" height="17.5" fill="#9a9a9a" fill-opacity="0.16" filter="url(#b2)"/>
<rect x="142" y="500" width="13" height="17.5" fill="#9a9a9a" fill-opacity="0.2" filter="url(#b2)"/>
<rect x="57" y="500" width="7" height="17.5" fill="#9a9a9a" fill-opacity="0.06" filter="url(#b2)"/>
<rect x="113" y="500" width="11" height="17.5" fill="#9a9a9a" fill-opacity="0.06" filter="url(#b2)"/>
<rect x="83" y="500" width="10" height="17.5" fill="#9a9a9a" fill-opacity="0.05" filter="url(#b2)"/>
<rect x="259" y="500" width="10" height="17.5" fill="#9a9a9a" fill-opacity="0.07" filter="url(#b2)"/>
<rect x="273" y="500" width="12" height="17.5" fill="#9a9a9a" fill-opacity="0.08" filter="url(#b2)"/>
<rect x="288" y="500" width="11" height="17.5" fill="#9a9a9a" fill-opacity="0.06" filter="url(#b2)"/>
<rect x="303" y="500" width="13" height="17.5" fill="#9a9a9a" fill-opacity="0.09" filter="url(#b2)"/>
<rect x="336" y="500" width="13" height="17.5" fill="#9a9a9a" fill-opacity="0.08" filter="url(#b2)"/>
<rect x="367" y="500" width="13" height="17.5" fill="#9a9a9a" fill-opacity="0.09" filter="url(#b2)"/>
<rect x="383" y="500" width="13" height="17.5" fill="#9a9a9a" fill-opacity="0.11" filter="url(#b2)"/>
<rect x="399" y="500" width="12" height="17.5" fill="#9a9a9a" fill-opacity="0.07" filter="url(#b2)"/>
<rect x="414" y="500" width="13" height="17.5" fill="#9a9a9a" fill-opacity="0.09" filter="url(#b2)"/>
<rect x="445" y="500" width="13" height="17.5" fill="#9a9a9a" fill-opacity="0.16" filter="url(#b2)"/>
<rect x="243" y="500" width="13" height="17.5" fill="#9a9a9a" fill-opacity="0.1" filter="url(#b2)"/>
<rect x="318" y="513" width="14" height="5.5" fill="#9a9a9a" fill-opacity="0.12" filter="url(#b2)"/>
<rect x="33.3" y="506" width="13.7" height="5.6" rx="4.11" ry="2.8" fill="#0a0a0a" fill-opacity="1.0" filter="url(#b1)"/>
<rect x="243" y="506" width="13.9" height="5.2" rx="4.17" ry="2.6" fill="#0a0a0a" fill-opacity="1.0" filter="url(#b1)"/>
<rect x="34.4" y="530.8" width="12.6" height="4.6" rx="3.78" ry="2.3" fill="#0a0a0a" fill-opacity="1.0" filter="url(#b1)"/>
<rect x="49.2" y="530.4" width="14.1" height="5.2" rx="4.23" ry="2.6" fill="#0a0a0a" fill-opacity="1.0" filter="url(#b1)"/>
<rect x="64.6" y="530.5" width="13.1" height="4.8" rx="3.93" ry="2.4" fill="#0a0a0a" fill-opacity="1.0" filter="url(#b1)"/>
<rect x="79.8" y="530.3" width="13.6" height="4.8" rx="4.08" ry="2.4" fill="#0a0a0a" fill-opacity="1.0" filter="url(#b1)"/>
<rect x="95.9" y="530" width="14.2" height="5.4" rx="4.26" ry="2.7" fill="#0a0a0a" fill-opacity="1.0" filter="url(#b1)"/>
<rect x="112.2" y="530.1" width="12.5" height="5.2" rx="3.75" ry="2.6" fill="#0a0a0a" fill-opacity="1.0" filter="url(#b1)"/>
<rect x="126.4" y="530.2" width="14" height="5.4" rx="4.2" ry="2.7" fill="#0a0a0a" fill-opacity="1.0" filter="url(#b1)"/>
<rect x="141.8" y="530.2" width="13.2" height="5" rx="3.96" ry="2.5" fill="#0a0a0a" fill-opacity="1.0" filter="url(#b1)"/>
<rect x="155.2" y="529.7" width="13.6" height="5.6" rx="4.08" ry="2.8" fill="#0a0a0a" fill-opacity="1.0" filter="url(#b1)"/>
<rect x="170.9" y="530.2" width="12.5" height="4.2" rx="3.75" ry="2.1" fill="#0a0a0a" fill-opacity="1.0" filter="url(#b1)"/>
<rect x="187.2" y="529.5" width="14.6" height="5" rx="4.38" ry="2.5" fill="#0a0a0a" fill-opacity="1.0" filter="url(#b1)"/>
<rect x="205.8" y="530.7" width="10" height="3.8" rx="3" ry="1.9" fill="#0a0a0a" fill-opacity="1.0" filter="url(#b1)"/>
<rect x="217.6" y="528" width="13.9" height="6.6" rx="4.17" ry="3.3" fill="#0a0a0a" fill-opacity="1.0" filter="url(#b1)"/>
<rect x="242.7" y="533.8" width="11.7" height="3.8" rx="3.51" ry="1.9" fill="#0a0a0a" fill-opacity="1.0" filter="url(#b1)"/>
<rect x="257.8" y="533.75" width="11.5" height="3.9" rx="3.45" ry="1.95" fill="#0a0a0a" fill-opacity="1.0" filter="url(#b1)"/>
<rect x="272.6" y="533.45" width="12.5" height="4.3" rx="3.75" ry="2.15" fill="#0a0a0a" fill-opacity="1.0" filter="url(#b1)"/>
<rect x="287.6" y="533.65" width="12.1" height="3.9" rx="3.63" ry="1.95" fill="#0a0a0a" fill-opacity="1.0" filter="url(#b1)"/>
<rect x="302.8" y="533.25" width="13.6" height="4.1" rx="4.08" ry="2.05" fill="#0a0a0a" fill-opacity="1.0" filter="url(#b1)"/>
<rect x="318.5" y="533.05" width="13.6" height="3.9" rx="4.08" ry="1.95" fill="#0a0a0a" fill-opacity="1.0" filter="url(#b1)"/>
<rect x="336.2" y="533.05" width="13.1" height="3.9" rx="3.93" ry="1.95" fill="#0a0a0a" fill-opacity="1.0" filter="url(#b1)"/>
<rect x="351.2" y="532.55" width="13.6" height="4.5" rx="4.08" ry="2.25" fill="#0a0a0a" fill-opacity="1.0" filter="url(#b1)"/>
<rect x="366.7" y="532.65" width="13.7" height="4.3" rx="4.11" ry="2.15" fill="#0a0a0a" fill-opacity="1.0" filter="url(#b1)"/>
<rect x="382.9" y="532.65" width="14" height="4.3" rx="4.2" ry="2.15" fill="#0a0a0a" fill-opacity="1.0" filter="url(#b1)"/>
<rect x="398.4" y="532.75" width="13.1" height="4.1" rx="3.93" ry="2.05" fill="#0a0a0a" fill-opacity="1.0" filter="url(#b1)"/>
<rect x="413.4" y="532.25" width="14.6" height="4.7" rx="4.38" ry="2.35" fill="#0a0a0a" fill-opacity="1.0" filter="url(#b1)"/>
<rect x="429.5" y="532.45" width="14" height="4.7" rx="4.2" ry="2.35" fill="#0a0a0a" fill-opacity="1.0" filter="url(#b1)"/>
<rect x="445.1" y="532.45" width="13" height="4.3" rx="3.9" ry="2.15" fill="#0a0a0a" fill-opacity="1.0" filter="url(#b1)"/>
<text x="27.3" y="511.5" font-size="6.6" font-weight="bold" fill="#111" text-anchor="end">ACAP1</text>
<text x="27.4" y="535.5" font-size="6.45" font-weight="bold" fill="#111" text-anchor="end">GAPDH</text>
<text x="0" y="0" font-size="6.2" font-weight="bold" fill="#111" stroke="#111" stroke-width="0.15" transform="translate(41.7 496.6) rotate(-70)">Jurkat</text>
<text x="0" y="0" font-size="6.2" font-weight="bold" fill="#111" stroke="#111" stroke-width="0.15" transform="translate(56.25 496.6) rotate(-70)">OSRC2</text>
<text x="0" y="0" font-size="6.2" font-weight="bold" fill="#111" stroke="#111" stroke-width="0.15" transform="translate(72.15 496.6) rotate(-70)">CAKI1</text>
<text x="0" y="0" font-size="6.2" font-weight="bold" fill="#111" stroke="#111" stroke-width="0.15" transform="translate(90.1 496.6) rotate(-70)">A498</text>
<text x="0" y="0" font-size="6.2" font-weight="bold" fill="#111" stroke="#111" stroke-width="0.15" transform="translate(106 496.6) rotate(-70)">RT112/84</text>
<text x="0" y="0" font-size="6.2" font-weight="bold" fill="#111" stroke="#111" stroke-width="0.15" transform="translate(120.45 496.6) rotate(-70)">J82</text>
<text x="0" y="0" font-size="6.2" font-weight="bold" fill="#111" stroke="#111" stroke-width="0.15" transform="translate(134.4 496.6) rotate(-70)">KU1919</text>
<text x="0" y="0" font-size="6.2" font-weight="bold" fill="#111" stroke="#111" stroke-width="0.15" transform="translate(149.4 496.6) rotate(-70)">BFTC905</text>
<text x="0" y="0" font-size="6.2" font-weight="bold" fill="#111" stroke="#111" stroke-width="0.15" transform="translate(164.3 496.6) rotate(-70)">UMUC3</text>
<text x="0" y="0" font-size="6.2" font-weight="bold" fill="#111" stroke="#111" stroke-width="0.15" transform="translate(179.55 496.6) rotate(-70)">5637</text>
<text x="0" y="0" font-size="6.2" font-weight="bold" fill="#111" stroke="#111" stroke-width="0.15" transform="translate(194.3 496.6) rotate(-70)">HEPG2</text>
<text x="0" y="0" font-size="6.2" font-weight="bold" fill="#111" stroke="#111" stroke-width="0.15" transform="translate(211.1 496.6) rotate(-70)">SK-HEP1</text>
<text x="0" y="0" font-size="6.2" font-weight="bold" fill="#111" stroke="#111" stroke-width="0.15" transform="translate(226.75 496.6) rotate(-70)">HUH7</text>
<text x="0" y="0" font-size="6.2" font-weight="bold" fill="#111" stroke="#111" stroke-width="0.15" transform="translate(252.25 496.6) rotate(-70)">Jurkat</text>
<text x="0" y="0" font-size="6.2" font-weight="bold" fill="#111" stroke="#111" stroke-width="0.15" transform="translate(267.61 496.6) rotate(-70)">HCT116</text>
<text x="0" y="0" font-size="6.2" font-weight="bold" fill="#111" stroke="#111" stroke-width="0.15" transform="translate(282.97 496.6) rotate(-70)">HT29</text>
<text x="0" y="0" font-size="6.2" font-weight="bold" fill="#111" stroke="#111" stroke-width="0.15" transform="translate(298.33 496.6) rotate(-70)">SW480</text>
<text x="0" y="0" font-size="6.2" font-weight="bold" fill="#111" stroke="#111" stroke-width="0.15" transform="translate(313.69 496.6) rotate(-70)">SW620</text>
<text x="0" y="0" font-size="6.2" font-weight="bold" fill="#111" stroke="#111" stroke-width="0.15" transform="translate(329.05 496.6) rotate(-70)">A549</text>
<text x="0" y="0" font-size="6.2" font-weight="bold" fill="#111" stroke="#111" stroke-width="0.15" transform="translate(344.41 496.6) rotate(-70)">H1299</text>
<text x="0" y="0" font-size="6.2" font-weight="bold" fill="#111" stroke="#111" stroke-width="0.15" transform="translate(359.77 496.6) rotate(-70)">CALU3</text>
<text x="0" y="0" font-size="6.2" font-weight="bold" fill="#111" stroke="#111" stroke-width="0.15" transform="translate(375.13 496.6) rotate(-70)">H1975</text>
<text x="0" y="0" font-size="6.2" font-weight="bold" fill="#111" stroke="#111" stroke-width="0.15" transform="translate(390.49 496.6) rotate(-70)">KYSE30</text>
<text x="0" y="0" font-size="6.2" font-weight="bold" fill="#111" stroke="#111" stroke-width="0.15" transform="translate(405.85 496.6) rotate(-70)">KYSE140</text>
<text x="0" y="0" font-size="6.2" font-weight="bold" fill="#111" stroke="#111" stroke-width="0.15" transform="translate(421.21 496.6) rotate(-70)">KYSE150</text>
<text x="0" y="0" font-size="6.2" font-weight="bold" fill="#111" stroke="#111" stroke-width="0.15" transform="translate(436.57 496.6) rotate(-70)">KYSE410</text>
<text x="0" y="0" font-size="6.2" font-weight="bold" fill="#111" stroke="#111" stroke-width="0.15" transform="translate(451.93 496.6) rotate(-70)">KYSE450</text>
<text x="463" y="494.6" font-size="6.4" font-weight="normal" fill="#000" text-anchor="start" stroke="#000" stroke-width="0.14">kDa</text>
<text x="463.4" y="512" font-size="6.3" font-weight="normal" fill="#000" text-anchor="start" stroke="#000" stroke-width="0.14">- 82</text>
<text x="463.4" y="536" font-size="6.3" font-weight="normal" fill="#000" text-anchor="start" stroke="#000" stroke-width="0.14">- 36</text></svg></body></html>
